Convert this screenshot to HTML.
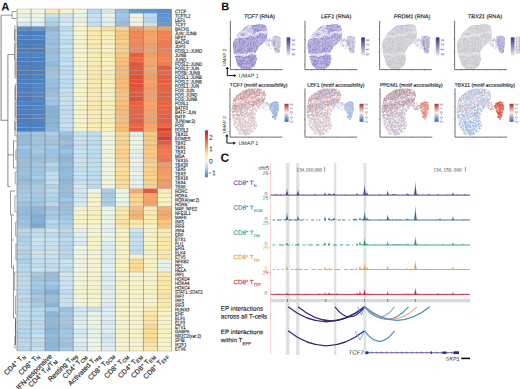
<!DOCTYPE html>
<html><head><meta charset="utf-8"><style>
html,body{margin:0;padding:0;background:#fff;width:520px;height:389px;overflow:hidden}
svg{display:block;font-family:"Liberation Sans",sans-serif} text{text-rendering:geometricPrecision}
</style></head><body>
<svg width="520" height="389" viewBox="0 0 520 389">
<rect width="520" height="389" fill="#fff"/>
<rect x="17.00" y="9.00" width="14.05" height="4.385" fill="#f5f4cf"/>
<rect x="31.05" y="9.00" width="14.05" height="4.385" fill="#f0f5df"/>
<rect x="45.10" y="9.00" width="14.05" height="4.385" fill="#fae9aa"/>
<rect x="59.15" y="9.00" width="14.05" height="4.385" fill="#f8f4c6"/>
<rect x="73.20" y="9.00" width="14.05" height="4.385" fill="#f0f5df"/>
<rect x="87.25" y="9.00" width="14.05" height="4.385" fill="#b6d6eb"/>
<rect x="101.30" y="9.00" width="14.05" height="4.385" fill="#d1e7f2"/>
<rect x="115.35" y="9.00" width="14.05" height="4.385" fill="#96bedd"/>
<rect x="129.40" y="9.00" width="14.05" height="4.385" fill="#679ace"/>
<rect x="143.45" y="9.00" width="14.05" height="4.385" fill="#6395cc"/>
<rect x="157.50" y="9.00" width="14.05" height="4.385" fill="#5b8ec9"/>
<rect x="17.00" y="13.38" width="14.05" height="4.385" fill="#e4f0ec"/>
<rect x="31.05" y="13.38" width="14.05" height="4.385" fill="#edf4e7"/>
<rect x="45.10" y="13.38" width="14.05" height="4.385" fill="#c7e1ef"/>
<rect x="59.15" y="13.38" width="14.05" height="4.385" fill="#d2e8f2"/>
<rect x="73.20" y="13.38" width="14.05" height="4.385" fill="#e9f3e9"/>
<rect x="87.25" y="13.38" width="14.05" height="4.385" fill="#c7e1ef"/>
<rect x="101.30" y="13.38" width="14.05" height="4.385" fill="#eef5e6"/>
<rect x="115.35" y="13.38" width="14.05" height="4.385" fill="#a5c9e4"/>
<rect x="129.40" y="13.38" width="14.05" height="4.385" fill="#f0f5e1"/>
<rect x="143.45" y="13.38" width="14.05" height="4.385" fill="#bfdcee"/>
<rect x="157.50" y="13.38" width="14.05" height="4.385" fill="#5f92cb"/>
<rect x="17.00" y="17.77" width="14.05" height="4.385" fill="#edf5e7"/>
<rect x="31.05" y="17.77" width="14.05" height="4.385" fill="#e7f2ea"/>
<rect x="45.10" y="17.77" width="14.05" height="4.385" fill="#b5d6eb"/>
<rect x="59.15" y="17.77" width="14.05" height="4.385" fill="#cee5f1"/>
<rect x="73.20" y="17.77" width="14.05" height="4.385" fill="#ebf3e8"/>
<rect x="87.25" y="17.77" width="14.05" height="4.385" fill="#cae2f0"/>
<rect x="101.30" y="17.77" width="14.05" height="4.385" fill="#e1efee"/>
<rect x="115.35" y="17.77" width="14.05" height="4.385" fill="#9ec4e1"/>
<rect x="129.40" y="17.77" width="14.05" height="4.385" fill="#f1f5dd"/>
<rect x="143.45" y="17.77" width="14.05" height="4.385" fill="#b6d6eb"/>
<rect x="157.50" y="17.77" width="14.05" height="4.385" fill="#6496cd"/>
<rect x="17.00" y="22.16" width="14.05" height="4.385" fill="#d5e9f2"/>
<rect x="31.05" y="22.16" width="14.05" height="4.385" fill="#dfeeef"/>
<rect x="45.10" y="22.16" width="14.05" height="4.385" fill="#accfe7"/>
<rect x="59.15" y="22.16" width="14.05" height="4.385" fill="#d4e9f2"/>
<rect x="73.20" y="22.16" width="14.05" height="4.385" fill="#f2f5da"/>
<rect x="87.25" y="22.16" width="14.05" height="4.385" fill="#c2deee"/>
<rect x="101.30" y="22.16" width="14.05" height="4.385" fill="#e1efee"/>
<rect x="115.35" y="22.16" width="14.05" height="4.385" fill="#95bedd"/>
<rect x="129.40" y="22.16" width="14.05" height="4.385" fill="#eaf3e8"/>
<rect x="143.45" y="22.16" width="14.05" height="4.385" fill="#c9e2f0"/>
<rect x="157.50" y="22.16" width="14.05" height="4.385" fill="#6698cd"/>
<rect x="17.00" y="26.54" width="14.05" height="4.385" fill="#588cc8"/>
<rect x="31.05" y="26.54" width="14.05" height="4.385" fill="#6497cd"/>
<rect x="45.10" y="26.54" width="14.05" height="4.385" fill="#8ab5d8"/>
<rect x="59.15" y="26.54" width="14.05" height="4.385" fill="#bedbed"/>
<rect x="73.20" y="26.54" width="14.05" height="4.385" fill="#f7f4c9"/>
<rect x="87.25" y="26.54" width="14.05" height="4.385" fill="#faeaac"/>
<rect x="101.30" y="26.54" width="14.05" height="4.385" fill="#fadf99"/>
<rect x="115.35" y="26.54" width="14.05" height="4.385" fill="#f9d48d"/>
<rect x="129.40" y="26.54" width="14.05" height="4.385" fill="#f39864"/>
<rect x="143.45" y="26.54" width="14.05" height="4.385" fill="#f6b574"/>
<rect x="157.50" y="26.54" width="14.05" height="4.385" fill="#f39c66"/>
<rect x="17.00" y="30.92" width="14.05" height="4.385" fill="#4a7ec2"/>
<rect x="31.05" y="30.92" width="14.05" height="4.385" fill="#4a7ec2"/>
<rect x="45.10" y="30.92" width="14.05" height="4.385" fill="#9dc3e0"/>
<rect x="59.15" y="30.92" width="14.05" height="4.385" fill="#c6e0ef"/>
<rect x="73.20" y="30.92" width="14.05" height="4.385" fill="#f6f4cb"/>
<rect x="87.25" y="30.92" width="14.05" height="4.385" fill="#fae9aa"/>
<rect x="101.30" y="30.92" width="14.05" height="4.385" fill="#f9f0bd"/>
<rect x="115.35" y="30.92" width="14.05" height="4.385" fill="#f8ca83"/>
<rect x="129.40" y="30.92" width="14.05" height="4.385" fill="#f08559"/>
<rect x="143.45" y="30.92" width="14.05" height="4.385" fill="#f4a169"/>
<rect x="157.50" y="30.92" width="14.05" height="4.385" fill="#f08257"/>
<rect x="17.00" y="35.31" width="14.05" height="4.385" fill="#4c80c3"/>
<rect x="31.05" y="35.31" width="14.05" height="4.385" fill="#5386c6"/>
<rect x="45.10" y="35.31" width="14.05" height="4.385" fill="#9ac1df"/>
<rect x="59.15" y="35.31" width="14.05" height="4.385" fill="#c5e0ef"/>
<rect x="73.20" y="35.31" width="14.05" height="4.385" fill="#f4f4d3"/>
<rect x="87.25" y="35.31" width="14.05" height="4.385" fill="#faeaac"/>
<rect x="101.30" y="35.31" width="14.05" height="4.385" fill="#f9efb9"/>
<rect x="115.35" y="35.31" width="14.05" height="4.385" fill="#f7c77f"/>
<rect x="129.40" y="35.31" width="14.05" height="4.385" fill="#f08257"/>
<rect x="143.45" y="35.31" width="14.05" height="4.385" fill="#f4a56c"/>
<rect x="157.50" y="35.31" width="14.05" height="4.385" fill="#f08357"/>
<rect x="17.00" y="39.70" width="14.05" height="4.385" fill="#4a7ec2"/>
<rect x="31.05" y="39.70" width="14.05" height="4.385" fill="#4a7ec2"/>
<rect x="45.10" y="39.70" width="14.05" height="4.385" fill="#99c1df"/>
<rect x="59.15" y="39.70" width="14.05" height="4.385" fill="#bddbed"/>
<rect x="73.20" y="39.70" width="14.05" height="4.385" fill="#f4f4d2"/>
<rect x="87.25" y="39.70" width="14.05" height="4.385" fill="#f9edb5"/>
<rect x="101.30" y="39.70" width="14.05" height="4.385" fill="#f9eeb7"/>
<rect x="115.35" y="39.70" width="14.05" height="4.385" fill="#f8d088"/>
<rect x="129.40" y="39.70" width="14.05" height="4.385" fill="#f18a5c"/>
<rect x="143.45" y="39.70" width="14.05" height="4.385" fill="#f4a36b"/>
<rect x="157.50" y="39.70" width="14.05" height="4.385" fill="#ef7c54"/>
<rect x="17.00" y="44.08" width="14.05" height="4.385" fill="#4a7ec2"/>
<rect x="31.05" y="44.08" width="14.05" height="4.385" fill="#4e82c4"/>
<rect x="45.10" y="44.08" width="14.05" height="4.385" fill="#9bc2df"/>
<rect x="59.15" y="44.08" width="14.05" height="4.385" fill="#c8e2f0"/>
<rect x="73.20" y="44.08" width="14.05" height="4.385" fill="#f8f4c7"/>
<rect x="87.25" y="44.08" width="14.05" height="4.385" fill="#fae9aa"/>
<rect x="101.30" y="44.08" width="14.05" height="4.385" fill="#f9f1be"/>
<rect x="115.35" y="44.08" width="14.05" height="4.385" fill="#f8cd85"/>
<rect x="129.40" y="44.08" width="14.05" height="4.385" fill="#f1885b"/>
<rect x="143.45" y="44.08" width="14.05" height="4.385" fill="#f39d67"/>
<rect x="157.50" y="44.08" width="14.05" height="4.385" fill="#ef7b53"/>
<rect x="17.00" y="48.46" width="14.05" height="4.385" fill="#4a7ec2"/>
<rect x="31.05" y="48.46" width="14.05" height="4.385" fill="#4b7fc2"/>
<rect x="45.10" y="48.46" width="14.05" height="4.385" fill="#96bedd"/>
<rect x="59.15" y="48.46" width="14.05" height="4.385" fill="#bedced"/>
<rect x="73.20" y="48.46" width="14.05" height="4.385" fill="#f6f4cd"/>
<rect x="87.25" y="48.46" width="14.05" height="4.385" fill="#faeaae"/>
<rect x="101.30" y="48.46" width="14.05" height="4.385" fill="#f9f1be"/>
<rect x="115.35" y="48.46" width="14.05" height="4.385" fill="#f9d18a"/>
<rect x="129.40" y="48.46" width="14.05" height="4.385" fill="#f0885a"/>
<rect x="143.45" y="48.46" width="14.05" height="4.385" fill="#f4a46b"/>
<rect x="157.50" y="48.46" width="14.05" height="4.385" fill="#ef8056"/>
<rect x="17.00" y="52.85" width="14.05" height="4.385" fill="#4d81c3"/>
<rect x="31.05" y="52.85" width="14.05" height="4.385" fill="#5084c5"/>
<rect x="45.10" y="52.85" width="14.05" height="4.385" fill="#9ac1df"/>
<rect x="59.15" y="52.85" width="14.05" height="4.385" fill="#c4dfef"/>
<rect x="73.20" y="52.85" width="14.05" height="4.385" fill="#f7f4ca"/>
<rect x="87.25" y="52.85" width="14.05" height="4.385" fill="#f9edb5"/>
<rect x="101.30" y="52.85" width="14.05" height="4.385" fill="#f9edb5"/>
<rect x="115.35" y="52.85" width="14.05" height="4.385" fill="#f8c982"/>
<rect x="129.40" y="52.85" width="14.05" height="4.385" fill="#e75e43"/>
<rect x="143.45" y="52.85" width="14.05" height="4.385" fill="#f39e68"/>
<rect x="157.50" y="52.85" width="14.05" height="4.385" fill="#f08257"/>
<rect x="17.00" y="57.23" width="14.05" height="4.385" fill="#4a7ec2"/>
<rect x="31.05" y="57.23" width="14.05" height="4.385" fill="#4a7ec2"/>
<rect x="45.10" y="57.23" width="14.05" height="4.385" fill="#9cc3e0"/>
<rect x="59.15" y="57.23" width="14.05" height="4.385" fill="#bcdaed"/>
<rect x="73.20" y="57.23" width="14.05" height="4.385" fill="#f4f4d3"/>
<rect x="87.25" y="57.23" width="14.05" height="4.385" fill="#f9ecb3"/>
<rect x="101.30" y="57.23" width="14.05" height="4.385" fill="#f9f1bf"/>
<rect x="115.35" y="57.23" width="14.05" height="4.385" fill="#f7c17a"/>
<rect x="129.40" y="57.23" width="14.05" height="4.385" fill="#ea6748"/>
<rect x="143.45" y="57.23" width="14.05" height="4.385" fill="#f5a96e"/>
<rect x="157.50" y="57.23" width="14.05" height="4.385" fill="#f08659"/>
<rect x="17.00" y="61.62" width="14.05" height="4.385" fill="#4a7ec2"/>
<rect x="31.05" y="61.62" width="14.05" height="4.385" fill="#4d81c3"/>
<rect x="45.10" y="61.62" width="14.05" height="4.385" fill="#92bbdb"/>
<rect x="59.15" y="61.62" width="14.05" height="4.385" fill="#c8e1ef"/>
<rect x="73.20" y="61.62" width="14.05" height="4.385" fill="#f7f4cb"/>
<rect x="87.25" y="61.62" width="14.05" height="4.385" fill="#f9edb4"/>
<rect x="101.30" y="61.62" width="14.05" height="4.385" fill="#f9f1be"/>
<rect x="115.35" y="61.62" width="14.05" height="4.385" fill="#f7c07a"/>
<rect x="129.40" y="61.62" width="14.05" height="4.385" fill="#e4553e"/>
<rect x="143.45" y="61.62" width="14.05" height="4.385" fill="#f4a76d"/>
<rect x="157.50" y="61.62" width="14.05" height="4.385" fill="#ef7c54"/>
<rect x="17.00" y="66.00" width="14.05" height="4.385" fill="#4d81c3"/>
<rect x="31.05" y="66.00" width="14.05" height="4.385" fill="#4e82c4"/>
<rect x="45.10" y="66.00" width="14.05" height="4.385" fill="#9ac1df"/>
<rect x="59.15" y="66.00" width="14.05" height="4.385" fill="#bcdaed"/>
<rect x="73.20" y="66.00" width="14.05" height="4.385" fill="#f4f4d3"/>
<rect x="87.25" y="66.00" width="14.05" height="4.385" fill="#faecb1"/>
<rect x="101.30" y="66.00" width="14.05" height="4.385" fill="#f9f1be"/>
<rect x="115.35" y="66.00" width="14.05" height="4.385" fill="#f6ba77"/>
<rect x="129.40" y="66.00" width="14.05" height="4.385" fill="#e5573f"/>
<rect x="143.45" y="66.00" width="14.05" height="4.385" fill="#f5a86d"/>
<rect x="157.50" y="66.00" width="14.05" height="4.385" fill="#e65d42"/>
<rect x="17.00" y="70.39" width="14.05" height="4.385" fill="#4a7ec2"/>
<rect x="31.05" y="70.39" width="14.05" height="4.385" fill="#4b7fc2"/>
<rect x="45.10" y="70.39" width="14.05" height="4.385" fill="#9bc2df"/>
<rect x="59.15" y="70.39" width="14.05" height="4.385" fill="#bbdaed"/>
<rect x="73.20" y="70.39" width="14.05" height="4.385" fill="#f6f4cc"/>
<rect x="87.25" y="70.39" width="14.05" height="4.385" fill="#fae8a9"/>
<rect x="101.30" y="70.39" width="14.05" height="4.385" fill="#f9edb6"/>
<rect x="115.35" y="70.39" width="14.05" height="4.385" fill="#f6bc78"/>
<rect x="129.40" y="70.39" width="14.05" height="4.385" fill="#e4563e"/>
<rect x="143.45" y="70.39" width="14.05" height="4.385" fill="#f4a46b"/>
<rect x="157.50" y="70.39" width="14.05" height="4.385" fill="#e96647"/>
<rect x="17.00" y="74.77" width="14.05" height="4.385" fill="#4b7fc2"/>
<rect x="31.05" y="74.77" width="14.05" height="4.385" fill="#4f82c4"/>
<rect x="45.10" y="74.77" width="14.05" height="4.385" fill="#9fc5e1"/>
<rect x="59.15" y="74.77" width="14.05" height="4.385" fill="#c0ddee"/>
<rect x="73.20" y="74.77" width="14.05" height="4.385" fill="#f5f4d1"/>
<rect x="87.25" y="74.77" width="14.05" height="4.385" fill="#fae9ab"/>
<rect x="101.30" y="74.77" width="14.05" height="4.385" fill="#f9edb4"/>
<rect x="115.35" y="74.77" width="14.05" height="4.385" fill="#f6ba76"/>
<rect x="129.40" y="74.77" width="14.05" height="4.385" fill="#e24f3b"/>
<rect x="143.45" y="74.77" width="14.05" height="4.385" fill="#f39e68"/>
<rect x="157.50" y="74.77" width="14.05" height="4.385" fill="#e75f43"/>
<rect x="17.00" y="79.16" width="14.05" height="4.385" fill="#4a7ec2"/>
<rect x="31.05" y="79.16" width="14.05" height="4.385" fill="#4e82c4"/>
<rect x="45.10" y="79.16" width="14.05" height="4.385" fill="#98bfde"/>
<rect x="59.15" y="79.16" width="14.05" height="4.385" fill="#bbdaed"/>
<rect x="73.20" y="79.16" width="14.05" height="4.385" fill="#f4f4d4"/>
<rect x="87.25" y="79.16" width="14.05" height="4.385" fill="#f9ecb2"/>
<rect x="101.30" y="79.16" width="14.05" height="4.385" fill="#f9f1be"/>
<rect x="115.35" y="79.16" width="14.05" height="4.385" fill="#f6bc78"/>
<rect x="129.40" y="79.16" width="14.05" height="4.385" fill="#e24e3a"/>
<rect x="143.45" y="79.16" width="14.05" height="4.385" fill="#f4a36a"/>
<rect x="157.50" y="79.16" width="14.05" height="4.385" fill="#e65d42"/>
<rect x="17.00" y="83.55" width="14.05" height="4.385" fill="#4d81c3"/>
<rect x="31.05" y="83.55" width="14.05" height="4.385" fill="#5386c6"/>
<rect x="45.10" y="83.55" width="14.05" height="4.385" fill="#98c0de"/>
<rect x="59.15" y="83.55" width="14.05" height="4.385" fill="#bedced"/>
<rect x="73.20" y="83.55" width="14.05" height="4.385" fill="#f5f4d1"/>
<rect x="87.25" y="83.55" width="14.05" height="4.385" fill="#f9edb3"/>
<rect x="101.30" y="83.55" width="14.05" height="4.385" fill="#f9f1bf"/>
<rect x="115.35" y="83.55" width="14.05" height="4.385" fill="#f6bd78"/>
<rect x="129.40" y="83.55" width="14.05" height="4.385" fill="#e24e3a"/>
<rect x="143.45" y="83.55" width="14.05" height="4.385" fill="#f39e67"/>
<rect x="157.50" y="83.55" width="14.05" height="4.385" fill="#e86245"/>
<rect x="17.00" y="87.93" width="14.05" height="4.385" fill="#4a7ec2"/>
<rect x="31.05" y="87.93" width="14.05" height="4.385" fill="#5185c5"/>
<rect x="45.10" y="87.93" width="14.05" height="4.385" fill="#93bcdc"/>
<rect x="59.15" y="87.93" width="14.05" height="4.385" fill="#c5e0ef"/>
<rect x="73.20" y="87.93" width="14.05" height="4.385" fill="#f8f4c6"/>
<rect x="87.25" y="87.93" width="14.05" height="4.385" fill="#fae9ab"/>
<rect x="101.30" y="87.93" width="14.05" height="4.385" fill="#f9eeb7"/>
<rect x="115.35" y="87.93" width="14.05" height="4.385" fill="#f7bf79"/>
<rect x="129.40" y="87.93" width="14.05" height="4.385" fill="#e5573f"/>
<rect x="143.45" y="87.93" width="14.05" height="4.385" fill="#f39e68"/>
<rect x="157.50" y="87.93" width="14.05" height="4.385" fill="#e96446"/>
<rect x="17.00" y="92.31" width="14.05" height="4.385" fill="#4b7fc3"/>
<rect x="31.05" y="92.31" width="14.05" height="4.385" fill="#5387c6"/>
<rect x="45.10" y="92.31" width="14.05" height="4.385" fill="#98c0de"/>
<rect x="59.15" y="92.31" width="14.05" height="4.385" fill="#c1ddee"/>
<rect x="73.20" y="92.31" width="14.05" height="4.385" fill="#f8f4c6"/>
<rect x="87.25" y="92.31" width="14.05" height="4.385" fill="#faeaac"/>
<rect x="101.30" y="92.31" width="14.05" height="4.385" fill="#f9f1bf"/>
<rect x="115.35" y="92.31" width="14.05" height="4.385" fill="#f7c37c"/>
<rect x="129.40" y="92.31" width="14.05" height="4.385" fill="#e5573f"/>
<rect x="143.45" y="92.31" width="14.05" height="4.385" fill="#f39d67"/>
<rect x="157.50" y="92.31" width="14.05" height="4.385" fill="#e75e43"/>
<rect x="17.00" y="96.70" width="14.05" height="4.385" fill="#4a7ec2"/>
<rect x="31.05" y="96.70" width="14.05" height="4.385" fill="#5285c5"/>
<rect x="45.10" y="96.70" width="14.05" height="4.385" fill="#a2c7e2"/>
<rect x="59.15" y="96.70" width="14.05" height="4.385" fill="#c5e0ef"/>
<rect x="73.20" y="96.70" width="14.05" height="4.385" fill="#f5f4cf"/>
<rect x="87.25" y="96.70" width="14.05" height="4.385" fill="#faebae"/>
<rect x="101.30" y="96.70" width="14.05" height="4.385" fill="#f8f1c0"/>
<rect x="115.35" y="96.70" width="14.05" height="4.385" fill="#f7c57d"/>
<rect x="129.40" y="96.70" width="14.05" height="4.385" fill="#e24e3a"/>
<rect x="143.45" y="96.70" width="14.05" height="4.385" fill="#f4a069"/>
<rect x="157.50" y="96.70" width="14.05" height="4.385" fill="#e86245"/>
<rect x="17.00" y="101.08" width="14.05" height="4.385" fill="#4d81c3"/>
<rect x="31.05" y="101.08" width="14.05" height="4.385" fill="#4e81c3"/>
<rect x="45.10" y="101.08" width="14.05" height="4.385" fill="#a0c6e1"/>
<rect x="59.15" y="101.08" width="14.05" height="4.385" fill="#c7e1ef"/>
<rect x="73.20" y="101.08" width="14.05" height="4.385" fill="#f5f4d1"/>
<rect x="87.25" y="101.08" width="14.05" height="4.385" fill="#f9ecb3"/>
<rect x="101.30" y="101.08" width="14.05" height="4.385" fill="#f9f1bd"/>
<rect x="115.35" y="101.08" width="14.05" height="4.385" fill="#f7c27b"/>
<rect x="129.40" y="101.08" width="14.05" height="4.385" fill="#e86144"/>
<rect x="143.45" y="101.08" width="14.05" height="4.385" fill="#f4a56c"/>
<rect x="157.50" y="101.08" width="14.05" height="4.385" fill="#e86346"/>
<rect x="17.00" y="105.47" width="14.05" height="4.385" fill="#4a7ec2"/>
<rect x="31.05" y="105.47" width="14.05" height="4.385" fill="#5286c5"/>
<rect x="45.10" y="105.47" width="14.05" height="4.385" fill="#87b3d8"/>
<rect x="59.15" y="105.47" width="14.05" height="4.385" fill="#c2deee"/>
<rect x="73.20" y="105.47" width="14.05" height="4.385" fill="#f6f4cb"/>
<rect x="87.25" y="105.47" width="14.05" height="4.385" fill="#fae9aa"/>
<rect x="101.30" y="105.47" width="14.05" height="4.385" fill="#f9f0bc"/>
<rect x="115.35" y="105.47" width="14.05" height="4.385" fill="#f6b976"/>
<rect x="129.40" y="105.47" width="14.05" height="4.385" fill="#e86245"/>
<rect x="143.45" y="105.47" width="14.05" height="4.385" fill="#f4a26a"/>
<rect x="157.50" y="105.47" width="14.05" height="4.385" fill="#e86245"/>
<rect x="17.00" y="109.85" width="14.05" height="4.385" fill="#4a7ec2"/>
<rect x="31.05" y="109.85" width="14.05" height="4.385" fill="#4e81c3"/>
<rect x="45.10" y="109.85" width="14.05" height="4.385" fill="#85b1d7"/>
<rect x="59.15" y="109.85" width="14.05" height="4.385" fill="#bbdaed"/>
<rect x="73.20" y="109.85" width="14.05" height="4.385" fill="#f7f4c8"/>
<rect x="87.25" y="109.85" width="14.05" height="4.385" fill="#f9edb4"/>
<rect x="101.30" y="109.85" width="14.05" height="4.385" fill="#f9f0bb"/>
<rect x="115.35" y="109.85" width="14.05" height="4.385" fill="#f6bb77"/>
<rect x="129.40" y="109.85" width="14.05" height="4.385" fill="#e86145"/>
<rect x="143.45" y="109.85" width="14.05" height="4.385" fill="#f4a46b"/>
<rect x="157.50" y="109.85" width="14.05" height="4.385" fill="#e86245"/>
<rect x="17.00" y="114.24" width="14.05" height="4.385" fill="#4a7ec2"/>
<rect x="31.05" y="114.24" width="14.05" height="4.385" fill="#5185c5"/>
<rect x="45.10" y="114.24" width="14.05" height="4.385" fill="#84b0d7"/>
<rect x="59.15" y="114.24" width="14.05" height="4.385" fill="#c3dfee"/>
<rect x="73.20" y="114.24" width="14.05" height="4.385" fill="#f5f4d0"/>
<rect x="87.25" y="114.24" width="14.05" height="4.385" fill="#f9ecb2"/>
<rect x="101.30" y="114.24" width="14.05" height="4.385" fill="#f9eeb7"/>
<rect x="115.35" y="114.24" width="14.05" height="4.385" fill="#f6be79"/>
<rect x="129.40" y="114.24" width="14.05" height="4.385" fill="#e86145"/>
<rect x="143.45" y="114.24" width="14.05" height="4.385" fill="#f49f68"/>
<rect x="157.50" y="114.24" width="14.05" height="4.385" fill="#e75d42"/>
<rect x="17.00" y="118.62" width="14.05" height="4.385" fill="#4a7ec2"/>
<rect x="31.05" y="118.62" width="14.05" height="4.385" fill="#4f83c4"/>
<rect x="45.10" y="118.62" width="14.05" height="4.385" fill="#89b5d8"/>
<rect x="59.15" y="118.62" width="14.05" height="4.385" fill="#c2deee"/>
<rect x="73.20" y="118.62" width="14.05" height="4.385" fill="#f7f4c9"/>
<rect x="87.25" y="118.62" width="14.05" height="4.385" fill="#faebb0"/>
<rect x="101.30" y="118.62" width="14.05" height="4.385" fill="#f9efba"/>
<rect x="115.35" y="118.62" width="14.05" height="4.385" fill="#f7bf79"/>
<rect x="129.40" y="118.62" width="14.05" height="4.385" fill="#e65d42"/>
<rect x="143.45" y="118.62" width="14.05" height="4.385" fill="#f49f68"/>
<rect x="157.50" y="118.62" width="14.05" height="4.385" fill="#e75d43"/>
<rect x="17.00" y="123.01" width="14.05" height="4.385" fill="#4d81c3"/>
<rect x="31.05" y="123.01" width="14.05" height="4.385" fill="#4c80c3"/>
<rect x="45.10" y="123.01" width="14.05" height="4.385" fill="#8ab5d9"/>
<rect x="59.15" y="123.01" width="14.05" height="4.385" fill="#c9e2f0"/>
<rect x="73.20" y="123.01" width="14.05" height="4.385" fill="#f8f4c7"/>
<rect x="87.25" y="123.01" width="14.05" height="4.385" fill="#f9edb4"/>
<rect x="101.30" y="123.01" width="14.05" height="4.385" fill="#f8f2c0"/>
<rect x="115.35" y="123.01" width="14.05" height="4.385" fill="#f7bf79"/>
<rect x="129.40" y="123.01" width="14.05" height="4.385" fill="#ea6748"/>
<rect x="143.45" y="123.01" width="14.05" height="4.385" fill="#f4a66c"/>
<rect x="157.50" y="123.01" width="14.05" height="4.385" fill="#ea6748"/>
<rect x="17.00" y="127.39" width="14.05" height="4.385" fill="#4a7ec2"/>
<rect x="31.05" y="127.39" width="14.05" height="4.385" fill="#5185c5"/>
<rect x="45.10" y="127.39" width="14.05" height="4.385" fill="#8fb9da"/>
<rect x="59.15" y="127.39" width="14.05" height="4.385" fill="#bddbed"/>
<rect x="73.20" y="127.39" width="14.05" height="4.385" fill="#f7f4c9"/>
<rect x="87.25" y="127.39" width="14.05" height="4.385" fill="#faeaad"/>
<rect x="101.30" y="127.39" width="14.05" height="4.385" fill="#f8f1bf"/>
<rect x="115.35" y="127.39" width="14.05" height="4.385" fill="#f6b976"/>
<rect x="129.40" y="127.39" width="14.05" height="4.385" fill="#e65c42"/>
<rect x="143.45" y="127.39" width="14.05" height="4.385" fill="#f4a66c"/>
<rect x="157.50" y="127.39" width="14.05" height="4.385" fill="#d84337"/>
<rect x="17.00" y="131.78" width="14.05" height="4.385" fill="#98c0de"/>
<rect x="31.05" y="131.78" width="14.05" height="4.385" fill="#a1c6e2"/>
<rect x="45.10" y="131.78" width="14.05" height="4.385" fill="#accfe7"/>
<rect x="59.15" y="131.78" width="14.05" height="4.385" fill="#9bc2df"/>
<rect x="73.20" y="131.78" width="14.05" height="4.385" fill="#c6e0ef"/>
<rect x="87.25" y="131.78" width="14.05" height="4.385" fill="#bddbed"/>
<rect x="101.30" y="131.78" width="14.05" height="4.385" fill="#f1f5dc"/>
<rect x="115.35" y="131.78" width="14.05" height="4.385" fill="#f9d68f"/>
<rect x="129.40" y="131.78" width="14.05" height="4.385" fill="#e1efed"/>
<rect x="143.45" y="131.78" width="14.05" height="4.385" fill="#f8ca82"/>
<rect x="157.50" y="131.78" width="14.05" height="4.385" fill="#e4553e"/>
<rect x="17.00" y="136.16" width="14.05" height="4.385" fill="#92bbdb"/>
<rect x="31.05" y="136.16" width="14.05" height="4.385" fill="#a2c7e2"/>
<rect x="45.10" y="136.16" width="14.05" height="4.385" fill="#a3c8e3"/>
<rect x="59.15" y="136.16" width="14.05" height="4.385" fill="#8eb8da"/>
<rect x="73.20" y="136.16" width="14.05" height="4.385" fill="#c9e2f0"/>
<rect x="87.25" y="136.16" width="14.05" height="4.385" fill="#c0ddee"/>
<rect x="101.30" y="136.16" width="14.05" height="4.385" fill="#f1f5dc"/>
<rect x="115.35" y="136.16" width="14.05" height="4.385" fill="#fad891"/>
<rect x="129.40" y="136.16" width="14.05" height="4.385" fill="#eef5e5"/>
<rect x="143.45" y="136.16" width="14.05" height="4.385" fill="#f7c57d"/>
<rect x="157.50" y="136.16" width="14.05" height="4.385" fill="#d43f36"/>
<rect x="17.00" y="140.55" width="14.05" height="4.385" fill="#93bcdc"/>
<rect x="31.05" y="140.55" width="14.05" height="4.385" fill="#9dc4e0"/>
<rect x="45.10" y="140.55" width="14.05" height="4.385" fill="#9cc3e0"/>
<rect x="59.15" y="140.55" width="14.05" height="4.385" fill="#9ac2df"/>
<rect x="73.20" y="140.55" width="14.05" height="4.385" fill="#c8e1ef"/>
<rect x="87.25" y="140.55" width="14.05" height="4.385" fill="#b9d8ec"/>
<rect x="101.30" y="140.55" width="14.05" height="4.385" fill="#f1f5dd"/>
<rect x="115.35" y="140.55" width="14.05" height="4.385" fill="#f9d089"/>
<rect x="129.40" y="140.55" width="14.05" height="4.385" fill="#ecf4e7"/>
<rect x="143.45" y="140.55" width="14.05" height="4.385" fill="#f8ca83"/>
<rect x="157.50" y="140.55" width="14.05" height="4.385" fill="#e65c42"/>
<rect x="17.00" y="144.94" width="14.05" height="4.385" fill="#a1c6e2"/>
<rect x="31.05" y="144.94" width="14.05" height="4.385" fill="#a2c7e2"/>
<rect x="45.10" y="144.94" width="14.05" height="4.385" fill="#a7cbe4"/>
<rect x="59.15" y="144.94" width="14.05" height="4.385" fill="#8fb9da"/>
<rect x="73.20" y="144.94" width="14.05" height="4.385" fill="#c4dfef"/>
<rect x="87.25" y="144.94" width="14.05" height="4.385" fill="#c1deee"/>
<rect x="101.30" y="144.94" width="14.05" height="4.385" fill="#f1f5dd"/>
<rect x="115.35" y="144.94" width="14.05" height="4.385" fill="#fad891"/>
<rect x="129.40" y="144.94" width="14.05" height="4.385" fill="#eef5e6"/>
<rect x="143.45" y="144.94" width="14.05" height="4.385" fill="#f7c77f"/>
<rect x="157.50" y="144.94" width="14.05" height="4.385" fill="#ed724e"/>
<rect x="17.00" y="149.32" width="14.05" height="4.385" fill="#93bcdc"/>
<rect x="31.05" y="149.32" width="14.05" height="4.385" fill="#a7cbe4"/>
<rect x="45.10" y="149.32" width="14.05" height="4.385" fill="#9cc3e0"/>
<rect x="59.15" y="149.32" width="14.05" height="4.385" fill="#9cc3e0"/>
<rect x="73.20" y="149.32" width="14.05" height="4.385" fill="#cae3f0"/>
<rect x="87.25" y="149.32" width="14.05" height="4.385" fill="#bcdaed"/>
<rect x="101.30" y="149.32" width="14.05" height="4.385" fill="#f1f5db"/>
<rect x="115.35" y="149.32" width="14.05" height="4.385" fill="#f8d089"/>
<rect x="129.40" y="149.32" width="14.05" height="4.385" fill="#e3f0ed"/>
<rect x="143.45" y="149.32" width="14.05" height="4.385" fill="#f8cc84"/>
<rect x="157.50" y="149.32" width="14.05" height="4.385" fill="#ee7650"/>
<rect x="17.00" y="153.70" width="14.05" height="4.385" fill="#96bedd"/>
<rect x="31.05" y="153.70" width="14.05" height="4.385" fill="#9ac2df"/>
<rect x="45.10" y="153.70" width="14.05" height="4.385" fill="#9ec4e1"/>
<rect x="59.15" y="153.70" width="14.05" height="4.385" fill="#8fb9da"/>
<rect x="73.20" y="153.70" width="14.05" height="4.385" fill="#c7e1ef"/>
<rect x="87.25" y="153.70" width="14.05" height="4.385" fill="#bcdaed"/>
<rect x="101.30" y="153.70" width="14.05" height="4.385" fill="#f0f5df"/>
<rect x="115.35" y="153.70" width="14.05" height="4.385" fill="#f9d28a"/>
<rect x="129.40" y="153.70" width="14.05" height="4.385" fill="#e3f0ed"/>
<rect x="143.45" y="153.70" width="14.05" height="4.385" fill="#f7c880"/>
<rect x="157.50" y="153.70" width="14.05" height="4.385" fill="#ef7a53"/>
<rect x="17.00" y="158.09" width="14.05" height="4.385" fill="#97bfde"/>
<rect x="31.05" y="158.09" width="14.05" height="4.385" fill="#99c0de"/>
<rect x="45.10" y="158.09" width="14.05" height="4.385" fill="#9fc5e1"/>
<rect x="59.15" y="158.09" width="14.05" height="4.385" fill="#8eb8da"/>
<rect x="73.20" y="158.09" width="14.05" height="4.385" fill="#cfe6f1"/>
<rect x="87.25" y="158.09" width="14.05" height="4.385" fill="#bfdcee"/>
<rect x="101.30" y="158.09" width="14.05" height="4.385" fill="#f0f5e1"/>
<rect x="115.35" y="158.09" width="14.05" height="4.385" fill="#f9d48d"/>
<rect x="129.40" y="158.09" width="14.05" height="4.385" fill="#eef5e6"/>
<rect x="143.45" y="158.09" width="14.05" height="4.385" fill="#f8cc84"/>
<rect x="157.50" y="158.09" width="14.05" height="4.385" fill="#ed724e"/>
<rect x="17.00" y="162.47" width="14.05" height="4.385" fill="#99c0de"/>
<rect x="31.05" y="162.47" width="14.05" height="4.385" fill="#a1c6e2"/>
<rect x="45.10" y="162.47" width="14.05" height="4.385" fill="#b7d7eb"/>
<rect x="59.15" y="162.47" width="14.05" height="4.385" fill="#94bddc"/>
<rect x="73.20" y="162.47" width="14.05" height="4.385" fill="#cbe3f0"/>
<rect x="87.25" y="162.47" width="14.05" height="4.385" fill="#c1deee"/>
<rect x="101.30" y="162.47" width="14.05" height="4.385" fill="#f4f4d4"/>
<rect x="115.35" y="162.47" width="14.05" height="4.385" fill="#fade97"/>
<rect x="129.40" y="162.47" width="14.05" height="4.385" fill="#edf4e7"/>
<rect x="143.45" y="162.47" width="14.05" height="4.385" fill="#f9d28b"/>
<rect x="157.50" y="162.47" width="14.05" height="4.385" fill="#f39b66"/>
<rect x="17.00" y="166.86" width="14.05" height="4.385" fill="#98c0de"/>
<rect x="31.05" y="166.86" width="14.05" height="4.385" fill="#9ec5e1"/>
<rect x="45.10" y="166.86" width="14.05" height="4.385" fill="#aacde6"/>
<rect x="59.15" y="166.86" width="14.05" height="4.385" fill="#90bada"/>
<rect x="73.20" y="166.86" width="14.05" height="4.385" fill="#c5dfef"/>
<rect x="87.25" y="166.86" width="14.05" height="4.385" fill="#c2deee"/>
<rect x="101.30" y="166.86" width="14.05" height="4.385" fill="#f0f5e0"/>
<rect x="115.35" y="166.86" width="14.05" height="4.385" fill="#fadf99"/>
<rect x="129.40" y="166.86" width="14.05" height="4.385" fill="#dfeeef"/>
<rect x="143.45" y="166.86" width="14.05" height="4.385" fill="#f9d18a"/>
<rect x="157.50" y="166.86" width="14.05" height="4.385" fill="#f39864"/>
<rect x="17.00" y="171.25" width="14.05" height="4.385" fill="#9dc3e0"/>
<rect x="31.05" y="171.25" width="14.05" height="4.385" fill="#9dc4e0"/>
<rect x="45.10" y="171.25" width="14.05" height="4.385" fill="#c1ddee"/>
<rect x="59.15" y="171.25" width="14.05" height="4.385" fill="#92bcdc"/>
<rect x="73.20" y="171.25" width="14.05" height="4.385" fill="#cbe3f0"/>
<rect x="87.25" y="171.25" width="14.05" height="4.385" fill="#b9d9ec"/>
<rect x="101.30" y="171.25" width="14.05" height="4.385" fill="#f1f5dd"/>
<rect x="115.35" y="171.25" width="14.05" height="4.385" fill="#fade98"/>
<rect x="129.40" y="171.25" width="14.05" height="4.385" fill="#eef5e5"/>
<rect x="143.45" y="171.25" width="14.05" height="4.385" fill="#f8cf88"/>
<rect x="157.50" y="171.25" width="14.05" height="4.385" fill="#f39c66"/>
<rect x="17.00" y="175.63" width="14.05" height="4.385" fill="#96bedd"/>
<rect x="31.05" y="175.63" width="14.05" height="4.385" fill="#a8cce5"/>
<rect x="45.10" y="175.63" width="14.05" height="4.385" fill="#c2deee"/>
<rect x="59.15" y="175.63" width="14.05" height="4.385" fill="#93bcdc"/>
<rect x="73.20" y="175.63" width="14.05" height="4.385" fill="#c4dfef"/>
<rect x="87.25" y="175.63" width="14.05" height="4.385" fill="#bddbed"/>
<rect x="101.30" y="175.63" width="14.05" height="4.385" fill="#f1f5dc"/>
<rect x="115.35" y="175.63" width="14.05" height="4.385" fill="#fadc95"/>
<rect x="129.40" y="175.63" width="14.05" height="4.385" fill="#e1efed"/>
<rect x="143.45" y="175.63" width="14.05" height="4.385" fill="#f9d48d"/>
<rect x="157.50" y="175.63" width="14.05" height="4.385" fill="#f4a36b"/>
<rect x="17.00" y="180.01" width="14.05" height="4.385" fill="#96bedd"/>
<rect x="31.05" y="180.01" width="14.05" height="4.385" fill="#9ac1df"/>
<rect x="45.10" y="180.01" width="14.05" height="4.385" fill="#c3dfee"/>
<rect x="59.15" y="180.01" width="14.05" height="4.385" fill="#8eb9da"/>
<rect x="73.20" y="180.01" width="14.05" height="4.385" fill="#c4dfef"/>
<rect x="87.25" y="180.01" width="14.05" height="4.385" fill="#bbdaed"/>
<rect x="101.30" y="180.01" width="14.05" height="4.385" fill="#f0f5e0"/>
<rect x="115.35" y="180.01" width="14.05" height="4.385" fill="#fadb95"/>
<rect x="129.40" y="180.01" width="14.05" height="4.385" fill="#e7f2ea"/>
<rect x="143.45" y="180.01" width="14.05" height="4.385" fill="#f9d28a"/>
<rect x="157.50" y="180.01" width="14.05" height="4.385" fill="#f39a66"/>
<rect x="17.00" y="184.40" width="14.05" height="4.385" fill="#9dc4e0"/>
<rect x="31.05" y="184.40" width="14.05" height="4.385" fill="#a7cbe5"/>
<rect x="45.10" y="184.40" width="14.05" height="4.385" fill="#afd1e8"/>
<rect x="59.15" y="184.40" width="14.05" height="4.385" fill="#93bcdc"/>
<rect x="73.20" y="184.40" width="14.05" height="4.385" fill="#d3e8f2"/>
<rect x="87.25" y="184.40" width="14.05" height="4.385" fill="#b9d9ec"/>
<rect x="101.30" y="184.40" width="14.05" height="4.385" fill="#f2f5d8"/>
<rect x="115.35" y="184.40" width="14.05" height="4.385" fill="#fadb94"/>
<rect x="129.40" y="184.40" width="14.05" height="4.385" fill="#dfeeef"/>
<rect x="143.45" y="184.40" width="14.05" height="4.385" fill="#f9d18a"/>
<rect x="157.50" y="184.40" width="14.05" height="4.385" fill="#f39764"/>
<rect x="17.00" y="188.78" width="14.05" height="4.385" fill="#a6cae4"/>
<rect x="31.05" y="188.78" width="14.05" height="4.385" fill="#a7cbe5"/>
<rect x="45.10" y="188.78" width="14.05" height="4.385" fill="#bddbed"/>
<rect x="59.15" y="188.78" width="14.05" height="4.385" fill="#97bfdd"/>
<rect x="73.20" y="188.78" width="14.05" height="4.385" fill="#d2e7f2"/>
<rect x="87.25" y="188.78" width="14.05" height="4.385" fill="#eef5e6"/>
<rect x="101.30" y="188.78" width="14.05" height="4.385" fill="#a9cde5"/>
<rect x="115.35" y="188.78" width="14.05" height="4.385" fill="#ecf4e7"/>
<rect x="129.40" y="188.78" width="14.05" height="4.385" fill="#f5a96e"/>
<rect x="143.45" y="188.78" width="14.05" height="4.385" fill="#e5573f"/>
<rect x="157.50" y="188.78" width="14.05" height="4.385" fill="#f9f0bb"/>
<rect x="17.00" y="193.17" width="14.05" height="4.385" fill="#a6cbe4"/>
<rect x="31.05" y="193.17" width="14.05" height="4.385" fill="#a7cbe4"/>
<rect x="45.10" y="193.17" width="14.05" height="4.385" fill="#b4d5ea"/>
<rect x="59.15" y="193.17" width="14.05" height="4.385" fill="#95bedd"/>
<rect x="73.20" y="193.17" width="14.05" height="4.385" fill="#cce4f0"/>
<rect x="87.25" y="193.17" width="14.05" height="4.385" fill="#f5f4cf"/>
<rect x="101.30" y="193.17" width="14.05" height="4.385" fill="#a4c9e3"/>
<rect x="115.35" y="193.17" width="14.05" height="4.385" fill="#eff5e3"/>
<rect x="129.40" y="193.17" width="14.05" height="4.385" fill="#f9d38c"/>
<rect x="143.45" y="193.17" width="14.05" height="4.385" fill="#f4a66c"/>
<rect x="157.50" y="193.17" width="14.05" height="4.385" fill="#f8f3c4"/>
<rect x="17.00" y="197.55" width="14.05" height="4.385" fill="#a6cbe4"/>
<rect x="31.05" y="197.55" width="14.05" height="4.385" fill="#a3c8e3"/>
<rect x="45.10" y="197.55" width="14.05" height="4.385" fill="#b0d2e8"/>
<rect x="59.15" y="197.55" width="14.05" height="4.385" fill="#a2c7e2"/>
<rect x="73.20" y="197.55" width="14.05" height="4.385" fill="#d5e9f2"/>
<rect x="87.25" y="197.55" width="14.05" height="4.385" fill="#f6f4cc"/>
<rect x="101.30" y="197.55" width="14.05" height="4.385" fill="#abcee6"/>
<rect x="115.35" y="197.55" width="14.05" height="4.385" fill="#eef5e6"/>
<rect x="129.40" y="197.55" width="14.05" height="4.385" fill="#fad891"/>
<rect x="143.45" y="197.55" width="14.05" height="4.385" fill="#f4a46b"/>
<rect x="157.50" y="197.55" width="14.05" height="4.385" fill="#f7f4ca"/>
<rect x="17.00" y="201.94" width="14.05" height="4.385" fill="#9dc3e0"/>
<rect x="31.05" y="201.94" width="14.05" height="4.385" fill="#a0c6e1"/>
<rect x="45.10" y="201.94" width="14.05" height="4.385" fill="#bcdaed"/>
<rect x="59.15" y="201.94" width="14.05" height="4.385" fill="#98c0de"/>
<rect x="73.20" y="201.94" width="14.05" height="4.385" fill="#d5e9f2"/>
<rect x="87.25" y="201.94" width="14.05" height="4.385" fill="#f8f4c5"/>
<rect x="101.30" y="201.94" width="14.05" height="4.385" fill="#aacee6"/>
<rect x="115.35" y="201.94" width="14.05" height="4.385" fill="#e9f3e9"/>
<rect x="129.40" y="201.94" width="14.05" height="4.385" fill="#f9d48d"/>
<rect x="143.45" y="201.94" width="14.05" height="4.385" fill="#f4a56c"/>
<rect x="157.50" y="201.94" width="14.05" height="4.385" fill="#f8f3c2"/>
<rect x="17.00" y="206.32" width="14.05" height="4.385" fill="#91badb"/>
<rect x="31.05" y="206.32" width="14.05" height="4.385" fill="#8bb6d9"/>
<rect x="45.10" y="206.32" width="14.05" height="4.385" fill="#9dc3e0"/>
<rect x="59.15" y="206.32" width="14.05" height="4.385" fill="#97bfdd"/>
<rect x="73.20" y="206.32" width="14.05" height="4.385" fill="#f5f4d0"/>
<rect x="87.25" y="206.32" width="14.05" height="4.385" fill="#f9f0bd"/>
<rect x="101.30" y="206.32" width="14.05" height="4.385" fill="#ebf3e8"/>
<rect x="115.35" y="206.32" width="14.05" height="4.385" fill="#fbe6a3"/>
<rect x="129.40" y="206.32" width="14.05" height="4.385" fill="#f7bf7a"/>
<rect x="143.45" y="206.32" width="14.05" height="4.385" fill="#faebaf"/>
<rect x="157.50" y="206.32" width="14.05" height="4.385" fill="#f5b072"/>
<rect x="17.00" y="210.71" width="14.05" height="4.385" fill="#92bbdb"/>
<rect x="31.05" y="210.71" width="14.05" height="4.385" fill="#8cb7d9"/>
<rect x="45.10" y="210.71" width="14.05" height="4.385" fill="#a6cbe4"/>
<rect x="59.15" y="210.71" width="14.05" height="4.385" fill="#99c1de"/>
<rect x="73.20" y="210.71" width="14.05" height="4.385" fill="#f6f4cc"/>
<rect x="87.25" y="210.71" width="14.05" height="4.385" fill="#f8f2c1"/>
<rect x="101.30" y="210.71" width="14.05" height="4.385" fill="#edf5e6"/>
<rect x="115.35" y="210.71" width="14.05" height="4.385" fill="#fae8a9"/>
<rect x="129.40" y="210.71" width="14.05" height="4.385" fill="#f6b373"/>
<rect x="143.45" y="210.71" width="14.05" height="4.385" fill="#faeaae"/>
<rect x="157.50" y="210.71" width="14.05" height="4.385" fill="#f4a76d"/>
<rect x="17.00" y="215.09" width="14.05" height="4.385" fill="#96bedd"/>
<rect x="31.05" y="215.09" width="14.05" height="4.385" fill="#82afd6"/>
<rect x="45.10" y="215.09" width="14.05" height="4.385" fill="#a3c8e3"/>
<rect x="59.15" y="215.09" width="14.05" height="4.385" fill="#a2c7e2"/>
<rect x="73.20" y="215.09" width="14.05" height="4.385" fill="#f8f4c5"/>
<rect x="87.25" y="215.09" width="14.05" height="4.385" fill="#f8f2c1"/>
<rect x="101.30" y="215.09" width="14.05" height="4.385" fill="#eaf3e8"/>
<rect x="115.35" y="215.09" width="14.05" height="4.385" fill="#fae8a8"/>
<rect x="129.40" y="215.09" width="14.05" height="4.385" fill="#f5b373"/>
<rect x="143.45" y="215.09" width="14.05" height="4.385" fill="#faeaad"/>
<rect x="157.50" y="215.09" width="14.05" height="4.385" fill="#f5ac6f"/>
<rect x="17.00" y="219.48" width="14.05" height="4.385" fill="#9ec4e0"/>
<rect x="31.05" y="219.48" width="14.05" height="4.385" fill="#84b0d7"/>
<rect x="45.10" y="219.48" width="14.05" height="4.385" fill="#b9d8ec"/>
<rect x="59.15" y="219.48" width="14.05" height="4.385" fill="#abcee6"/>
<rect x="73.20" y="219.48" width="14.05" height="4.385" fill="#f8f4c7"/>
<rect x="87.25" y="219.48" width="14.05" height="4.385" fill="#f8f4c6"/>
<rect x="101.30" y="219.48" width="14.05" height="4.385" fill="#edf5e6"/>
<rect x="115.35" y="219.48" width="14.05" height="4.385" fill="#fbe29c"/>
<rect x="129.40" y="219.48" width="14.05" height="4.385" fill="#f9ecb3"/>
<rect x="143.45" y="219.48" width="14.05" height="4.385" fill="#f9edb5"/>
<rect x="157.50" y="219.48" width="14.05" height="4.385" fill="#f8c880"/>
<rect x="17.00" y="223.86" width="14.05" height="4.385" fill="#9cc3e0"/>
<rect x="31.05" y="223.86" width="14.05" height="4.385" fill="#7cabd5"/>
<rect x="45.10" y="223.86" width="14.05" height="4.385" fill="#b1d3e9"/>
<rect x="59.15" y="223.86" width="14.05" height="4.385" fill="#b0d2e9"/>
<rect x="73.20" y="223.86" width="14.05" height="4.385" fill="#f5f4cf"/>
<rect x="87.25" y="223.86" width="14.05" height="4.385" fill="#f6f4cc"/>
<rect x="101.30" y="223.86" width="14.05" height="4.385" fill="#e4f0ec"/>
<rect x="115.35" y="223.86" width="14.05" height="4.385" fill="#fbe5a1"/>
<rect x="129.40" y="223.86" width="14.05" height="4.385" fill="#fae9aa"/>
<rect x="143.45" y="223.86" width="14.05" height="4.385" fill="#f8f2c1"/>
<rect x="157.50" y="223.86" width="14.05" height="4.385" fill="#f7c67e"/>
<rect x="17.00" y="228.25" width="14.05" height="4.385" fill="#b7d7eb"/>
<rect x="31.05" y="228.25" width="14.05" height="4.385" fill="#bfdcee"/>
<rect x="45.10" y="228.25" width="14.05" height="4.385" fill="#cbe3f0"/>
<rect x="59.15" y="228.25" width="14.05" height="4.385" fill="#bbdaed"/>
<rect x="73.20" y="228.25" width="14.05" height="4.385" fill="#e3f0ec"/>
<rect x="87.25" y="228.25" width="14.05" height="4.385" fill="#f5f4d0"/>
<rect x="101.30" y="228.25" width="14.05" height="4.385" fill="#e0efee"/>
<rect x="115.35" y="228.25" width="14.05" height="4.385" fill="#f8f2c2"/>
<rect x="129.40" y="228.25" width="14.05" height="4.385" fill="#cce4f0"/>
<rect x="143.45" y="228.25" width="14.05" height="4.385" fill="#f9f1bf"/>
<rect x="157.50" y="228.25" width="14.05" height="4.385" fill="#fae9ab"/>
<rect x="17.00" y="232.63" width="14.05" height="4.385" fill="#b0d2e8"/>
<rect x="31.05" y="232.63" width="14.05" height="4.385" fill="#c1deee"/>
<rect x="45.10" y="232.63" width="14.05" height="4.385" fill="#bedbed"/>
<rect x="59.15" y="232.63" width="14.05" height="4.385" fill="#b1d3e9"/>
<rect x="73.20" y="232.63" width="14.05" height="4.385" fill="#e2f0ed"/>
<rect x="87.25" y="232.63" width="14.05" height="4.385" fill="#f5f4d0"/>
<rect x="101.30" y="232.63" width="14.05" height="4.385" fill="#eaf3e8"/>
<rect x="115.35" y="232.63" width="14.05" height="4.385" fill="#f8f3c4"/>
<rect x="129.40" y="232.63" width="14.05" height="4.385" fill="#c1ddee"/>
<rect x="143.45" y="232.63" width="14.05" height="4.385" fill="#f8f2c0"/>
<rect x="157.50" y="232.63" width="14.05" height="4.385" fill="#faeaae"/>
<rect x="17.00" y="237.02" width="14.05" height="4.385" fill="#afd1e8"/>
<rect x="31.05" y="237.02" width="14.05" height="4.385" fill="#cce4f0"/>
<rect x="45.10" y="237.02" width="14.05" height="4.385" fill="#cbe3f0"/>
<rect x="59.15" y="237.02" width="14.05" height="4.385" fill="#bddbed"/>
<rect x="73.20" y="237.02" width="14.05" height="4.385" fill="#dfeeef"/>
<rect x="87.25" y="237.02" width="14.05" height="4.385" fill="#f8f4c6"/>
<rect x="101.30" y="237.02" width="14.05" height="4.385" fill="#eaf3e8"/>
<rect x="115.35" y="237.02" width="14.05" height="4.385" fill="#f8f1c0"/>
<rect x="129.40" y="237.02" width="14.05" height="4.385" fill="#c8e2f0"/>
<rect x="143.45" y="237.02" width="14.05" height="4.385" fill="#f8f4c7"/>
<rect x="157.50" y="237.02" width="14.05" height="4.385" fill="#fae7a6"/>
<rect x="17.00" y="241.41" width="14.05" height="4.385" fill="#b0d2e9"/>
<rect x="31.05" y="241.41" width="14.05" height="4.385" fill="#c9e2f0"/>
<rect x="45.10" y="241.41" width="14.05" height="4.385" fill="#c7e1ef"/>
<rect x="59.15" y="241.41" width="14.05" height="4.385" fill="#b4d5ea"/>
<rect x="73.20" y="241.41" width="14.05" height="4.385" fill="#d5e9f2"/>
<rect x="87.25" y="241.41" width="14.05" height="4.385" fill="#f8f4c6"/>
<rect x="101.30" y="241.41" width="14.05" height="4.385" fill="#dcedf1"/>
<rect x="115.35" y="241.41" width="14.05" height="4.385" fill="#f8f2c1"/>
<rect x="129.40" y="241.41" width="14.05" height="4.385" fill="#c2deee"/>
<rect x="143.45" y="241.41" width="14.05" height="4.385" fill="#f8f3c3"/>
<rect x="157.50" y="241.41" width="14.05" height="4.385" fill="#fae7a6"/>
<rect x="17.00" y="245.79" width="14.05" height="4.385" fill="#b9d9ec"/>
<rect x="31.05" y="245.79" width="14.05" height="4.385" fill="#c1ddee"/>
<rect x="45.10" y="245.79" width="14.05" height="4.385" fill="#c7e1ef"/>
<rect x="59.15" y="245.79" width="14.05" height="4.385" fill="#b5d6eb"/>
<rect x="73.20" y="245.79" width="14.05" height="4.385" fill="#f0f5df"/>
<rect x="87.25" y="245.79" width="14.05" height="4.385" fill="#f5f4ce"/>
<rect x="101.30" y="245.79" width="14.05" height="4.385" fill="#dcedf0"/>
<rect x="115.35" y="245.79" width="14.05" height="4.385" fill="#f8f4c5"/>
<rect x="129.40" y="245.79" width="14.05" height="4.385" fill="#c0ddee"/>
<rect x="143.45" y="245.79" width="14.05" height="4.385" fill="#f9efbb"/>
<rect x="157.50" y="245.79" width="14.05" height="4.385" fill="#fae9a9"/>
<rect x="17.00" y="250.17" width="14.05" height="4.385" fill="#adcfe7"/>
<rect x="31.05" y="250.17" width="14.05" height="4.385" fill="#cbe3f0"/>
<rect x="45.10" y="250.17" width="14.05" height="4.385" fill="#cce4f0"/>
<rect x="59.15" y="250.17" width="14.05" height="4.385" fill="#b7d7ec"/>
<rect x="73.20" y="250.17" width="14.05" height="4.385" fill="#eef5e5"/>
<rect x="87.25" y="250.17" width="14.05" height="4.385" fill="#f5f4d1"/>
<rect x="101.30" y="250.17" width="14.05" height="4.385" fill="#dbecf1"/>
<rect x="115.35" y="250.17" width="14.05" height="4.385" fill="#f8f3c2"/>
<rect x="129.40" y="250.17" width="14.05" height="4.385" fill="#bfdced"/>
<rect x="143.45" y="250.17" width="14.05" height="4.385" fill="#f8f3c4"/>
<rect x="157.50" y="250.17" width="14.05" height="4.385" fill="#faeaad"/>
<rect x="17.00" y="254.56" width="14.05" height="4.385" fill="#b2d4ea"/>
<rect x="31.05" y="254.56" width="14.05" height="4.385" fill="#cbe3f0"/>
<rect x="45.10" y="254.56" width="14.05" height="4.385" fill="#c9e2f0"/>
<rect x="59.15" y="254.56" width="14.05" height="4.385" fill="#b7d7eb"/>
<rect x="73.20" y="254.56" width="14.05" height="4.385" fill="#f0f5e1"/>
<rect x="87.25" y="254.56" width="14.05" height="4.385" fill="#f6f4cc"/>
<rect x="101.30" y="254.56" width="14.05" height="4.385" fill="#e0efee"/>
<rect x="115.35" y="254.56" width="14.05" height="4.385" fill="#f8f3c3"/>
<rect x="129.40" y="254.56" width="14.05" height="4.385" fill="#f4f4d3"/>
<rect x="143.45" y="254.56" width="14.05" height="4.385" fill="#f8f3c3"/>
<rect x="157.50" y="254.56" width="14.05" height="4.385" fill="#fbe6a3"/>
<rect x="17.00" y="258.94" width="14.05" height="4.385" fill="#abcee6"/>
<rect x="31.05" y="258.94" width="14.05" height="4.385" fill="#c5e0ef"/>
<rect x="45.10" y="258.94" width="14.05" height="4.385" fill="#c7e1ef"/>
<rect x="59.15" y="258.94" width="14.05" height="4.385" fill="#cae3f0"/>
<rect x="73.20" y="258.94" width="14.05" height="4.385" fill="#eff5e4"/>
<rect x="87.25" y="258.94" width="14.05" height="4.385" fill="#f3f5d6"/>
<rect x="101.30" y="258.94" width="14.05" height="4.385" fill="#dbecf1"/>
<rect x="115.35" y="258.94" width="14.05" height="4.385" fill="#f8f2c2"/>
<rect x="129.40" y="258.94" width="14.05" height="4.385" fill="#fadd96"/>
<rect x="143.45" y="258.94" width="14.05" height="4.385" fill="#f8f2c0"/>
<rect x="157.50" y="258.94" width="14.05" height="4.385" fill="#e5f1eb"/>
<rect x="17.00" y="263.33" width="14.05" height="4.385" fill="#b7d7ec"/>
<rect x="31.05" y="263.33" width="14.05" height="4.385" fill="#bddbed"/>
<rect x="45.10" y="263.33" width="14.05" height="4.385" fill="#bedbed"/>
<rect x="59.15" y="263.33" width="14.05" height="4.385" fill="#c8e2f0"/>
<rect x="73.20" y="263.33" width="14.05" height="4.385" fill="#f2f5da"/>
<rect x="87.25" y="263.33" width="14.05" height="4.385" fill="#f4f4d3"/>
<rect x="101.30" y="263.33" width="14.05" height="4.385" fill="#e1efee"/>
<rect x="115.35" y="263.33" width="14.05" height="4.385" fill="#f8f4c7"/>
<rect x="129.40" y="263.33" width="14.05" height="4.385" fill="#fadd97"/>
<rect x="143.45" y="263.33" width="14.05" height="4.385" fill="#f8f2c0"/>
<rect x="157.50" y="263.33" width="14.05" height="4.385" fill="#e5f1eb"/>
<rect x="17.00" y="267.71" width="14.05" height="4.385" fill="#b7d7ec"/>
<rect x="31.05" y="267.71" width="14.05" height="4.385" fill="#cce4f0"/>
<rect x="45.10" y="267.71" width="14.05" height="4.385" fill="#c1ddee"/>
<rect x="59.15" y="267.71" width="14.05" height="4.385" fill="#bfdced"/>
<rect x="73.20" y="267.71" width="14.05" height="4.385" fill="#eef5e5"/>
<rect x="87.25" y="267.71" width="14.05" height="4.385" fill="#f4f4d2"/>
<rect x="101.30" y="267.71" width="14.05" height="4.385" fill="#e3f0ed"/>
<rect x="115.35" y="267.71" width="14.05" height="4.385" fill="#f9efba"/>
<rect x="129.40" y="267.71" width="14.05" height="4.385" fill="#fada93"/>
<rect x="143.45" y="267.71" width="14.05" height="4.385" fill="#f8f3c4"/>
<rect x="157.50" y="267.71" width="14.05" height="4.385" fill="#e4f0ec"/>
<rect x="17.00" y="272.10" width="14.05" height="4.385" fill="#b7d7ec"/>
<rect x="31.05" y="272.10" width="14.05" height="4.385" fill="#a4c9e3"/>
<rect x="45.10" y="272.10" width="14.05" height="4.385" fill="#95bedd"/>
<rect x="59.15" y="272.10" width="14.05" height="4.385" fill="#d0e6f1"/>
<rect x="73.20" y="272.10" width="14.05" height="4.385" fill="#f1f5dd"/>
<rect x="87.25" y="272.10" width="14.05" height="4.385" fill="#f8f4c6"/>
<rect x="101.30" y="272.10" width="14.05" height="4.385" fill="#dfeeef"/>
<rect x="115.35" y="272.10" width="14.05" height="4.385" fill="#f7f4c9"/>
<rect x="129.40" y="272.10" width="14.05" height="4.385" fill="#f6f4cc"/>
<rect x="143.45" y="272.10" width="14.05" height="4.385" fill="#f7f4ca"/>
<rect x="157.50" y="272.10" width="14.05" height="4.385" fill="#fbe6a2"/>
<rect x="17.00" y="276.49" width="14.05" height="4.385" fill="#bbdaed"/>
<rect x="31.05" y="276.49" width="14.05" height="4.385" fill="#9dc4e0"/>
<rect x="45.10" y="276.49" width="14.05" height="4.385" fill="#96bedd"/>
<rect x="59.15" y="276.49" width="14.05" height="4.385" fill="#cce4f0"/>
<rect x="73.20" y="276.49" width="14.05" height="4.385" fill="#f2f5d8"/>
<rect x="87.25" y="276.49" width="14.05" height="4.385" fill="#f5f4ce"/>
<rect x="101.30" y="276.49" width="14.05" height="4.385" fill="#d8ebf3"/>
<rect x="115.35" y="276.49" width="14.05" height="4.385" fill="#f8f3c5"/>
<rect x="129.40" y="276.49" width="14.05" height="4.385" fill="#f6f4ce"/>
<rect x="143.45" y="276.49" width="14.05" height="4.385" fill="#f7f4c9"/>
<rect x="157.50" y="276.49" width="14.05" height="4.385" fill="#fbe7a4"/>
<rect x="17.00" y="280.87" width="14.05" height="4.385" fill="#bfdcee"/>
<rect x="31.05" y="280.87" width="14.05" height="4.385" fill="#a6cae4"/>
<rect x="45.10" y="280.87" width="14.05" height="4.385" fill="#a3c8e3"/>
<rect x="59.15" y="280.87" width="14.05" height="4.385" fill="#cbe3f0"/>
<rect x="73.20" y="280.87" width="14.05" height="4.385" fill="#f1f5dd"/>
<rect x="87.25" y="280.87" width="14.05" height="4.385" fill="#f5f4d0"/>
<rect x="101.30" y="280.87" width="14.05" height="4.385" fill="#e5f1ec"/>
<rect x="115.35" y="280.87" width="14.05" height="4.385" fill="#f8f3c3"/>
<rect x="129.40" y="280.87" width="14.05" height="4.385" fill="#f7f4c9"/>
<rect x="143.45" y="280.87" width="14.05" height="4.385" fill="#f6f4cd"/>
<rect x="157.50" y="280.87" width="14.05" height="4.385" fill="#fbe6a4"/>
<rect x="17.00" y="285.25" width="14.05" height="4.385" fill="#bbdaed"/>
<rect x="31.05" y="285.25" width="14.05" height="4.385" fill="#a2c8e2"/>
<rect x="45.10" y="285.25" width="14.05" height="4.385" fill="#99c0de"/>
<rect x="59.15" y="285.25" width="14.05" height="4.385" fill="#cee5f1"/>
<rect x="73.20" y="285.25" width="14.05" height="4.385" fill="#f4f4d3"/>
<rect x="87.25" y="285.25" width="14.05" height="4.385" fill="#f5f4d1"/>
<rect x="101.30" y="285.25" width="14.05" height="4.385" fill="#d5e9f2"/>
<rect x="115.35" y="285.25" width="14.05" height="4.385" fill="#f7f4c8"/>
<rect x="129.40" y="285.25" width="14.05" height="4.385" fill="#f8f4c7"/>
<rect x="143.45" y="285.25" width="14.05" height="4.385" fill="#f8f3c3"/>
<rect x="157.50" y="285.25" width="14.05" height="4.385" fill="#fae8a8"/>
<rect x="17.00" y="289.64" width="14.05" height="4.385" fill="#b6d7eb"/>
<rect x="31.05" y="289.64" width="14.05" height="4.385" fill="#9ac1df"/>
<rect x="45.10" y="289.64" width="14.05" height="4.385" fill="#83b0d7"/>
<rect x="59.15" y="289.64" width="14.05" height="4.385" fill="#c0ddee"/>
<rect x="73.20" y="289.64" width="14.05" height="4.385" fill="#f4f4d2"/>
<rect x="87.25" y="289.64" width="14.05" height="4.385" fill="#f5f4cf"/>
<rect x="101.30" y="289.64" width="14.05" height="4.385" fill="#e2f0ed"/>
<rect x="115.35" y="289.64" width="14.05" height="4.385" fill="#f7f4ca"/>
<rect x="129.40" y="289.64" width="14.05" height="4.385" fill="#f7f4ca"/>
<rect x="143.45" y="289.64" width="14.05" height="4.385" fill="#f8f3c2"/>
<rect x="157.50" y="289.64" width="14.05" height="4.385" fill="#fae7a7"/>
<rect x="17.00" y="294.02" width="14.05" height="4.385" fill="#bfdcee"/>
<rect x="31.05" y="294.02" width="14.05" height="4.385" fill="#a3c8e3"/>
<rect x="45.10" y="294.02" width="14.05" height="4.385" fill="#98bfde"/>
<rect x="59.15" y="294.02" width="14.05" height="4.385" fill="#c7e1ef"/>
<rect x="73.20" y="294.02" width="14.05" height="4.385" fill="#f2f5da"/>
<rect x="87.25" y="294.02" width="14.05" height="4.385" fill="#f7f4ca"/>
<rect x="101.30" y="294.02" width="14.05" height="4.385" fill="#e4f1ec"/>
<rect x="115.35" y="294.02" width="14.05" height="4.385" fill="#f6f4cb"/>
<rect x="129.40" y="294.02" width="14.05" height="4.385" fill="#f7f4c8"/>
<rect x="143.45" y="294.02" width="14.05" height="4.385" fill="#f7f4ca"/>
<rect x="157.50" y="294.02" width="14.05" height="4.385" fill="#fbe39d"/>
<rect x="17.00" y="298.41" width="14.05" height="4.385" fill="#b2d4e9"/>
<rect x="31.05" y="298.41" width="14.05" height="4.385" fill="#9cc3e0"/>
<rect x="45.10" y="298.41" width="14.05" height="4.385" fill="#95bedd"/>
<rect x="59.15" y="298.41" width="14.05" height="4.385" fill="#cae2f0"/>
<rect x="73.20" y="298.41" width="14.05" height="4.385" fill="#f4f4d3"/>
<rect x="87.25" y="298.41" width="14.05" height="4.385" fill="#f8f4c7"/>
<rect x="101.30" y="298.41" width="14.05" height="4.385" fill="#e0efee"/>
<rect x="115.35" y="298.41" width="14.05" height="4.385" fill="#f9f1bf"/>
<rect x="129.40" y="298.41" width="14.05" height="4.385" fill="#f8f2c0"/>
<rect x="143.45" y="298.41" width="14.05" height="4.385" fill="#f7f4c9"/>
<rect x="157.50" y="298.41" width="14.05" height="4.385" fill="#fae8a8"/>
<rect x="17.00" y="302.79" width="14.05" height="4.385" fill="#bfdced"/>
<rect x="31.05" y="302.79" width="14.05" height="4.385" fill="#a8cce5"/>
<rect x="45.10" y="302.79" width="14.05" height="4.385" fill="#88b4d8"/>
<rect x="59.15" y="302.79" width="14.05" height="4.385" fill="#c7e1ef"/>
<rect x="73.20" y="302.79" width="14.05" height="4.385" fill="#ecf4e7"/>
<rect x="87.25" y="302.79" width="14.05" height="4.385" fill="#f5f4ce"/>
<rect x="101.30" y="302.79" width="14.05" height="4.385" fill="#d9ecf2"/>
<rect x="115.35" y="302.79" width="14.05" height="4.385" fill="#f6f4cb"/>
<rect x="129.40" y="302.79" width="14.05" height="4.385" fill="#f6f4ce"/>
<rect x="143.45" y="302.79" width="14.05" height="4.385" fill="#f8f3c3"/>
<rect x="157.50" y="302.79" width="14.05" height="4.385" fill="#faecb1"/>
<rect x="17.00" y="307.18" width="14.05" height="4.385" fill="#bfdcee"/>
<rect x="31.05" y="307.18" width="14.05" height="4.385" fill="#b9d8ec"/>
<rect x="45.10" y="307.18" width="14.05" height="4.385" fill="#abcee6"/>
<rect x="59.15" y="307.18" width="14.05" height="4.385" fill="#98c0de"/>
<rect x="73.20" y="307.18" width="14.05" height="4.385" fill="#cfe6f1"/>
<rect x="87.25" y="307.18" width="14.05" height="4.385" fill="#cae3f0"/>
<rect x="101.30" y="307.18" width="14.05" height="4.385" fill="#d7eaf3"/>
<rect x="115.35" y="307.18" width="14.05" height="4.385" fill="#f8f4c7"/>
<rect x="129.40" y="307.18" width="14.05" height="4.385" fill="#f6f4cd"/>
<rect x="143.45" y="307.18" width="14.05" height="4.385" fill="#f9edb5"/>
<rect x="157.50" y="307.18" width="14.05" height="4.385" fill="#f9f0bc"/>
<rect x="17.00" y="311.56" width="14.05" height="4.385" fill="#bedced"/>
<rect x="31.05" y="311.56" width="14.05" height="4.385" fill="#bad9ec"/>
<rect x="45.10" y="311.56" width="14.05" height="4.385" fill="#8bb6d9"/>
<rect x="59.15" y="311.56" width="14.05" height="4.385" fill="#a3c8e3"/>
<rect x="73.20" y="311.56" width="14.05" height="4.385" fill="#d5e9f2"/>
<rect x="87.25" y="311.56" width="14.05" height="4.385" fill="#ecf4e7"/>
<rect x="101.30" y="311.56" width="14.05" height="4.385" fill="#ddedf0"/>
<rect x="115.35" y="311.56" width="14.05" height="4.385" fill="#f7f4c8"/>
<rect x="129.40" y="311.56" width="14.05" height="4.385" fill="#f5f4d1"/>
<rect x="143.45" y="311.56" width="14.05" height="4.385" fill="#fae9aa"/>
<rect x="157.50" y="311.56" width="14.05" height="4.385" fill="#f6f4cd"/>
<rect x="17.00" y="315.95" width="14.05" height="4.385" fill="#bedced"/>
<rect x="31.05" y="315.95" width="14.05" height="4.385" fill="#bbdaed"/>
<rect x="45.10" y="315.95" width="14.05" height="4.385" fill="#90badb"/>
<rect x="59.15" y="315.95" width="14.05" height="4.385" fill="#a3c8e3"/>
<rect x="73.20" y="315.95" width="14.05" height="4.385" fill="#daecf2"/>
<rect x="87.25" y="315.95" width="14.05" height="4.385" fill="#eaf3e8"/>
<rect x="101.30" y="315.95" width="14.05" height="4.385" fill="#e0efee"/>
<rect x="115.35" y="315.95" width="14.05" height="4.385" fill="#f7f4cb"/>
<rect x="129.40" y="315.95" width="14.05" height="4.385" fill="#f6f4cd"/>
<rect x="143.45" y="315.95" width="14.05" height="4.385" fill="#fbe5a1"/>
<rect x="157.50" y="315.95" width="14.05" height="4.385" fill="#f7f4c9"/>
<rect x="17.00" y="320.33" width="14.05" height="4.385" fill="#b4d5ea"/>
<rect x="31.05" y="320.33" width="14.05" height="4.385" fill="#b7d7eb"/>
<rect x="45.10" y="320.33" width="14.05" height="4.385" fill="#90badb"/>
<rect x="59.15" y="320.33" width="14.05" height="4.385" fill="#a3c8e3"/>
<rect x="73.20" y="320.33" width="14.05" height="4.385" fill="#dfeeef"/>
<rect x="87.25" y="320.33" width="14.05" height="4.385" fill="#f0f5df"/>
<rect x="101.30" y="320.33" width="14.05" height="4.385" fill="#d1e7f1"/>
<rect x="115.35" y="320.33" width="14.05" height="4.385" fill="#f5f4d0"/>
<rect x="129.40" y="320.33" width="14.05" height="4.385" fill="#f7f4ca"/>
<rect x="143.45" y="320.33" width="14.05" height="4.385" fill="#fbe49e"/>
<rect x="157.50" y="320.33" width="14.05" height="4.385" fill="#f8f2c0"/>
<rect x="17.00" y="324.72" width="14.05" height="4.385" fill="#b6d7eb"/>
<rect x="31.05" y="324.72" width="14.05" height="4.385" fill="#bbdaed"/>
<rect x="45.10" y="324.72" width="14.05" height="4.385" fill="#8cb6d9"/>
<rect x="59.15" y="324.72" width="14.05" height="4.385" fill="#9dc3e0"/>
<rect x="73.20" y="324.72" width="14.05" height="4.385" fill="#e4f0ec"/>
<rect x="87.25" y="324.72" width="14.05" height="4.385" fill="#e8f2e9"/>
<rect x="101.30" y="324.72" width="14.05" height="4.385" fill="#ddedf0"/>
<rect x="115.35" y="324.72" width="14.05" height="4.385" fill="#f7f4c9"/>
<rect x="129.40" y="324.72" width="14.05" height="4.385" fill="#f8f4c5"/>
<rect x="143.45" y="324.72" width="14.05" height="4.385" fill="#fad993"/>
<rect x="157.50" y="324.72" width="14.05" height="4.385" fill="#f8f3c5"/>
<rect x="17.00" y="329.10" width="14.05" height="4.385" fill="#b5d6eb"/>
<rect x="31.05" y="329.10" width="14.05" height="4.385" fill="#bcdaed"/>
<rect x="45.10" y="329.10" width="14.05" height="4.385" fill="#8bb6d9"/>
<rect x="59.15" y="329.10" width="14.05" height="4.385" fill="#a1c7e2"/>
<rect x="73.20" y="329.10" width="14.05" height="4.385" fill="#d5e9f2"/>
<rect x="87.25" y="329.10" width="14.05" height="4.385" fill="#e9f3e9"/>
<rect x="101.30" y="329.10" width="14.05" height="4.385" fill="#dcedf0"/>
<rect x="115.35" y="329.10" width="14.05" height="4.385" fill="#f5f4d0"/>
<rect x="129.40" y="329.10" width="14.05" height="4.385" fill="#f5f4d1"/>
<rect x="143.45" y="329.10" width="14.05" height="4.385" fill="#fbe09a"/>
<rect x="157.50" y="329.10" width="14.05" height="4.385" fill="#f8f4c5"/>
<rect x="17.00" y="333.49" width="14.05" height="4.385" fill="#b5d6eb"/>
<rect x="31.05" y="333.49" width="14.05" height="4.385" fill="#c6e0ef"/>
<rect x="45.10" y="333.49" width="14.05" height="4.385" fill="#93bcdc"/>
<rect x="59.15" y="333.49" width="14.05" height="4.385" fill="#a5c9e4"/>
<rect x="73.20" y="333.49" width="14.05" height="4.385" fill="#d8ebf3"/>
<rect x="87.25" y="333.49" width="14.05" height="4.385" fill="#e7f2ea"/>
<rect x="101.30" y="333.49" width="14.05" height="4.385" fill="#d2e7f2"/>
<rect x="115.35" y="333.49" width="14.05" height="4.385" fill="#f6f4cc"/>
<rect x="129.40" y="333.49" width="14.05" height="4.385" fill="#f8f4c7"/>
<rect x="143.45" y="333.49" width="14.05" height="4.385" fill="#fadd96"/>
<rect x="157.50" y="333.49" width="14.05" height="4.385" fill="#f7f4ca"/>
<rect x="17.00" y="337.88" width="14.05" height="4.385" fill="#b7d7eb"/>
<rect x="31.05" y="337.88" width="14.05" height="4.385" fill="#c0ddee"/>
<rect x="45.10" y="337.88" width="14.05" height="4.385" fill="#8fb9da"/>
<rect x="59.15" y="337.88" width="14.05" height="4.385" fill="#a1c6e2"/>
<rect x="73.20" y="337.88" width="14.05" height="4.385" fill="#e3f0ed"/>
<rect x="87.25" y="337.88" width="14.05" height="4.385" fill="#eff5e3"/>
<rect x="101.30" y="337.88" width="14.05" height="4.385" fill="#d2e8f2"/>
<rect x="115.35" y="337.88" width="14.05" height="4.385" fill="#f8f4c7"/>
<rect x="129.40" y="337.88" width="14.05" height="4.385" fill="#f6f4cd"/>
<rect x="143.45" y="337.88" width="14.05" height="4.385" fill="#fadb95"/>
<rect x="157.50" y="337.88" width="14.05" height="4.385" fill="#f7f4c8"/>
<rect x="17.00" y="342.26" width="14.05" height="4.385" fill="#bcdaed"/>
<rect x="31.05" y="342.26" width="14.05" height="4.385" fill="#bad9ec"/>
<rect x="45.10" y="342.26" width="14.05" height="4.385" fill="#89b4d8"/>
<rect x="59.15" y="342.26" width="14.05" height="4.385" fill="#98c0de"/>
<rect x="73.20" y="342.26" width="14.05" height="4.385" fill="#d7eaf3"/>
<rect x="87.25" y="342.26" width="14.05" height="4.385" fill="#f0f5e0"/>
<rect x="101.30" y="342.26" width="14.05" height="4.385" fill="#d9ecf2"/>
<rect x="115.35" y="342.26" width="14.05" height="4.385" fill="#f5f4cf"/>
<rect x="129.40" y="342.26" width="14.05" height="4.385" fill="#f6f4cb"/>
<rect x="143.45" y="342.26" width="14.05" height="4.385" fill="#fbe39d"/>
<rect x="157.50" y="342.26" width="14.05" height="4.385" fill="#f8f4c6"/>
<rect x="17.00" y="346.64" width="14.05" height="4.385" fill="#b4d5ea"/>
<rect x="31.05" y="346.64" width="14.05" height="4.385" fill="#c3dfee"/>
<rect x="45.10" y="346.64" width="14.05" height="4.385" fill="#8fb9da"/>
<rect x="59.15" y="346.64" width="14.05" height="4.385" fill="#a5c9e4"/>
<rect x="73.20" y="346.64" width="14.05" height="4.385" fill="#d6eaf3"/>
<rect x="87.25" y="346.64" width="14.05" height="4.385" fill="#eef5e6"/>
<rect x="101.30" y="346.64" width="14.05" height="4.385" fill="#deeef0"/>
<rect x="115.35" y="346.64" width="14.05" height="4.385" fill="#f8f4c7"/>
<rect x="129.40" y="346.64" width="14.05" height="4.385" fill="#f8f3c4"/>
<rect x="143.45" y="346.64" width="14.05" height="4.385" fill="#fae9aa"/>
<rect x="157.50" y="346.64" width="14.05" height="4.385" fill="#f7f4c9"/>
<line x1="17.0" y1="9.00" x2="171.55" y2="9.00" stroke="#888" stroke-width="0.4" opacity="0.85"/>
<line x1="17.0" y1="13.38" x2="171.55" y2="13.38" stroke="#888" stroke-width="0.4" opacity="0.85"/>
<line x1="17.0" y1="17.77" x2="171.55" y2="17.77" stroke="#888" stroke-width="0.4" opacity="0.85"/>
<line x1="17.0" y1="22.16" x2="171.55" y2="22.16" stroke="#888" stroke-width="0.4" opacity="0.85"/>
<line x1="17.0" y1="26.54" x2="171.55" y2="26.54" stroke="#888" stroke-width="0.4" opacity="0.85"/>
<line x1="17.0" y1="30.92" x2="171.55" y2="30.92" stroke="#888" stroke-width="0.4" opacity="0.85"/>
<line x1="17.0" y1="35.31" x2="171.55" y2="35.31" stroke="#888" stroke-width="0.4" opacity="0.85"/>
<line x1="17.0" y1="39.70" x2="171.55" y2="39.70" stroke="#888" stroke-width="0.4" opacity="0.85"/>
<line x1="17.0" y1="44.08" x2="171.55" y2="44.08" stroke="#888" stroke-width="0.4" opacity="0.85"/>
<line x1="17.0" y1="48.46" x2="171.55" y2="48.46" stroke="#888" stroke-width="0.4" opacity="0.85"/>
<line x1="17.0" y1="52.85" x2="171.55" y2="52.85" stroke="#888" stroke-width="0.4" opacity="0.85"/>
<line x1="17.0" y1="57.23" x2="171.55" y2="57.23" stroke="#888" stroke-width="0.4" opacity="0.85"/>
<line x1="17.0" y1="61.62" x2="171.55" y2="61.62" stroke="#888" stroke-width="0.4" opacity="0.85"/>
<line x1="17.0" y1="66.00" x2="171.55" y2="66.00" stroke="#888" stroke-width="0.4" opacity="0.85"/>
<line x1="17.0" y1="70.39" x2="171.55" y2="70.39" stroke="#888" stroke-width="0.4" opacity="0.85"/>
<line x1="17.0" y1="74.77" x2="171.55" y2="74.77" stroke="#888" stroke-width="0.4" opacity="0.85"/>
<line x1="17.0" y1="79.16" x2="171.55" y2="79.16" stroke="#888" stroke-width="0.4" opacity="0.85"/>
<line x1="17.0" y1="83.55" x2="171.55" y2="83.55" stroke="#888" stroke-width="0.4" opacity="0.85"/>
<line x1="17.0" y1="87.93" x2="171.55" y2="87.93" stroke="#888" stroke-width="0.4" opacity="0.85"/>
<line x1="17.0" y1="92.31" x2="171.55" y2="92.31" stroke="#888" stroke-width="0.4" opacity="0.85"/>
<line x1="17.0" y1="96.70" x2="171.55" y2="96.70" stroke="#888" stroke-width="0.4" opacity="0.85"/>
<line x1="17.0" y1="101.08" x2="171.55" y2="101.08" stroke="#888" stroke-width="0.4" opacity="0.85"/>
<line x1="17.0" y1="105.47" x2="171.55" y2="105.47" stroke="#888" stroke-width="0.4" opacity="0.85"/>
<line x1="17.0" y1="109.85" x2="171.55" y2="109.85" stroke="#888" stroke-width="0.4" opacity="0.85"/>
<line x1="17.0" y1="114.24" x2="171.55" y2="114.24" stroke="#888" stroke-width="0.4" opacity="0.85"/>
<line x1="17.0" y1="118.62" x2="171.55" y2="118.62" stroke="#888" stroke-width="0.4" opacity="0.85"/>
<line x1="17.0" y1="123.01" x2="171.55" y2="123.01" stroke="#888" stroke-width="0.4" opacity="0.85"/>
<line x1="17.0" y1="127.39" x2="171.55" y2="127.39" stroke="#888" stroke-width="0.4" opacity="0.85"/>
<line x1="17.0" y1="131.78" x2="171.55" y2="131.78" stroke="#888" stroke-width="0.4" opacity="0.85"/>
<line x1="17.0" y1="136.16" x2="171.55" y2="136.16" stroke="#888" stroke-width="0.4" opacity="0.85"/>
<line x1="17.0" y1="140.55" x2="171.55" y2="140.55" stroke="#888" stroke-width="0.4" opacity="0.85"/>
<line x1="17.0" y1="144.94" x2="171.55" y2="144.94" stroke="#888" stroke-width="0.4" opacity="0.85"/>
<line x1="17.0" y1="149.32" x2="171.55" y2="149.32" stroke="#888" stroke-width="0.4" opacity="0.85"/>
<line x1="17.0" y1="153.70" x2="171.55" y2="153.70" stroke="#888" stroke-width="0.4" opacity="0.85"/>
<line x1="17.0" y1="158.09" x2="171.55" y2="158.09" stroke="#888" stroke-width="0.4" opacity="0.85"/>
<line x1="17.0" y1="162.47" x2="171.55" y2="162.47" stroke="#888" stroke-width="0.4" opacity="0.85"/>
<line x1="17.0" y1="166.86" x2="171.55" y2="166.86" stroke="#888" stroke-width="0.4" opacity="0.85"/>
<line x1="17.0" y1="171.25" x2="171.55" y2="171.25" stroke="#888" stroke-width="0.4" opacity="0.85"/>
<line x1="17.0" y1="175.63" x2="171.55" y2="175.63" stroke="#888" stroke-width="0.4" opacity="0.85"/>
<line x1="17.0" y1="180.01" x2="171.55" y2="180.01" stroke="#888" stroke-width="0.4" opacity="0.85"/>
<line x1="17.0" y1="184.40" x2="171.55" y2="184.40" stroke="#888" stroke-width="0.4" opacity="0.85"/>
<line x1="17.0" y1="188.78" x2="171.55" y2="188.78" stroke="#888" stroke-width="0.4" opacity="0.85"/>
<line x1="17.0" y1="193.17" x2="171.55" y2="193.17" stroke="#888" stroke-width="0.4" opacity="0.85"/>
<line x1="17.0" y1="197.55" x2="171.55" y2="197.55" stroke="#888" stroke-width="0.4" opacity="0.85"/>
<line x1="17.0" y1="201.94" x2="171.55" y2="201.94" stroke="#888" stroke-width="0.4" opacity="0.85"/>
<line x1="17.0" y1="206.32" x2="171.55" y2="206.32" stroke="#888" stroke-width="0.4" opacity="0.85"/>
<line x1="17.0" y1="210.71" x2="171.55" y2="210.71" stroke="#888" stroke-width="0.4" opacity="0.85"/>
<line x1="17.0" y1="215.09" x2="171.55" y2="215.09" stroke="#888" stroke-width="0.4" opacity="0.85"/>
<line x1="17.0" y1="219.48" x2="171.55" y2="219.48" stroke="#888" stroke-width="0.4" opacity="0.85"/>
<line x1="17.0" y1="223.86" x2="171.55" y2="223.86" stroke="#888" stroke-width="0.4" opacity="0.85"/>
<line x1="17.0" y1="228.25" x2="171.55" y2="228.25" stroke="#888" stroke-width="0.4" opacity="0.85"/>
<line x1="17.0" y1="232.63" x2="171.55" y2="232.63" stroke="#888" stroke-width="0.4" opacity="0.85"/>
<line x1="17.0" y1="237.02" x2="171.55" y2="237.02" stroke="#888" stroke-width="0.4" opacity="0.85"/>
<line x1="17.0" y1="241.41" x2="171.55" y2="241.41" stroke="#888" stroke-width="0.4" opacity="0.85"/>
<line x1="17.0" y1="245.79" x2="171.55" y2="245.79" stroke="#888" stroke-width="0.4" opacity="0.85"/>
<line x1="17.0" y1="250.17" x2="171.55" y2="250.17" stroke="#888" stroke-width="0.4" opacity="0.85"/>
<line x1="17.0" y1="254.56" x2="171.55" y2="254.56" stroke="#888" stroke-width="0.4" opacity="0.85"/>
<line x1="17.0" y1="258.94" x2="171.55" y2="258.94" stroke="#888" stroke-width="0.4" opacity="0.85"/>
<line x1="17.0" y1="263.33" x2="171.55" y2="263.33" stroke="#888" stroke-width="0.4" opacity="0.85"/>
<line x1="17.0" y1="267.71" x2="171.55" y2="267.71" stroke="#888" stroke-width="0.4" opacity="0.85"/>
<line x1="17.0" y1="272.10" x2="171.55" y2="272.10" stroke="#888" stroke-width="0.4" opacity="0.85"/>
<line x1="17.0" y1="276.49" x2="171.55" y2="276.49" stroke="#888" stroke-width="0.4" opacity="0.85"/>
<line x1="17.0" y1="280.87" x2="171.55" y2="280.87" stroke="#888" stroke-width="0.4" opacity="0.85"/>
<line x1="17.0" y1="285.25" x2="171.55" y2="285.25" stroke="#888" stroke-width="0.4" opacity="0.85"/>
<line x1="17.0" y1="289.64" x2="171.55" y2="289.64" stroke="#888" stroke-width="0.4" opacity="0.85"/>
<line x1="17.0" y1="294.02" x2="171.55" y2="294.02" stroke="#888" stroke-width="0.4" opacity="0.85"/>
<line x1="17.0" y1="298.41" x2="171.55" y2="298.41" stroke="#888" stroke-width="0.4" opacity="0.85"/>
<line x1="17.0" y1="302.79" x2="171.55" y2="302.79" stroke="#888" stroke-width="0.4" opacity="0.85"/>
<line x1="17.0" y1="307.18" x2="171.55" y2="307.18" stroke="#888" stroke-width="0.4" opacity="0.85"/>
<line x1="17.0" y1="311.56" x2="171.55" y2="311.56" stroke="#888" stroke-width="0.4" opacity="0.85"/>
<line x1="17.0" y1="315.95" x2="171.55" y2="315.95" stroke="#888" stroke-width="0.4" opacity="0.85"/>
<line x1="17.0" y1="320.33" x2="171.55" y2="320.33" stroke="#888" stroke-width="0.4" opacity="0.85"/>
<line x1="17.0" y1="324.72" x2="171.55" y2="324.72" stroke="#888" stroke-width="0.4" opacity="0.85"/>
<line x1="17.0" y1="329.10" x2="171.55" y2="329.10" stroke="#888" stroke-width="0.4" opacity="0.85"/>
<line x1="17.0" y1="333.49" x2="171.55" y2="333.49" stroke="#888" stroke-width="0.4" opacity="0.85"/>
<line x1="17.0" y1="337.88" x2="171.55" y2="337.88" stroke="#888" stroke-width="0.4" opacity="0.85"/>
<line x1="17.0" y1="342.26" x2="171.55" y2="342.26" stroke="#888" stroke-width="0.4" opacity="0.85"/>
<line x1="17.0" y1="346.64" x2="171.55" y2="346.64" stroke="#888" stroke-width="0.4" opacity="0.85"/>
<line x1="17.0" y1="351.03" x2="171.55" y2="351.03" stroke="#888" stroke-width="0.4" opacity="0.85"/>
<line x1="17.00" y1="9.0" x2="17.00" y2="351.03" stroke="#6a6a6a" stroke-width="0.55"/>
<line x1="31.05" y1="9.0" x2="31.05" y2="351.03" stroke="#6a6a6a" stroke-width="0.55"/>
<line x1="45.10" y1="9.0" x2="45.10" y2="351.03" stroke="#6a6a6a" stroke-width="0.55"/>
<line x1="59.15" y1="9.0" x2="59.15" y2="351.03" stroke="#6a6a6a" stroke-width="0.55"/>
<line x1="73.20" y1="9.0" x2="73.20" y2="351.03" stroke="#6a6a6a" stroke-width="0.55"/>
<line x1="87.25" y1="9.0" x2="87.25" y2="351.03" stroke="#6a6a6a" stroke-width="0.55"/>
<line x1="101.30" y1="9.0" x2="101.30" y2="351.03" stroke="#6a6a6a" stroke-width="0.55"/>
<line x1="115.35" y1="9.0" x2="115.35" y2="351.03" stroke="#6a6a6a" stroke-width="0.55"/>
<line x1="129.40" y1="9.0" x2="129.40" y2="351.03" stroke="#6a6a6a" stroke-width="0.55"/>
<line x1="143.45" y1="9.0" x2="143.45" y2="351.03" stroke="#6a6a6a" stroke-width="0.55"/>
<line x1="157.50" y1="9.0" x2="157.50" y2="351.03" stroke="#6a6a6a" stroke-width="0.55"/>
<line x1="171.55" y1="9.0" x2="171.55" y2="351.03" stroke="#6a6a6a" stroke-width="0.55"/>
<text transform="translate(175.0,13.19) rotate(0.3) scale(0.92,1.12)" font-size="4.62" fill="#1a1a1a" stroke="#1a1a1a" stroke-width="0.12">CTCF</text>
<text transform="translate(175.0,17.58) rotate(0.3) scale(0.92,1.12)" font-size="4.62" fill="#1a1a1a" stroke="#1a1a1a" stroke-width="0.12">TCF7L2</text>
<text transform="translate(175.0,21.96) rotate(0.3) scale(0.92,1.12)" font-size="4.62" fill="#1a1a1a" stroke="#1a1a1a" stroke-width="0.12">LEF1</text>
<text transform="translate(175.0,26.35) rotate(0.3) scale(0.92,1.12)" font-size="4.62" fill="#1a1a1a" stroke="#1a1a1a" stroke-width="0.12">TCF7</text>
<text transform="translate(175.0,30.73) rotate(0.3) scale(0.92,1.12)" font-size="4.62" fill="#1a1a1a" stroke="#1a1a1a" stroke-width="0.12">BACH1</text>
<text transform="translate(175.0,35.12) rotate(0.3) scale(0.92,1.12)" font-size="4.62" fill="#1a1a1a" stroke="#1a1a1a" stroke-width="0.12">JUN::JUNB</text>
<text transform="translate(175.0,39.50) rotate(0.3) scale(0.92,1.12)" font-size="4.62" fill="#1a1a1a" stroke="#1a1a1a" stroke-width="0.12">NFE2</text>
<text transform="translate(175.0,43.89) rotate(0.3) scale(0.92,1.12)" font-size="4.62" fill="#1a1a1a" stroke="#1a1a1a" stroke-width="0.12">BACH2</text>
<text transform="translate(175.0,48.27) rotate(0.3) scale(0.92,1.12)" font-size="4.62" fill="#1a1a1a" stroke="#1a1a1a" stroke-width="0.12">JDP2</text>
<text transform="translate(175.0,52.66) rotate(0.3) scale(0.92,1.12)" font-size="4.62" fill="#1a1a1a" stroke="#1a1a1a" stroke-width="0.12">FOSL1::JUND</text>
<text transform="translate(175.0,57.04) rotate(0.3) scale(0.92,1.12)" font-size="4.62" fill="#1a1a1a" stroke="#1a1a1a" stroke-width="0.12">JUNB</text>
<text transform="translate(175.0,61.43) rotate(0.3) scale(0.92,1.12)" font-size="4.62" fill="#1a1a1a" stroke="#1a1a1a" stroke-width="0.12">JUND</text>
<text transform="translate(175.0,65.81) rotate(0.3) scale(0.92,1.12)" font-size="4.62" fill="#1a1a1a" stroke="#1a1a1a" stroke-width="0.12">FOSL2::JUND</text>
<text transform="translate(175.0,70.20) rotate(0.3) scale(0.92,1.12)" font-size="4.62" fill="#1a1a1a" stroke="#1a1a1a" stroke-width="0.12">FOSL2::JUN</text>
<text transform="translate(175.0,74.58) rotate(0.3) scale(0.92,1.12)" font-size="4.62" fill="#1a1a1a" stroke="#1a1a1a" stroke-width="0.12">FOSB::JUNB</text>
<text transform="translate(175.0,78.97) rotate(0.3) scale(0.92,1.12)" font-size="4.62" fill="#1a1a1a" stroke="#1a1a1a" stroke-width="0.12">FOSL1::JUNB</text>
<text transform="translate(175.0,83.35) rotate(0.3) scale(0.92,1.12)" font-size="4.62" fill="#1a1a1a" stroke="#1a1a1a" stroke-width="0.12">FOSL2::JUNB</text>
<text transform="translate(175.0,87.74) rotate(0.3) scale(0.92,1.12)" font-size="4.62" fill="#1a1a1a" stroke="#1a1a1a" stroke-width="0.12">FOSL1::JUN</text>
<text transform="translate(175.0,92.12) rotate(0.3) scale(0.92,1.12)" font-size="4.62" fill="#1a1a1a" stroke="#1a1a1a" stroke-width="0.12">FOS::JUN</text>
<text transform="translate(175.0,96.51) rotate(0.3) scale(0.92,1.12)" font-size="4.62" fill="#1a1a1a" stroke="#1a1a1a" stroke-width="0.12">FOS::JUND</text>
<text transform="translate(175.0,100.89) rotate(0.3) scale(0.92,1.12)" font-size="4.62" fill="#1a1a1a" stroke="#1a1a1a" stroke-width="0.12">FOS::JUNB</text>
<text transform="translate(175.0,105.28) rotate(0.3) scale(0.92,1.12)" font-size="4.62" fill="#1a1a1a" stroke="#1a1a1a" stroke-width="0.12">FOSL1</text>
<text transform="translate(175.0,109.66) rotate(0.3) scale(0.92,1.12)" font-size="4.62" fill="#1a1a1a" stroke="#1a1a1a" stroke-width="0.12">BATF3</text>
<text transform="translate(175.0,114.05) rotate(0.3) scale(0.92,1.12)" font-size="4.62" fill="#1a1a1a" stroke="#1a1a1a" stroke-width="0.12">BATF::JUN</text>
<text transform="translate(175.0,118.43) rotate(0.3) scale(0.92,1.12)" font-size="4.62" fill="#1a1a1a" stroke="#1a1a1a" stroke-width="0.12">BATF</text>
<text transform="translate(175.0,122.82) rotate(0.3) scale(0.92,1.12)" font-size="4.62" fill="#1a1a1a" stroke="#1a1a1a" stroke-width="0.12">JUN(var.2)</text>
<text transform="translate(175.0,127.20) rotate(0.3) scale(0.92,1.12)" font-size="4.62" fill="#1a1a1a" stroke="#1a1a1a" stroke-width="0.12">FOS</text>
<text transform="translate(175.0,131.59) rotate(0.3) scale(0.92,1.12)" font-size="4.62" fill="#1a1a1a" stroke="#1a1a1a" stroke-width="0.12">FOSL2</text>
<text transform="translate(175.0,135.97) rotate(0.3) scale(0.92,1.12)" font-size="4.62" fill="#1a1a1a" stroke="#1a1a1a" stroke-width="0.12">TBX21</text>
<text transform="translate(175.0,140.36) rotate(0.3) scale(0.92,1.12)" font-size="4.62" fill="#1a1a1a" stroke="#1a1a1a" stroke-width="0.12">EOMES</text>
<text transform="translate(175.0,144.74) rotate(0.3) scale(0.92,1.12)" font-size="4.62" fill="#1a1a1a" stroke="#1a1a1a" stroke-width="0.12">TBX2</text>
<text transform="translate(175.0,149.13) rotate(0.3) scale(0.92,1.12)" font-size="4.62" fill="#1a1a1a" stroke="#1a1a1a" stroke-width="0.12">TBR1</text>
<text transform="translate(175.0,153.51) rotate(0.3) scale(0.92,1.12)" font-size="4.62" fill="#1a1a1a" stroke="#1a1a1a" stroke-width="0.12">TBX1</text>
<text transform="translate(175.0,157.90) rotate(0.3) scale(0.92,1.12)" font-size="4.62" fill="#1a1a1a" stroke="#1a1a1a" stroke-width="0.12">MGA</text>
<text transform="translate(175.0,162.28) rotate(0.3) scale(0.92,1.12)" font-size="4.62" fill="#1a1a1a" stroke="#1a1a1a" stroke-width="0.12">TBX15</text>
<text transform="translate(175.0,166.67) rotate(0.3) scale(0.92,1.12)" font-size="4.62" fill="#1a1a1a" stroke="#1a1a1a" stroke-width="0.12">TBX20</text>
<text transform="translate(175.0,171.05) rotate(0.3) scale(0.92,1.12)" font-size="4.62" fill="#1a1a1a" stroke="#1a1a1a" stroke-width="0.12">TBX5</text>
<text transform="translate(175.0,175.44) rotate(0.3) scale(0.92,1.12)" font-size="4.62" fill="#1a1a1a" stroke="#1a1a1a" stroke-width="0.12">TBX3</text>
<text transform="translate(175.0,179.82) rotate(0.3) scale(0.92,1.12)" font-size="4.62" fill="#1a1a1a" stroke="#1a1a1a" stroke-width="0.12">TBX18</text>
<text transform="translate(175.0,184.21) rotate(0.3) scale(0.92,1.12)" font-size="4.62" fill="#1a1a1a" stroke="#1a1a1a" stroke-width="0.12">TBX4</text>
<text transform="translate(175.0,188.59) rotate(0.3) scale(0.92,1.12)" font-size="4.62" fill="#1a1a1a" stroke="#1a1a1a" stroke-width="0.12">TBX6</text>
<text transform="translate(175.0,192.98) rotate(0.3) scale(0.92,1.12)" font-size="4.62" fill="#1a1a1a" stroke="#1a1a1a" stroke-width="0.12">RORC</text>
<text transform="translate(175.0,197.36) rotate(0.3) scale(0.92,1.12)" font-size="4.62" fill="#1a1a1a" stroke="#1a1a1a" stroke-width="0.12">RORA</text>
<text transform="translate(175.0,201.75) rotate(0.3) scale(0.92,1.12)" font-size="4.62" fill="#1a1a1a" stroke="#1a1a1a" stroke-width="0.12">RORA(var.2)</text>
<text transform="translate(175.0,206.13) rotate(0.3) scale(0.92,1.12)" font-size="4.62" fill="#1a1a1a" stroke="#1a1a1a" stroke-width="0.12">RORB</text>
<text transform="translate(175.0,210.52) rotate(0.3) scale(0.92,1.12)" font-size="4.62" fill="#1a1a1a" stroke="#1a1a1a" stroke-width="0.12">MAF::NFE2</text>
<text transform="translate(175.0,214.90) rotate(0.3) scale(0.92,1.12)" font-size="4.62" fill="#1a1a1a" stroke="#1a1a1a" stroke-width="0.12">NFE2L1</text>
<text transform="translate(175.0,219.29) rotate(0.3) scale(0.92,1.12)" font-size="4.62" fill="#1a1a1a" stroke="#1a1a1a" stroke-width="0.12">MAFK</text>
<text transform="translate(175.0,223.67) rotate(0.3) scale(0.92,1.12)" font-size="4.62" fill="#1a1a1a" stroke="#1a1a1a" stroke-width="0.12">IRF5</text>
<text transform="translate(175.0,228.06) rotate(0.3) scale(0.92,1.12)" font-size="4.62" fill="#1a1a1a" stroke="#1a1a1a" stroke-width="0.12">IRF9</text>
<text transform="translate(175.0,232.44) rotate(0.3) scale(0.92,1.12)" font-size="4.62" fill="#1a1a1a" stroke="#1a1a1a" stroke-width="0.12">IRF4</text>
<text transform="translate(175.0,236.83) rotate(0.3) scale(0.92,1.12)" font-size="4.62" fill="#1a1a1a" stroke="#1a1a1a" stroke-width="0.12">ERF</text>
<text transform="translate(175.0,241.21) rotate(0.3) scale(0.92,1.12)" font-size="4.62" fill="#1a1a1a" stroke="#1a1a1a" stroke-width="0.12">ETS1</text>
<text transform="translate(175.0,245.60) rotate(0.3) scale(0.92,1.12)" font-size="4.62" fill="#1a1a1a" stroke="#1a1a1a" stroke-width="0.12">FLI1</text>
<text transform="translate(175.0,249.98) rotate(0.3) scale(0.92,1.12)" font-size="4.62" fill="#1a1a1a" stroke="#1a1a1a" stroke-width="0.12">ERG</text>
<text transform="translate(175.0,254.37) rotate(0.3) scale(0.92,1.12)" font-size="4.62" fill="#1a1a1a" stroke="#1a1a1a" stroke-width="0.12">ELK4</text>
<text transform="translate(175.0,258.75) rotate(0.3) scale(0.92,1.12)" font-size="4.62" fill="#1a1a1a" stroke="#1a1a1a" stroke-width="0.12">ETV5</text>
<text transform="translate(175.0,263.14) rotate(0.3) scale(0.92,1.12)" font-size="4.62" fill="#1a1a1a" stroke="#1a1a1a" stroke-width="0.12">NFKB2</text>
<text transform="translate(175.0,267.52) rotate(0.3) scale(0.92,1.12)" font-size="4.62" fill="#1a1a1a" stroke="#1a1a1a" stroke-width="0.12">REL</text>
<text transform="translate(175.0,271.91) rotate(0.3) scale(0.92,1.12)" font-size="4.62" fill="#1a1a1a" stroke="#1a1a1a" stroke-width="0.12">RELA</text>
<text transform="translate(175.0,276.29) rotate(0.3) scale(0.92,1.12)" font-size="4.62" fill="#1a1a1a" stroke="#1a1a1a" stroke-width="0.12">IRF1</text>
<text transform="translate(175.0,280.68) rotate(0.3) scale(0.92,1.12)" font-size="4.62" fill="#1a1a1a" stroke="#1a1a1a" stroke-width="0.12">HOXD4</text>
<text transform="translate(175.0,285.06) rotate(0.3) scale(0.92,1.12)" font-size="4.62" fill="#1a1a1a" stroke="#1a1a1a" stroke-width="0.12">HOXA4</text>
<text transform="translate(175.0,289.45) rotate(0.3) scale(0.92,1.12)" font-size="4.62" fill="#1a1a1a" stroke="#1a1a1a" stroke-width="0.12">HOXC4</text>
<text transform="translate(175.0,293.83) rotate(0.3) scale(0.92,1.12)" font-size="4.62" fill="#1a1a1a" stroke="#1a1a1a" stroke-width="0.12">STAT1::STAT2</text>
<text transform="translate(175.0,298.22) rotate(0.3) scale(0.92,1.12)" font-size="4.62" fill="#1a1a1a" stroke="#1a1a1a" stroke-width="0.12">IRF7</text>
<text transform="translate(175.0,302.60) rotate(0.3) scale(0.92,1.12)" font-size="4.62" fill="#1a1a1a" stroke="#1a1a1a" stroke-width="0.12">IRF2</text>
<text transform="translate(175.0,306.99) rotate(0.3) scale(0.92,1.12)" font-size="4.62" fill="#1a1a1a" stroke="#1a1a1a" stroke-width="0.12">IRF3</text>
<text transform="translate(175.0,311.37) rotate(0.3) scale(0.92,1.12)" font-size="4.62" fill="#1a1a1a" stroke="#1a1a1a" stroke-width="0.12">RUNX3</text>
<text transform="translate(175.0,315.76) rotate(0.3) scale(0.92,1.12)" font-size="4.62" fill="#1a1a1a" stroke="#1a1a1a" stroke-width="0.12">EHF</text>
<text transform="translate(175.0,320.14) rotate(0.3) scale(0.92,1.12)" font-size="4.62" fill="#1a1a1a" stroke="#1a1a1a" stroke-width="0.12">ELF1</text>
<text transform="translate(175.0,324.53) rotate(0.3) scale(0.92,1.12)" font-size="4.62" fill="#1a1a1a" stroke="#1a1a1a" stroke-width="0.12">ELF3</text>
<text transform="translate(175.0,328.91) rotate(0.3) scale(0.92,1.12)" font-size="4.62" fill="#1a1a1a" stroke="#1a1a1a" stroke-width="0.12">ETV1</text>
<text transform="translate(175.0,333.30) rotate(0.3) scale(0.92,1.12)" font-size="4.62" fill="#1a1a1a" stroke="#1a1a1a" stroke-width="0.12">GABPA</text>
<text transform="translate(175.0,337.68) rotate(0.3) scale(0.92,1.12)" font-size="4.62" fill="#1a1a1a" stroke="#1a1a1a" stroke-width="0.12">NR2C2(var.2)</text>
<text transform="translate(175.0,342.07) rotate(0.3) scale(0.92,1.12)" font-size="4.62" fill="#1a1a1a" stroke="#1a1a1a" stroke-width="0.12">SPIB</text>
<text transform="translate(175.0,346.45) rotate(0.3) scale(0.92,1.12)" font-size="4.62" fill="#1a1a1a" stroke="#1a1a1a" stroke-width="0.12">IKZF1</text>
<text transform="translate(175.0,350.84) rotate(0.3) scale(0.92,1.12)" font-size="4.62" fill="#1a1a1a" stroke="#1a1a1a" stroke-width="0.12">ETV6</text>
<path d="M12.10,11.60 L16.50,11.60" fill="none" stroke="#555" stroke-width="0.6"/>
<path d="M12.10,18.50 L16.50,18.50" fill="none" stroke="#555" stroke-width="0.6"/>
<path d="M12.10,11.60 L12.10,18.50" fill="none" stroke="#555" stroke-width="0.6"/>
<path d="M1.10,15.20 L12.10,15.20" fill="none" stroke="#555" stroke-width="0.6"/>
<path d="M1.10,15.20 L1.10,120.20 L7.90,120.20" fill="none" stroke="#8a8a8a" stroke-width="1.1"/>
<path d="M7.90,54.50 L7.90,186.60" fill="none" stroke="#6a6a6a" stroke-width="0.8"/>
<path d="M7.90,54.50 L14.50,54.50" fill="none" stroke="#555" stroke-width="0.6"/>
<path d="M15.00,30.00 L15.00,78.00" fill="none" stroke="#555" stroke-width="0.6"/>
<path d="M15.00,30.00 L16.50,30.00" fill="none" stroke="#555" stroke-width="0.6"/>
<path d="M15.00,78.00 L16.50,78.00" fill="none" stroke="#555" stroke-width="0.6"/>
<path d="M13.50,141.00 L13.50,168.00" fill="none" stroke="#555" stroke-width="0.6"/>
<path d="M13.50,141.00 L16.50,141.00" fill="none" stroke="#555" stroke-width="0.6"/>
<path d="M13.50,168.00 L16.50,168.00" fill="none" stroke="#555" stroke-width="0.6"/>
<path d="M7.90,154.80 L13.80,154.80" fill="none" stroke="#555" stroke-width="0.6"/>
<path d="M7.90,186.60 L10.50,186.60" fill="none" stroke="#555" stroke-width="0.6"/>
<path d="M10.50,191.00 L10.50,215.00" fill="none" stroke="#555" stroke-width="0.6"/>
<path d="M10.50,191.00 L15.00,191.00" fill="none" stroke="#555" stroke-width="0.6"/>
<path d="M11.50,215.00 L11.50,268.00" fill="none" stroke="#555" stroke-width="0.6"/>
<path d="M10.50,215.00 L14.00,215.00" fill="none" stroke="#555" stroke-width="0.6"/>
<path d="M11.50,240.00 L13.50,240.00" fill="none" stroke="#555" stroke-width="0.6"/>
<path d="M13.50,265.00 L13.50,318.00" fill="none" stroke="#555" stroke-width="0.6"/>
<path d="M11.50,268.00 L13.50,268.00" fill="none" stroke="#555" stroke-width="0.6"/>
<path d="M15.50,318.00 L15.50,345.00" fill="none" stroke="#555" stroke-width="0.8"/>
<path d="M13.50,318.00 L15.50,318.00" fill="none" stroke="#555" stroke-width="0.6"/>
<path d="M14.68,26.00 L14.68,40.00" fill="none" stroke="#555" stroke-width="0.55"/>
<path d="M14.68,26.00 L17.00,26.00" fill="none" stroke="#555" stroke-width="0.4"/>
<path d="M14.68,40.00 L17.00,40.00" fill="none" stroke="#555" stroke-width="0.4"/>
<path d="M14.78,44.00 L14.78,60.00" fill="none" stroke="#555" stroke-width="0.55"/>
<path d="M14.78,44.00 L17.00,44.00" fill="none" stroke="#555" stroke-width="0.4"/>
<path d="M14.78,60.00 L17.00,60.00" fill="none" stroke="#555" stroke-width="0.4"/>
<path d="M15.96,62.00 L15.96,76.00" fill="none" stroke="#555" stroke-width="0.55"/>
<path d="M15.96,62.00 L17.00,62.00" fill="none" stroke="#555" stroke-width="0.4"/>
<path d="M15.96,76.00 L17.00,76.00" fill="none" stroke="#555" stroke-width="0.4"/>
<path d="M15.37,84.00 L15.37,100.00" fill="none" stroke="#555" stroke-width="0.55"/>
<path d="M15.37,84.00 L17.00,84.00" fill="none" stroke="#555" stroke-width="0.4"/>
<path d="M15.37,100.00 L17.00,100.00" fill="none" stroke="#555" stroke-width="0.4"/>
<path d="M15.90,102.00 L15.90,118.00" fill="none" stroke="#555" stroke-width="0.55"/>
<path d="M15.90,102.00 L17.00,102.00" fill="none" stroke="#555" stroke-width="0.4"/>
<path d="M15.90,118.00 L17.00,118.00" fill="none" stroke="#555" stroke-width="0.4"/>
<path d="M15.06,122.00 L15.06,136.00" fill="none" stroke="#555" stroke-width="0.55"/>
<path d="M15.06,122.00 L17.00,122.00" fill="none" stroke="#555" stroke-width="0.4"/>
<path d="M15.06,136.00 L17.00,136.00" fill="none" stroke="#555" stroke-width="0.4"/>
<path d="M15.80,150.00 L15.80,160.00" fill="none" stroke="#555" stroke-width="0.55"/>
<path d="M15.80,150.00 L17.00,150.00" fill="none" stroke="#555" stroke-width="0.4"/>
<path d="M15.80,160.00 L17.00,160.00" fill="none" stroke="#555" stroke-width="0.4"/>
<path d="M15.17,172.00 L15.17,184.00" fill="none" stroke="#555" stroke-width="0.55"/>
<path d="M15.17,172.00 L17.00,172.00" fill="none" stroke="#555" stroke-width="0.4"/>
<path d="M15.17,184.00 L17.00,184.00" fill="none" stroke="#555" stroke-width="0.4"/>
<path d="M14.89,196.00 L14.89,212.00" fill="none" stroke="#555" stroke-width="0.55"/>
<path d="M14.89,196.00 L17.00,196.00" fill="none" stroke="#555" stroke-width="0.4"/>
<path d="M14.89,212.00 L17.00,212.00" fill="none" stroke="#555" stroke-width="0.4"/>
<path d="M15.67,222.00 L15.67,236.00" fill="none" stroke="#555" stroke-width="0.55"/>
<path d="M15.67,222.00 L17.00,222.00" fill="none" stroke="#555" stroke-width="0.4"/>
<path d="M15.67,236.00 L17.00,236.00" fill="none" stroke="#555" stroke-width="0.4"/>
<path d="M15.92,244.00 L15.92,260.00" fill="none" stroke="#555" stroke-width="0.55"/>
<path d="M15.92,244.00 L17.00,244.00" fill="none" stroke="#555" stroke-width="0.4"/>
<path d="M15.92,260.00 L17.00,260.00" fill="none" stroke="#555" stroke-width="0.4"/>
<path d="M14.66,272.00 L14.66,290.00" fill="none" stroke="#555" stroke-width="0.55"/>
<path d="M14.66,272.00 L17.00,272.00" fill="none" stroke="#555" stroke-width="0.4"/>
<path d="M14.66,290.00 L17.00,290.00" fill="none" stroke="#555" stroke-width="0.4"/>
<path d="M15.39,296.00 L15.39,314.00" fill="none" stroke="#555" stroke-width="0.55"/>
<path d="M15.39,296.00 L17.00,296.00" fill="none" stroke="#555" stroke-width="0.4"/>
<path d="M15.39,314.00 L17.00,314.00" fill="none" stroke="#555" stroke-width="0.4"/>
<path d="M15.43,322.00 L15.43,332.00" fill="none" stroke="#555" stroke-width="0.55"/>
<path d="M15.43,322.00 L17.00,322.00" fill="none" stroke="#555" stroke-width="0.4"/>
<path d="M15.43,332.00 L17.00,332.00" fill="none" stroke="#555" stroke-width="0.4"/>
<path d="M14.83,336.00 L14.83,348.00" fill="none" stroke="#555" stroke-width="0.55"/>
<path d="M14.83,336.00 L17.00,336.00" fill="none" stroke="#555" stroke-width="0.4"/>
<path d="M14.83,348.00 L17.00,348.00" fill="none" stroke="#555" stroke-width="0.4"/>
<path d="M15.00,86.00 L15.00,130.00" fill="none" stroke="#555" stroke-width="0.6"/>
<path d="M14.50,130.00 L16.50,130.00" fill="none" stroke="#555" stroke-width="0.5"/>
<text transform="translate(25.60,356.70) rotate(-45)" text-anchor="end" font-size="7.0" fill="#222" stroke="#222" stroke-width="0.15">CD4<tspan dy="-2.2" font-size="5.0">+</tspan><tspan dy="2.2"> </tspan>T<tspan dy="1.3" font-size="5.0">N</tspan></text>
<text transform="translate(40.00,356.70) rotate(-45)" text-anchor="end" font-size="7.0" fill="#222" stroke="#222" stroke-width="0.15">CD8<tspan dy="-2.2" font-size="5.0">+</tspan><tspan dy="2.2"> </tspan>T<tspan dy="1.3" font-size="5.0">N</tspan></text>
<text transform="translate(52.60,356.80) rotate(-45)" text-anchor="end" font-size="7.0" fill="#222" stroke="#222" stroke-width="0.15">IFN-responsive</text>
<text transform="translate(57.30,361.40) rotate(-45)" text-anchor="end" font-size="7.0" fill="#222" stroke="#222" stroke-width="0.15">CD4<tspan dy="-2.2" font-size="5.0">+</tspan><tspan dy="2.2"> </tspan>T<tspan dy="1.3" font-size="5.0">H</tspan><tspan dy="-1.3">/T</tspan><tspan dy="1.3" font-size="5.0">M</tspan></text>
<text transform="translate(77.00,355.80) rotate(-45)" text-anchor="end" font-size="7.0" fill="#222" stroke="#222" stroke-width="0.15">Resting T<tspan dy="1.3" font-size="5.0">reg</tspan></text>
<text transform="translate(87.10,357.10) rotate(-45)" text-anchor="end" font-size="7.0" fill="#222" stroke="#222" stroke-width="0.15">CD4<tspan dy="-2.2" font-size="5.0">+</tspan><tspan dy="2.2"> </tspan>T<tspan dy="1.3" font-size="5.0">CM</tspan></text>
<text transform="translate(100.50,356.40) rotate(-45)" text-anchor="end" font-size="7.0" fill="#222" stroke="#222" stroke-width="0.15">Activated T<tspan dy="1.3" font-size="5.0">reg</tspan></text>
<text transform="translate(114.80,356.40) rotate(-45)" text-anchor="end" font-size="7.0" fill="#222" stroke="#222" stroke-width="0.15">CD8<tspan dy="-2.2" font-size="5.0">+</tspan><tspan dy="2.2"> </tspan>T<tspan dy="1.3" font-size="5.0">SCM</tspan></text>
<text transform="translate(128.70,356.90) rotate(-45)" text-anchor="end" font-size="7.0" fill="#222" stroke="#222" stroke-width="0.15">CD8<tspan dy="-2.2" font-size="5.0">+</tspan><tspan dy="2.2"> </tspan>T<tspan dy="1.3" font-size="5.0">CM</tspan></text>
<text transform="translate(142.40,356.90) rotate(-45)" text-anchor="end" font-size="7.0" fill="#222" stroke="#222" stroke-width="0.15">CD4<tspan dy="-2.2" font-size="5.0">+</tspan><tspan dy="2.2"> </tspan>T<tspan dy="1.3" font-size="5.0">EM</tspan></text>
<text transform="translate(155.40,356.90) rotate(-45)" text-anchor="end" font-size="7.0" fill="#222" stroke="#222" stroke-width="0.15">CD8<tspan dy="-2.2" font-size="5.0">+</tspan><tspan dy="2.2"> </tspan>T<tspan dy="1.3" font-size="5.0">EM</tspan></text>
<text transform="translate(169.10,356.40) rotate(-45)" text-anchor="end" font-size="7.0" fill="#222" stroke="#222" stroke-width="0.15">CD8<tspan dy="-2.2" font-size="5.0">+</tspan><tspan dy="2.2"> </tspan>T<tspan dy="1.3" font-size="5.0">EFF</tspan></text>
<defs><linearGradient id="hmcb" x1="0" y1="0" x2="0" y2="1"><stop offset="0" stop-color="#b82030"/><stop offset="0.15" stop-color="#e05040"/><stop offset="0.35" stop-color="#f4a262"/><stop offset="0.52" stop-color="#fbe8a4"/><stop offset="0.66" stop-color="#eef6ec"/><stop offset="0.82" stop-color="#a8d0e8"/><stop offset="1" stop-color="#4a7ab8"/></linearGradient></defs>
<rect x="204.9" y="130.4" width="3.1" height="46.8" fill="url(#hmcb)"/>
<text transform="translate(209.0,139.9) rotate(0.3)" font-size="6.8" fill="#222">2</text>
<text transform="translate(209.0,151.3) rotate(0.3)" font-size="6.8" fill="#222">1</text>
<text transform="translate(209.0,163.5) rotate(0.3)" font-size="6.8" fill="#222">0</text>
<text transform="translate(208.0,175.2) rotate(0.3)" font-size="6.8" fill="#222">−1</text>
<text transform="translate(1.2,10.4) rotate(0.3)" font-size="11.3" font-weight="bold" fill="#111">A</text>
<text transform="translate(221.3,10.3) rotate(0.3)" font-size="11" font-weight="bold" fill="#111">B</text>
<text transform="translate(220.4,161.8) rotate(0.3)" font-size="12" font-weight="bold" fill="#111">C</text>
<defs>
<path id="aM0" d="M22.3 10.4h0M32.0 20.7h0M19.5 28.0h0M30.8 21.6h0M11.3 20.3h0M6.9 22.2h0M28.1 7.8h0M4.0 29.3h0M22.3 25.8h0M15.1 32.1h0M33.4 18.3h0M11.3 20.8h0M13.2 17.7h0M10.3 27.6h0M3.3 22.5h0M27.9 7.7h0M16.2 22.9h0M29.9 22.4h0M15.8 16.5h0M20.5 16.2h0M7.6 18.9h0M26.6 19.4h0M25.0 8.4h0M10.7 31.0h0M14.8 26.9h0M26.5 8.8h0M12.5 21.6h0M25.9 10.8h0M26.3 21.3h0M16.7 30.4h0M13.4 27.0h0M12.8 22.6h0M29.1 8.0h0M10.8 18.8h0M15.5 16.9h0M8.0 28.5h0M2.9 24.3h0M21.8 20.4h0M36.0 11.5h0M19.6 14.0h0M25.5 8.0h0M20.0 32.8h0M25.6 18.3h0M7.6 30.6h0M25.6 17.9h0M9.6 19.0h0M18.0 15.5h0M30.7 14.0h0M13.0 20.2h0M19.2 22.8h0M18.6 26.3h0M4.7 25.1h0M13.1 20.3h0M27.8 19.9h0M22.1 3.8h0M5.3 18.2h0M31.7 18.1h0M16.0 29.9h0M26.4 25.3h0M20.0 21.9h0M20.6 28.1h0M5.4 27.7h0M27.9 17.4h0M34.7 12.8h0M26.7 7.9h0M24.6 9.3h0M27.3 18.6h0M26.0 23.6h0M26.7 16.8h0M28.4 23.2h0M12.5 23.2h0M24.8 5.2h0M23.2 22.2h0M21.8 14.9h0M21.3 32.9h0M8.9 30.6h0M25.1 15.4h0M17.1 22.9h0M27.1 15.3h0M5.9 27.6h0M17.8 28.3h0M9.8 31.1h0M19.7 16.2h0M7.9 29.0h0M19.2 29.7h0M29.9 6.4h0M33.3 13.7h0M22.3 15.6h0M6.0 31.4h0M24.2 24.8h0M11.3 21.8h0M32.8 15.7h0M26.7 6.9h0M34.2 17.9h0M29.9 13.7h0M10.5 26.1h0M25.1 6.2h0M7.3 28.9h0M21.9 26.8h0M6.6 21.8h0M32.1 17.1h0M17.2 31.3h0M26.3 21.9h0M12.9 19.3h0M24.2 21.6h0M7.7 22.5h0M10.6 21.1h0M30.5 12.1h0M24.1 8.7h0M12.1 13.7h0M15.3 18.3h0M23.8 31.2h0M12.3 21.4h0M14.3 30.4h0M12.7 18.2h0M31.1 4.5h0M4.5 31.6h0M26.9 9.0h0M18.9 19.2h0M25.5 25.1h0M13.1 29.3h0M29.2 5.1h0M29.3 12.1h0M22.1 27.3h0M20.1 24.3h0M18.7 28.5h0M17.7 17.7h0M22.4 23.8h0M26.0 14.6h0M14.4 27.3h0M4.2 32.3h0M35.3 12.3h0M14.6 17.8h0M8.3 23.7h0M19.4 28.7h0M4.3 21.2h0M21.2 17.1h0M23.8 8.5h0M20.3 17.7h0M32.8 19.4h0M22.0 16.3h0M13.4 14.2h0M5.0 20.9h0M28.9 8.5h0M17.6 21.5h0M15.5 24.4h0M21.6 24.0h0M26.8 20.1h0M14.2 18.7h0M10.9 25.0h0M20.0 18.9h0M24.9 20.7h0M26.2 20.1h0M31.0 13.0h0M33.9 5.5h0M19.2 16.8h0M25.1 23.0h0M9.7 25.4h0M16.1 20.4h0M6.9 21.1h0M31.7 13.9h0M28.1 9.2h0M34.5 17.1h0M21.3 26.9h0M15.5 18.7h0M13.0 29.9h0M34.9 12.5h0M19.4 20.2h0M34.8 13.5h0M15.9 16.1h0M8.5 17.8h0M28.8 12.6h0M25.5 20.5h0M31.5 9.7h0M17.1 28.5h0M34.9 15.0h0M3.6 27.6h0M31.9 16.6h0M26.9 3.8h0M30.6 6.1h0M25.1 14.8h0M25.7 14.3h0M11.3 13.8h0M33.3 17.0h0M26.7 24.4h0M20.4 18.8h0M26.2 22.1h0M5.9 24.4h0M33.4 3.9h0M5.2 19.9h0M35.0 12.5h0M28.1 15.7h0M16.5 29.8h0M23.1 4.1h0M33.6 14.2h0M24.6 4.2h0M22.4 25.7h0M24.4 3.9h0M11.2 19.2h0M31.7 16.5h0M31.9 12.8h0M7.3 27.1h0M19.7 23.2h0M7.6 19.0h0M26.6 20.2h0M21.0 26.9h0M21.0 27.8h0M18.0 28.6h0M9.0 23.4h0M9.4 19.8h0M6.5 23.0h0M32.1 5.1h0M22.4 5.8h0M10.1 25.9h0M33.5 19.0h0M17.1 27.9h0M33.2 13.8h0M4.0 20.6h0M24.1 8.8h0M34.7 15.6h0M10.2 21.8h0M14.6 31.8h0M12.7 19.1h0M19.5 22.1h0M16.1 17.1h0M21.6 25.2h0M8.4 21.1h0M32.8 13.8h0M24.5 24.2h0M22.2 25.9h0M15.3 20.8h0M32.7 13.3h0M26.2 7.7h0M28.5 6.2h0M12.7 18.6h0M27.2 14.0h0M5.2 30.3h0M6.5 30.7h0M31.8 12.5h0M13.5 29.0h0M7.2 20.7h0M28.6 22.6h0M27.8 20.7h0M5.8 31.6h0M20.9 26.5h0M4.5 30.9h0M15.0 18.5h0M12.4 16.9h0M30.4 17.7h0M25.8 25.3h0M14.6 27.2h0M15.1 18.8h0M7.2 22.5h0M25.2 3.6h0M18.1 14.1h0M17.2 24.9h0M14.9 21.0h0M22.9 16.5h0M26.1 20.6h0M9.8 30.8h0M24.9 22.7h0M24.0 6.2h0M13.8 26.6h0M2.7 22.2h0M29.6 19.3h0M13.1 29.6h0M29.2 14.9h0M7.2 21.5h0M16.6 27.3h0M21.9 29.4h0M18.2 17.0h0M3.1 28.9h0M27.3 18.9h0M30.9 22.0h0M6.7 27.7h0M10.0 27.1h0M9.2 21.0h0M8.8 26.6h0M27.3 22.1h0M15.7 16.8h0M18.8 21.1h0M11.1 22.2h0M9.3 29.7h0M4.0 23.7h0M30.3 6.0h0M34.6 16.0h0M28.3 15.6h0M20.3 15.6h0M29.6 14.6h0M15.9 21.1h0M30.5 7.1h0M33.4 18.4h0M3.1 21.3h0M18.6 26.4h0M33.8 15.0h0M24.7 21.3h0M24.2 29.7h0M29.3 5.5h0M10.0 16.5h0M4.9 25.8h0M3.0 24.2h0M31.6 12.6h0M21.3 28.5h0M24.4 18.3h0M14.3 31.7h0M23.2 27.4h0M4.3 29.2h0M25.1 6.4h0M21.0 19.6h0M11.4 18.5h0M32.0 19.6h0M4.3 21.7h0M15.5 24.6h0M23.1 30.5h0M32.9 17.2h0M11.6 23.4h0M23.3 30.9h0M8.1 18.6h0M8.7 22.0h0M33.2 5.2h0M21.8 14.9h0M18.6 17.4h0M9.4 22.1h0M31.4 5.6h0M5.0 19.5h0M13.9 21.4h0M6.0 31.3h0M20.1 18.6h0M24.4 15.2h0M8.7 19.4h0M22.5 24.9h0M6.4 20.9h0M20.4 17.0h0M20.1 19.6h0M10.3 22.3h0M27.6 20.4h0M26.0 7.8h0M3.7 21.8h0M27.1 23.9h0M10.2 23.8h0M28.0 14.5h0M10.3 20.5h0M25.4 22.3h0M25.2 16.3h0M34.0 12.6h0M28.6 14.5h0M14.5 28.4h0M26.1 4.1h0M8.4 18.9h0M10.3 22.5h0M15.6 30.7h0M32.4 9.9h0M4.4 27.1h0M10.9 30.1h0M19.0 14.0h0M11.2 30.6h0M27.9 3.8h0M20.2 21.0h0M22.1 7.1h0M21.9 16.1h0M10.5 30.1h0M27.9 22.8h0M4.3 30.5h0M3.8 22.3h0M5.6 30.6h0M30.1 6.5h0M5.3 30.7h0M24.2 30.7h0M14.5 26.9h0M11.0 19.7h0M17.7 18.1h0M4.0 22.2h0M35.0 15.9h0M21.4 25.8h0M23.5 4.2h0M26.7 26.0h0M3.6 21.9h0M13.3 30.4h0M28.5 3.1h0M30.6 12.5h0M6.8 27.4h0M11.7 22.5h0M34.9 14.0h0M28.6 8.1h0M25.2 28.8h0M10.6 23.9h0M19.7 32.7h0M33.2 18.2h0M23.2 24.9h0M5.2 29.0h0M30.7 13.3h0"/>
<path id="aM1" d="M24.0 27.4h0M9.8 25.1h0M9.4 27.4h0M23.7 9.3h0M34.1 5.7h0M34.0 4.9h0M25.6 28.2h0M12.1 27.4h0M14.4 16.9h0M34.5 10.0h0M10.1 30.3h0M18.8 30.4h0M10.8 30.9h0M8.7 25.1h0M10.4 18.4h0M25.0 8.3h0M24.2 10.0h0M2.8 25.9h0M6.6 21.7h0M30.9 20.6h0M33.1 17.6h0M22.5 30.5h0M3.4 26.8h0M33.6 7.1h0M20.9 16.6h0M26.2 26.3h0M10.8 20.8h0M6.1 31.8h0M16.5 26.9h0M14.1 26.2h0M5.6 19.3h0M20.8 32.7h0M9.5 19.7h0M18.7 24.5h0M29.7 13.0h0M34.9 15.1h0M27.5 12.9h0M30.1 16.3h0M16.2 19.4h0M21.1 17.5h0M16.3 24.4h0M23.3 25.9h0M8.8 29.8h0M21.8 17.9h0M18.1 20.7h0M7.2 24.8h0M8.5 30.5h0M26.0 27.6h0M20.8 30.3h0M9.7 23.7h0M18.6 21.1h0M21.4 15.8h0M9.7 17.5h0M8.1 23.0h0M8.0 17.9h0M33.4 13.6h0M24.2 24.8h0M14.9 21.6h0M28.9 4.9h0M24.5 19.7h0M13.7 18.0h0M22.8 23.4h0M19.0 21.1h0M22.9 30.3h0M32.3 5.9h0M24.0 18.2h0M27.9 9.0h0M26.4 9.7h0M4.2 23.9h0M15.9 16.4h0M21.6 16.4h0M24.1 11.5h0M11.5 20.3h0M6.5 25.8h0M17.5 27.9h0M32.8 18.1h0M16.8 17.5h0M14.3 28.1h0M23.5 4.1h0M33.0 6.1h0M9.9 31.7h0M18.8 25.8h0M22.0 19.9h0M8.0 27.0h0M27.0 20.1h0M3.2 28.6h0M18.1 21.6h0M16.5 29.0h0M23.7 26.6h0M5.4 31.2h0M8.7 23.2h0M9.8 24.3h0M10.0 22.9h0M20.6 23.2h0M10.2 16.5h0M31.1 19.2h0M29.5 16.6h0M21.1 15.3h0M22.4 29.5h0M24.9 14.8h0M18.7 17.2h0M4.8 27.3h0M28.1 20.3h0M23.3 22.8h0M16.0 21.7h0M21.2 27.7h0M26.0 18.5h0M23.5 25.8h0M26.1 16.8h0M24.5 26.1h0M25.2 18.4h0M29.8 7.1h0M23.1 29.2h0M29.1 5.3h0M18.8 16.6h0M25.9 25.7h0M21.9 25.8h0M31.2 3.1h0M10.5 23.6h0M6.1 31.5h0M15.3 21.1h0M24.5 3.9h0M4.2 20.8h0M31.3 12.7h0M13.6 31.7h0M30.9 15.9h0M19.4 21.3h0M27.1 17.5h0M24.4 8.0h0M16.7 24.1h0M4.5 26.6h0M26.1 19.6h0M27.8 9.1h0M26.7 4.6h0M15.5 27.0h0M24.9 22.8h0M20.4 18.5h0M8.5 19.6h0M25.3 8.4h0M25.9 21.0h0M34.5 8.8h0M24.5 21.9h0M28.7 3.4h0M35.7 13.5h0M33.2 6.3h0M4.3 23.2h0M10.4 22.5h0M11.7 20.1h0M33.9 7.0h0M11.6 29.6h0M30.8 4.2h0M23.8 23.6h0M26.6 15.3h0M26.8 24.8h0M12.0 23.8h0M6.5 25.2h0M18.2 24.1h0M10.6 28.7h0M4.5 27.5h0M16.6 24.9h0M3.6 27.9h0M10.3 20.0h0M16.7 16.3h0M18.8 30.5h0M6.2 24.8h0M25.2 10.7h0M23.5 20.2h0M24.3 27.2h0M9.4 27.8h0M26.7 6.2h0M21.2 22.1h0M28.2 8.1h0M2.6 24.3h0M10.4 18.6h0M25.5 19.0h0M5.0 25.0h0M13.4 13.7h0M6.9 30.2h0M4.3 22.2h0M13.3 31.1h0M23.4 28.3h0M3.5 26.0h0M34.4 6.6h0M21.6 27.8h0M34.1 17.7h0M26.9 13.5h0M21.6 19.9h0M34.9 12.8h0M14.0 31.9h0M9.4 26.8h0M14.8 20.2h0M25.7 5.9h0M8.7 22.6h0M27.7 19.7h0M16.8 25.3h0M27.9 19.8h0M30.3 4.1h0M19.1 23.5h0M30.0 14.8h0M30.9 8.6h0M23.6 24.5h0M33.2 13.7h0M28.9 6.4h0M29.8 22.1h0M24.3 27.7h0M8.9 20.6h0M4.7 25.6h0M14.4 13.7h0M8.7 31.3h0M26.3 18.0h0M24.1 27.1h0M9.9 13.8h0M23.2 22.2h0M25.8 22.3h0M16.3 25.2h0M6.1 23.4h0M10.7 23.1h0M20.9 24.4h0M17.5 25.4h0M10.9 21.0h0M25.1 21.6h0M19.1 23.7h0M6.9 29.7h0M30.0 16.8h0M3.2 24.0h0M8.9 24.4h0M9.2 17.1h0M21.2 20.2h0M27.9 20.2h0M17.2 29.1h0M23.7 31.1h0M24.7 17.1h0M30.8 3.6h0M15.2 27.8h0M10.0 20.0h0M19.6 28.4h0M34.6 14.6h0M30.1 3.0h0M11.2 21.7h0M23.2 5.9h0M8.3 27.6h0M13.4 29.8h0M14.7 28.3h0M10.9 21.9h0M26.2 16.4h0M16.5 15.6h0M7.3 25.4h0M11.3 32.0h0M10.0 30.7h0M23.6 26.9h0M31.3 21.2h0M12.7 26.1h0M33.2 6.9h0M22.8 10.1h0M27.2 4.5h0M19.7 29.4h0M7.9 21.8h0M22.9 17.8h0M5.4 31.8h0M7.7 28.5h0M5.8 20.9h0M11.5 31.8h0M24.1 21.0h0M29.4 3.6h0M23.3 17.0h0M23.5 24.6h0M20.6 19.8h0M25.5 7.5h0M14.5 17.8h0M6.5 24.7h0M23.8 22.1h0M32.4 19.2h0M31.6 8.2h0M27.1 4.5h0M20.4 28.2h0M3.8 18.6h0M10.3 26.9h0M19.1 16.0h0M7.5 20.9h0M32.6 16.6h0M25.5 20.9h0M32.8 8.0h0M14.9 22.0h0M16.4 16.1h0M21.7 16.7h0M17.9 29.5h0M35.7 14.4h0M33.8 17.5h0M25.5 5.0h0M27.1 25.0h0M12.3 22.2h0M13.0 30.2h0M7.4 17.0h0M4.8 22.5h0M33.9 6.1h0M11.4 30.3h0M26.6 23.1h0M8.7 20.1h0M10.8 19.0h0M27.9 22.5h0M26.7 7.7h0M31.6 3.9h0M26.8 20.2h0M3.9 21.6h0M27.7 15.6h0M16.7 21.8h0M26.6 8.4h0M16.6 21.5h0M8.4 28.5h0M28.3 14.5h0M5.4 23.2h0M33.8 7.3h0M34.9 13.3h0M34.0 6.2h0M9.0 22.4h0M25.1 7.9h0M11.9 13.7h0M17.6 26.2h0M23.7 20.9h0M9.3 13.5h0M18.0 27.9h0M18.5 14.8h0M23.1 4.9h0M20.0 17.0h0M27.9 7.7h0M24.0 29.7h0M24.1 20.5h0M24.3 10.3h0M20.0 24.1h0M20.2 30.5h0M12.7 17.9h0M28.4 3.7h0M30.7 20.0h0M23.9 15.1h0M23.7 15.1h0M3.7 28.6h0M27.8 18.2h0M22.2 5.7h0M9.5 16.7h0M5.9 20.7h0M17.7 20.6h0M26.0 16.9h0M22.9 10.6h0M26.6 26.3h0M23.5 17.2h0M23.9 25.5h0M16.4 20.4h0M16.8 16.5h0M6.3 20.9h0M35.2 16.5h0M17.0 23.2h0M29.0 21.9h0M31.5 8.9h0M21.5 15.7h0M19.2 17.6h0M9.0 28.8h0M22.2 21.8h0M23.4 8.2h0M26.3 5.1h0M31.6 6.8h0M17.8 17.8h0M26.1 25.8h0M20.0 25.2h0M34.3 7.1h0M5.1 28.1h0M5.6 23.8h0M13.5 30.6h0M21.9 29.5h0M14.6 19.3h0M8.1 22.7h0M9.1 19.0h0M4.3 23.1h0M6.7 17.9h0M32.4 14.9h0M22.4 26.8h0M19.8 20.1h0M17.9 24.7h0M30.4 8.4h0M32.6 20.0h0M5.2 25.9h0M11.6 25.8h0M12.9 29.8h0M8.6 19.3h0M24.4 7.1h0M5.3 29.8h0M11.2 25.7h0M18.1 20.2h0M7.8 13.7h0M13.8 24.7h0M31.0 21.2h0M19.1 27.1h0M15.1 24.5h0M6.2 25.3h0M29.2 20.7h0M9.7 29.0h0M19.7 32.8h0M12.7 28.0h0M2.7 22.8h0M32.4 9.3h0M29.2 7.3h0M27.6 12.4h0M33.7 19.2h0M12.2 13.7h0M28.1 21.2h0M8.2 23.7h0M31.1 17.5h0M22.1 26.2h0M13.4 25.2h0M14.1 24.5h0M18.8 32.9h0M20.7 16.5h0M33.8 14.6h0M27.9 9.9h0M22.2 14.8h0M12.0 17.9h0M4.5 25.4h0M6.9 21.9h0M32.0 6.3h0M6.2 24.5h0M34.2 16.2h0M22.8 20.7h0M22.9 5.9h0M26.2 20.3h0M16.5 29.5h0M35.5 6.9h0M8.3 25.1h0M7.3 25.2h0M24.1 25.5h0M13.9 19.0h0M4.2 21.6h0M25.6 24.4h0M11.9 24.0h0M13.4 21.2h0M30.3 17.5h0M12.9 22.2h0M6.7 20.6h0M34.1 13.4h0M14.1 22.8h0M10.6 31.1h0M10.6 26.6h0M4.7 25.8h0M27.9 23.5h0M31.5 19.3h0M15.4 23.2h0M6.2 20.6h0M11.2 26.8h0M9.7 13.5h0"/>
<path id="aM2" d="M7.0 17.7h0M31.0 6.9h0M32.3 3.9h0M25.2 8.8h0M20.0 27.9h0M4.4 21.6h0M14.3 23.2h0M6.7 21.3h0M6.5 25.0h0M19.9 20.3h0M17.3 22.9h0M27.3 21.1h0M21.4 29.4h0M31.7 17.9h0M29.7 13.9h0M22.8 23.4h0M6.1 30.6h0M5.4 26.5h0M4.4 27.6h0M7.6 17.5h0M16.8 19.6h0M29.8 8.7h0M22.3 7.2h0M9.8 13.8h0M25.6 10.8h0M11.0 26.6h0M19.9 26.4h0M5.6 18.5h0M19.1 22.7h0M12.8 28.1h0M20.2 29.0h0M10.6 22.9h0M30.2 8.5h0M35.6 7.1h0M24.9 20.2h0M23.6 3.9h0M14.7 31.4h0M31.8 13.9h0M7.7 22.3h0M13.9 19.3h0M14.2 17.7h0M16.6 20.8h0M28.8 6.7h0M33.5 4.4h0M17.4 24.4h0M21.3 23.3h0M20.7 17.9h0M3.3 19.8h0M9.9 23.0h0M19.2 28.2h0M16.4 17.7h0M9.4 25.2h0M17.3 16.4h0M33.0 13.6h0M20.6 18.1h0M22.2 18.8h0M23.7 29.1h0M10.4 13.7h0M3.4 20.5h0M13.3 20.6h0M19.3 18.3h0M28.3 5.5h0M30.1 6.4h0M23.9 27.3h0M16.7 23.7h0M31.2 15.4h0M22.0 26.3h0M8.8 28.7h0M10.7 17.0h0M8.7 17.1h0M30.5 12.6h0M10.6 26.2h0M29.8 6.6h0M4.6 25.4h0M28.6 3.9h0M15.2 29.1h0M24.6 8.9h0M22.1 26.5h0M24.4 16.3h0M18.4 27.4h0M4.8 24.4h0M20.4 17.3h0M27.7 23.9h0M10.6 28.5h0M28.0 9.3h0M16.7 30.6h0M20.7 28.9h0M22.3 7.1h0M14.0 24.0h0M11.8 30.4h0M9.1 17.4h0M9.3 13.4h0M15.3 27.5h0M32.9 14.0h0M30.9 8.5h0M11.7 32.2h0M26.1 18.8h0M26.5 24.5h0M8.9 26.2h0M9.8 19.3h0M10.1 21.9h0M6.8 29.6h0M29.3 15.6h0M19.8 20.1h0M7.5 31.3h0M31.7 15.6h0M35.5 7.7h0M24.8 18.1h0M4.2 20.9h0M19.5 15.2h0M18.8 23.1h0M15.5 20.5h0M35.7 16.4h0M30.0 3.6h0M11.7 20.4h0M32.4 17.8h0M17.3 17.2h0M31.7 20.7h0M14.1 26.2h0M32.0 6.6h0M35.5 12.7h0M32.2 15.7h0M30.8 3.7h0M28.2 5.0h0M34.9 4.7h0M14.9 27.1h0M26.8 7.1h0M30.2 20.0h0M29.3 7.8h0M32.2 14.2h0M20.1 27.9h0M13.1 31.5h0M4.2 25.7h0M9.1 31.5h0M15.7 22.7h0M32.9 18.8h0M31.8 15.8h0M14.4 26.8h0M23.2 19.6h0M25.4 5.4h0M10.6 24.1h0M27.0 8.7h0M29.7 13.9h0M13.4 19.8h0M12.4 24.9h0M22.8 11.7h0M16.6 21.9h0M29.2 12.5h0M22.9 26.4h0M5.5 21.4h0M8.8 23.3h0M26.0 25.0h0M8.8 13.1h0M30.0 4.2h0M32.2 12.7h0M19.7 29.4h0M22.4 17.3h0M26.9 26.4h0M3.8 22.4h0M9.4 26.8h0M22.2 5.6h0M30.2 15.8h0M10.0 22.5h0M6.7 30.2h0M14.2 25.5h0M28.1 4.6h0M30.8 12.5h0M28.9 23.8h0M28.6 23.9h0M18.5 15.7h0M4.3 26.3h0M5.3 18.1h0M22.4 28.1h0M13.3 28.5h0M23.4 18.2h0M19.2 25.8h0M20.2 14.9h0M7.0 26.6h0M3.6 19.0h0M27.4 5.5h0M26.5 14.8h0M22.5 24.7h0M11.2 27.6h0M28.9 21.3h0M29.1 14.3h0M23.6 6.0h0M8.3 20.6h0M25.0 27.0h0M11.2 18.3h0M12.3 22.0h0M19.2 23.8h0M27.5 8.7h0M20.2 27.5h0M5.6 30.4h0M34.6 14.3h0M35.3 8.6h0M8.7 20.4h0M3.1 30.5h0M21.2 27.3h0M20.7 18.6h0M9.4 30.7h0M24.3 23.0h0M19.5 26.4h0M11.8 31.8h0M22.5 20.3h0M23.0 25.2h0M22.1 23.1h0M23.6 18.5h0M17.9 29.4h0M18.4 26.4h0M31.9 10.0h0M11.0 17.3h0M23.7 25.1h0M24.4 29.7h0M23.3 29.8h0M19.2 16.3h0M29.1 21.9h0M23.1 28.9h0M25.9 17.2h0M8.8 17.2h0M24.9 29.0h0M7.9 17.3h0M13.0 13.5h0M5.0 23.1h0M30.9 21.6h0M18.0 16.9h0M22.7 7.4h0M9.4 26.9h0M31.9 15.3h0M27.3 7.4h0M22.6 20.5h0M31.7 13.2h0M22.4 11.4h0M21.3 21.0h0M29.6 8.0h0M26.9 7.0h0M9.4 28.9h0M10.1 18.2h0M10.3 21.2h0M25.9 6.1h0M25.8 20.7h0M31.1 17.0h0M24.2 22.7h0M31.2 21.4h0M6.7 26.2h0M26.3 16.3h0M18.6 29.7h0M25.9 27.5h0M11.9 27.0h0M22.6 27.2h0M22.9 10.7h0M20.5 21.0h0M32.6 8.8h0M2.6 26.4h0M27.2 9.3h0M31.2 17.7h0M5.3 28.3h0M26.0 25.3h0M24.1 21.2h0M3.0 23.8h0M19.7 16.4h0M28.4 5.5h0M27.2 9.6h0M10.7 24.6h0M3.6 31.1h0M33.9 6.8h0M9.1 16.4h0M19.8 21.3h0M19.2 17.3h0M7.8 27.0h0M16.8 16.5h0M10.3 26.0h0M22.5 4.3h0M10.5 16.9h0M16.3 31.2h0M12.2 31.9h0M19.8 16.4h0M24.1 27.3h0M23.9 16.4h0M5.7 25.2h0M18.4 25.9h0M24.0 26.5h0M12.5 29.2h0M3.0 21.0h0M19.4 26.8h0M18.8 26.9h0M9.9 22.4h0M10.4 20.4h0M9.7 21.6h0M20.3 29.2h0M17.2 21.5h0M24.1 18.0h0M25.1 6.7h0M25.0 23.2h0M13.9 13.0h0M20.8 29.4h0M16.3 20.0h0M10.2 25.3h0M7.7 13.1h0M22.8 7.5h0M15.5 30.9h0M9.7 25.4h0M9.2 17.4h0M6.5 18.3h0M20.6 23.7h0M12.6 17.8h0M15.4 19.5h0M10.5 20.5h0M22.9 17.2h0M13.1 27.2h0M33.7 19.0h0M7.3 23.9h0M4.9 26.9h0M7.7 24.7h0M27.2 21.3h0M31.0 18.0h0M33.8 12.7h0M28.2 9.4h0M32.4 9.8h0M19.4 20.8h0M4.2 22.2h0M10.4 23.3h0M30.2 4.7h0M8.1 19.8h0M29.6 15.8h0M12.7 23.3h0M34.2 13.7h0M34.3 9.6h0M26.8 10.2h0M22.1 24.9h0M27.1 4.3h0M18.1 19.3h0M9.0 19.5h0M31.6 16.2h0M24.2 22.3h0M4.5 32.1h0M24.8 9.4h0M27.5 19.5h0M27.1 19.7h0M13.9 21.0h0M32.1 12.4h0M13.3 20.2h0M32.6 8.8h0M18.1 14.1h0M12.4 18.4h0M35.2 15.8h0M30.2 6.5h0M19.2 17.3h0M30.7 15.6h0M5.9 18.3h0M19.7 24.0h0M26.2 18.0h0M18.1 16.7h0M12.4 21.5h0M23.6 26.8h0M14.6 27.0h0M6.7 19.9h0M17.1 16.7h0M12.0 29.5h0M26.3 19.0h0M19.7 19.1h0M12.7 30.3h0M29.9 15.8h0M12.8 20.1h0M2.5 25.9h0M9.5 13.0h0M27.5 8.7h0M8.6 30.6h0M4.4 31.6h0M16.9 27.4h0M9.1 16.7h0M26.3 6.6h0M26.8 26.1h0M7.2 13.4h0M9.4 27.3h0M25.9 26.7h0M16.9 29.5h0M31.4 20.8h0M11.3 19.6h0M5.6 26.4h0M14.9 17.7h0M18.8 17.6h0M21.9 29.9h0M20.5 21.8h0M8.7 19.5h0M33.0 19.6h0M28.3 2.9h0M22.5 20.5h0M25.2 15.3h0M18.5 30.8h0M10.4 27.6h0M20.8 14.5h0M9.6 17.3h0M7.6 22.4h0"/>
<path id="aM3" d="M17.4 14.5h0M31.9 18.2h0M14.3 21.8h0M20.3 28.6h0M10.5 21.1h0M30.9 15.5h0M7.2 24.3h0M11.7 25.8h0M16.5 18.7h0M28.6 20.3h0M25.3 15.5h0M28.1 21.4h0M30.1 7.2h0M9.6 22.2h0M25.4 10.3h0M19.4 17.8h0M21.0 19.0h0M25.4 23.0h0M32.7 14.2h0M33.2 9.7h0M29.0 3.7h0M21.7 21.3h0M31.5 3.4h0M6.6 21.9h0M6.6 26.3h0M25.0 10.1h0M27.8 13.0h0M31.2 4.3h0M7.5 19.3h0M15.8 20.8h0M24.5 19.3h0M24.8 15.1h0M21.5 18.9h0M22.7 19.2h0M13.3 23.9h0M11.6 20.0h0M33.6 18.5h0M12.2 29.4h0M32.3 17.5h0M19.1 15.2h0M26.9 6.1h0M17.4 15.6h0M23.2 5.8h0M29.1 5.5h0M27.7 12.5h0M30.9 7.7h0M26.7 20.9h0M5.6 23.3h0M23.2 6.3h0M22.6 28.1h0M3.9 19.2h0M14.5 27.8h0M28.0 24.3h0M14.5 17.6h0M12.0 17.8h0M18.9 17.6h0M13.2 14.3h0M20.7 24.7h0M24.8 25.9h0M24.1 19.5h0M33.9 8.2h0M7.0 18.8h0M7.6 19.8h0M17.1 29.7h0M13.9 17.9h0M32.7 7.9h0M3.4 26.0h0M7.0 29.7h0M21.1 23.5h0M18.7 23.2h0M10.8 22.7h0M30.0 7.1h0M16.1 22.1h0M21.7 23.2h0M24.5 10.1h0M3.8 32.5h0M26.2 20.6h0M23.0 30.2h0M7.6 24.1h0M30.2 3.2h0M29.7 4.4h0M25.5 8.2h0M9.0 25.3h0M18.9 21.6h0M28.6 23.1h0M22.4 29.5h0M16.8 25.7h0M8.3 30.8h0M24.4 31.2h0M13.2 30.0h0M27.5 17.8h0M35.3 6.9h0M31.4 3.4h0M19.3 16.1h0M12.5 30.2h0M25.4 14.0h0M32.4 20.0h0M34.6 16.8h0M26.9 22.5h0M24.5 14.6h0M11.3 28.6h0M15.4 30.8h0M4.9 30.2h0M4.4 31.4h0M7.3 21.4h0M32.9 6.3h0M14.9 22.1h0M10.2 20.6h0M4.5 22.2h0M23.3 10.8h0M30.6 6.2h0M20.0 27.3h0M30.0 19.0h0M6.4 16.9h0M33.0 7.8h0M31.3 20.3h0M27.3 20.1h0M24.6 15.8h0M14.8 31.8h0M36.1 11.5h0M26.0 23.0h0M26.8 18.8h0M29.1 21.3h0M17.5 15.1h0M27.6 20.9h0M28.3 17.8h0M22.5 18.6h0M18.2 25.3h0M28.3 17.1h0M30.4 14.1h0M24.8 28.5h0M21.5 16.1h0M28.5 6.5h0M17.0 16.1h0M4.6 18.4h0M25.0 25.5h0M29.8 3.4h0M16.9 15.8h0M29.2 3.4h0M24.5 24.5h0M14.5 21.5h0M18.8 24.9h0M28.9 21.7h0M19.5 15.5h0M4.9 27.0h0M26.6 26.9h0M4.1 22.5h0M27.6 14.0h0M35.0 12.1h0M23.6 6.0h0M15.2 18.5h0M22.0 29.8h0M35.6 15.1h0M13.7 18.0h0M8.5 23.7h0M13.3 26.6h0M27.3 7.0h0M8.1 26.7h0M16.0 22.6h0M4.8 31.3h0M15.4 21.9h0M11.1 13.0h0M28.6 22.9h0M18.8 23.0h0M14.2 25.1h0M6.3 26.9h0M2.6 26.4h0M3.1 27.8h0M23.0 27.1h0M23.7 23.2h0M6.7 25.4h0M33.0 17.8h0M7.8 17.2h0M5.4 20.2h0M32.1 10.0h0M19.9 15.8h0M24.4 18.0h0M5.5 27.3h0M19.1 20.6h0M3.4 20.6h0M15.1 30.5h0M27.8 17.9h0M32.0 9.4h0M26.9 13.2h0M19.2 17.4h0M5.9 25.8h0M18.8 23.5h0M9.2 22.4h0M12.0 27.9h0M6.4 18.7h0M27.1 20.6h0M5.4 31.1h0M27.1 12.8h0M28.4 7.2h0M26.2 20.4h0M12.0 19.9h0M27.7 22.6h0M20.7 23.6h0M13.6 22.8h0M30.0 14.5h0M28.2 3.1h0M7.8 21.8h0M18.0 24.2h0M5.9 26.3h0M11.1 25.1h0M26.0 27.7h0M12.8 32.2h0M5.4 19.2h0M23.9 5.8h0M11.0 18.9h0M31.3 14.0h0M31.6 21.0h0M17.0 19.4h0M23.1 26.0h0M12.4 32.3h0M7.2 17.5h0M27.2 5.4h0M13.2 31.3h0M22.7 17.8h0M18.1 15.2h0M32.9 17.5h0M25.2 5.8h0M26.7 25.3h0M29.1 7.0h0M13.8 22.4h0M26.5 17.8h0M4.7 19.9h0M9.7 29.8h0M13.9 18.3h0M27.0 21.0h0M30.2 9.5h0M17.9 18.3h0M31.5 19.6h0M22.1 29.3h0M4.4 21.9h0M18.8 21.4h0M7.5 24.4h0M25.3 10.9h0M22.2 25.1h0M15.7 20.6h0M6.1 26.7h0M25.8 21.5h0M34.6 17.9h0M32.4 14.0h0M28.9 16.7h0M29.7 14.7h0M32.0 7.4h0M30.2 19.8h0M3.5 20.4h0M20.6 23.4h0M34.6 6.8h0M11.5 18.4h0M6.2 19.8h0M11.9 17.4h0M10.5 29.5h0M4.8 21.8h0M15.1 19.7h0M18.3 20.3h0M19.4 19.3h0M27.3 23.8h0M3.4 28.1h0M31.3 20.4h0M14.5 27.6h0M20.2 16.0h0M14.1 13.0h0M11.4 18.0h0M21.6 19.0h0M28.1 23.2h0M33.3 4.2h0M31.3 12.6h0M13.2 27.5h0M15.2 19.8h0M12.0 32.3h0M9.8 20.2h0M9.6 26.7h0M34.5 6.1h0M9.9 23.8h0M16.6 15.3h0M35.0 14.0h0M15.8 26.7h0M31.9 18.2h0M24.9 18.3h0M28.3 22.6h0M24.9 20.2h0M35.1 6.5h0M18.7 21.2h0M10.2 19.0h0M33.2 18.6h0M6.0 23.9h0M24.9 4.2h0M16.7 21.5h0M28.4 5.6h0M7.3 20.1h0M12.5 29.4h0M7.2 22.5h0M24.3 21.9h0M18.8 25.4h0M23.9 27.8h0M6.0 28.3h0M35.6 15.1h0M15.4 27.3h0M31.2 6.5h0M32.4 20.0h0M29.9 5.1h0M4.0 28.3h0M21.5 22.8h0M16.2 27.4h0M27.8 16.8h0M12.2 22.4h0M15.8 18.3h0M13.9 19.1h0M9.9 18.3h0M24.1 27.1h0M11.2 25.3h0M16.6 15.0h0M35.3 7.8h0M28.9 17.8h0M25.1 17.6h0M4.3 28.8h0M30.7 16.7h0M32.9 9.5h0M28.6 9.5h0M12.5 32.0h0M27.9 13.0h0M21.0 19.6h0M20.9 21.4h0M33.7 12.9h0M24.3 20.0h0M10.4 24.7h0M27.9 16.6h0M32.5 15.7h0M35.6 8.6h0M31.9 8.9h0M13.6 30.6h0M27.5 7.4h0M12.1 28.6h0M30.2 17.9h0M10.5 14.0h0M21.1 27.9h0M15.6 28.6h0M26.5 16.9h0M23.6 20.3h0M18.6 21.2h0M25.9 17.3h0M29.2 20.1h0M33.2 13.8h0M16.6 15.6h0M3.3 21.4h0M24.7 14.6h0M15.1 25.4h0M33.8 9.8h0M13.5 17.0h0M22.5 5.6h0M24.5 26.6h0M29.6 16.4h0M28.5 15.8h0M21.9 25.6h0M20.8 16.5h0M10.8 31.8h0M15.6 27.9h0M4.0 22.5h0M34.4 9.8h0M17.5 29.9h0M33.5 7.1h0M25.6 5.3h0M29.2 5.3h0M18.2 20.1h0M15.5 23.5h0M7.3 22.3h0M14.0 31.2h0M13.4 19.1h0M24.0 23.3h0M6.4 18.3h0"/>
<path id="aU0" d="M14.7 8.3h0M13.0 10.8h0M13.5 7.8h0M14.8 7.8h0M20.9 11.7h0M21.6 7.2h0M19.6 7.0h0M7.9 12.4h0M12.7 9.3h0M17.3 9.4h0M21.8 7.7h0M12.1 12.0h0M12.6 11.9h0M13.0 11.1h0M18.7 4.0h0M15.3 7.8h0M15.2 5.6h0M15.9 9.3h0M11.2 11.4h0M17.9 9.7h0M12.6 12.9h0M16.9 8.6h0M11.1 10.3h0M15.9 7.9h0M10.0 10.7h0M14.0 6.4h0M11.5 11.8h0M16.6 8.4h0M11.7 10.4h0M21.8 10.4h0M14.9 8.7h0M10.0 11.5h0M20.7 10.2h0M18.2 6.3h0M14.9 10.9h0M21.3 7.6h0M14.7 12.2h0M19.5 9.6h0M9.3 12.4h0M12.9 10.4h0M20.5 11.5h0M15.2 11.0h0M8.4 12.8h0M19.7 5.5h0M21.5 9.8h0M16.8 5.5h0M17.0 4.6h0M15.6 6.5h0M12.6 7.9h0M14.3 10.9h0M13.7 12.2h0M21.9 8.5h0M8.7 12.1h0"/>
<path id="aU1" d="M16.7 11.3h0M10.8 10.5h0M12.2 9.0h0M18.5 11.4h0M17.6 11.7h0M16.3 9.0h0M19.9 7.3h0M20.9 6.1h0M18.9 10.0h0M10.4 12.9h0M21.8 8.8h0M16.1 10.9h0M18.6 10.3h0M21.9 5.6h0M8.7 12.7h0M8.0 11.7h0M12.7 9.2h0M14.5 9.0h0M11.0 11.5h0M18.8 10.9h0M19.1 9.5h0M13.1 7.3h0M14.1 10.0h0M14.1 10.3h0M17.9 11.3h0M19.5 5.6h0M18.6 9.1h0M15.3 9.7h0M16.3 5.2h0M18.6 6.8h0M18.7 10.6h0M16.3 12.0h0M20.4 8.7h0M20.9 6.4h0M16.2 6.4h0M11.9 9.6h0M20.2 11.1h0M16.2 11.5h0M16.3 12.6h0M21.8 10.1h0M13.4 11.8h0M10.2 11.9h0M14.6 12.8h0M18.0 8.7h0M17.3 8.1h0M18.5 8.0h0M17.5 11.4h0M13.1 9.2h0M12.3 10.4h0M21.6 6.9h0M21.7 4.6h0M16.5 4.6h0M19.1 9.4h0M16.8 9.6h0M9.8 11.1h0M15.7 8.5h0"/>
<path id="aU2" d="M10.1 11.9h0M10.3 11.1h0M10.1 12.2h0M9.6 11.5h0M18.4 9.0h0M20.4 4.1h0M20.9 11.7h0M14.5 11.2h0M21.2 10.9h0M19.7 5.9h0M15.2 9.4h0M8.7 11.3h0M18.0 11.1h0M16.5 5.6h0M10.8 9.5h0M12.8 9.2h0M16.1 8.9h0M12.4 11.7h0M14.4 10.2h0M18.4 8.8h0M21.9 10.3h0M21.7 7.5h0M13.4 9.2h0M18.7 11.2h0M11.2 8.8h0M19.1 8.8h0M21.0 7.5h0M16.1 5.6h0M19.2 7.4h0M11.7 11.0h0M11.1 9.4h0M17.9 6.9h0M17.5 8.7h0M13.1 12.7h0M18.6 6.8h0M19.2 11.1h0M21.4 5.6h0M21.7 7.0h0M20.5 9.4h0M15.5 5.9h0M21.8 5.1h0M16.7 8.7h0M13.3 8.8h0M19.2 5.1h0M19.8 7.1h0M20.8 4.1h0M20.9 9.4h0M19.4 4.8h0M15.8 12.3h0M13.5 7.1h0M10.9 12.9h0M10.4 10.9h0M21.8 6.8h0M17.5 11.4h0M19.5 6.1h0M14.7 11.0h0M21.4 8.3h0M20.5 11.4h0"/>
<path id="aU3" d="M15.6 8.6h0M13.3 9.7h0M9.8 10.0h0M19.6 4.8h0M19.9 8.2h0M9.8 10.7h0M13.6 9.8h0M10.2 11.2h0M17.7 7.4h0M14.0 12.2h0M15.3 8.4h0M10.4 10.5h0M13.2 8.7h0M9.9 11.6h0M20.2 4.2h0M19.6 8.6h0M20.1 5.7h0M20.1 7.8h0M17.9 5.1h0M11.2 11.1h0M12.4 10.8h0M10.9 10.0h0M7.9 12.4h0M18.6 8.5h0M9.2 12.7h0M18.6 6.3h0M18.2 4.4h0M17.5 11.3h0M15.4 11.1h0M16.1 10.7h0M19.7 4.1h0M15.4 8.1h0M14.7 9.7h0M8.6 11.2h0M17.0 10.1h0M15.9 11.3h0M8.8 12.0h0M14.4 11.2h0M13.0 11.4h0M17.1 6.3h0M9.0 12.9h0M19.0 4.8h0M21.7 10.5h0M16.4 5.4h0M15.9 10.4h0M18.9 4.2h0M12.9 10.9h0M15.4 10.0h0M21.0 10.2h0M11.2 9.2h0M20.0 10.4h0M12.1 9.9h0M15.7 8.8h0M20.4 10.4h0M17.8 8.2h0M12.8 8.6h0M16.0 8.7h0M15.6 7.7h0M21.5 9.6h0M21.1 11.5h0M15.4 11.1h0M19.7 7.6h0M15.8 7.8h0M19.9 5.1h0M21.4 8.1h0M17.5 10.5h0M14.2 8.2h0M21.5 11.3h0M21.3 9.8h0M10.6 9.6h0M14.7 10.9h0M12.7 10.2h0M21.4 11.6h0M11.2 8.5h0M18.0 6.0h0M15.7 6.8h0M19.1 10.7h0"/>
<path id="aL0" d="M13.7 37.9h0M14.9 45.0h0M20.6 36.0h0M20.9 38.8h0M11.0 41.7h0M21.5 43.9h0M18.2 36.5h0M16.1 35.5h0M19.7 39.0h0M10.5 46.3h0M6.5 40.4h0M13.3 39.4h0M24.5 36.8h0M9.2 38.2h0M22.3 34.6h0M18.3 42.4h0M18.1 40.2h0M5.6 36.4h0M13.8 35.8h0M8.5 42.1h0M7.5 35.0h0M15.4 41.2h0M14.4 35.3h0M21.1 43.5h0M18.7 37.2h0M13.9 39.9h0M20.3 40.4h0M20.3 35.2h0M24.3 40.4h0M19.1 45.2h0M25.1 38.1h0M16.3 43.3h0M4.3 34.8h0M15.1 40.0h0M6.2 35.3h0M22.1 40.1h0M7.3 40.5h0M19.3 45.7h0M23.3 43.4h0M8.8 43.5h0M22.5 38.4h0M15.8 46.5h0M18.8 34.9h0M5.0 35.7h0M6.0 37.4h0M7.4 34.1h0M16.6 40.0h0M12.3 38.9h0M16.8 35.9h0M22.9 41.6h0M12.2 40.0h0M18.9 37.5h0M22.7 33.3h0M24.5 37.3h0M6.0 35.8h0M22.3 34.0h0M18.8 43.3h0M11.1 35.9h0M22.5 44.5h0M23.9 39.8h0M8.9 36.2h0M9.6 34.6h0M9.4 36.5h0M24.0 40.0h0M10.5 41.3h0M19.8 38.8h0M7.9 40.4h0M16.7 38.4h0M12.0 45.4h0M20.6 39.7h0M10.8 40.0h0M10.6 44.7h0M13.5 46.1h0M21.4 43.4h0M10.2 42.1h0M13.3 35.3h0M23.1 33.1h0M24.4 41.1h0M14.4 37.7h0M20.3 36.8h0M15.0 37.1h0M16.9 35.2h0M15.7 44.9h0M14.9 35.5h0M10.0 39.2h0M17.1 34.7h0M19.3 37.8h0M16.3 39.0h0M24.4 35.5h0M15.8 46.0h0M8.0 42.5h0M20.9 39.6h0M23.8 37.6h0M8.1 43.5h0M18.4 45.7h0M13.8 45.5h0M17.4 35.3h0M6.0 34.3h0M9.8 39.5h0M19.3 44.7h0M12.7 38.7h0M10.7 41.3h0M9.2 41.5h0M7.6 38.0h0M20.9 35.2h0M19.2 36.5h0M13.7 39.4h0M16.1 34.1h0M10.4 40.6h0M21.9 43.3h0M7.4 37.2h0M11.5 39.5h0M10.5 45.4h0M13.1 46.3h0M17.3 46.3h0M19.8 38.8h0M10.0 43.5h0M7.7 38.3h0M9.2 35.6h0M8.9 44.2h0M8.1 43.3h0M22.1 41.9h0M8.2 36.4h0M23.7 33.8h0M21.0 35.1h0M11.9 41.6h0M8.2 44.0h0M23.4 42.7h0M14.5 42.2h0M9.9 36.6h0M19.0 46.0h0M23.3 35.0h0M19.5 34.3h0M9.0 38.8h0M12.1 42.5h0M13.1 39.7h0M15.5 43.2h0M18.9 39.8h0M15.2 42.5h0M13.5 46.1h0M5.0 34.3h0M15.7 36.5h0M9.6 44.6h0M16.8 40.6h0M18.7 39.9h0M18.9 46.0h0M22.0 37.1h0M18.6 43.8h0M21.0 43.6h0M25.2 36.3h0M19.5 33.7h0M20.5 45.7h0M19.5 39.5h0M10.2 38.1h0"/>
<path id="aL1" d="M23.3 41.3h0M17.0 44.6h0M15.4 35.7h0M12.7 35.6h0M21.3 33.6h0M24.5 37.5h0M21.5 35.4h0M6.3 39.6h0M12.5 35.1h0M9.1 37.1h0M21.2 34.3h0M17.4 45.5h0M11.8 36.6h0M12.8 43.6h0M16.6 35.1h0M17.0 37.0h0M6.0 41.0h0M18.2 44.0h0M20.9 40.6h0M20.9 36.3h0M23.3 36.8h0M17.5 35.6h0M18.9 44.6h0M10.9 43.0h0M14.5 46.0h0M18.2 38.8h0M17.5 45.4h0M22.9 33.6h0M11.7 42.4h0M19.9 44.0h0M12.0 37.7h0M10.4 44.7h0M12.1 35.2h0M16.4 42.2h0M13.4 35.0h0M12.0 43.0h0M19.5 44.6h0M13.6 42.2h0M13.2 38.2h0M22.8 33.5h0M21.8 41.3h0M16.1 34.1h0M16.6 40.6h0M21.3 44.2h0M18.4 41.4h0M12.8 35.1h0M21.0 37.0h0M8.5 36.0h0M16.5 34.4h0M18.7 36.3h0M21.7 35.5h0M9.6 40.9h0M18.2 35.7h0M21.3 38.8h0M6.4 34.3h0M12.4 41.5h0M12.7 36.4h0M19.6 36.5h0M14.3 45.2h0M23.5 40.8h0M19.1 36.5h0M5.6 34.2h0M23.3 41.1h0M17.0 45.2h0M22.8 38.4h0M13.4 37.7h0M14.4 45.1h0M14.1 38.9h0M8.5 42.6h0M15.0 39.4h0M5.9 36.3h0M8.5 42.1h0M13.0 41.2h0M24.7 37.3h0M9.5 44.5h0M7.7 39.4h0M17.4 47.0h0M8.8 43.4h0M23.2 41.3h0M25.0 33.7h0M13.9 39.1h0M11.0 40.1h0M12.6 44.9h0M16.8 34.7h0M7.2 35.4h0M10.1 45.2h0M19.0 41.3h0M13.1 36.2h0M9.5 34.2h0M11.9 38.4h0M19.7 39.3h0M13.5 39.6h0M8.8 35.4h0M17.7 39.5h0M13.7 37.2h0M7.8 33.5h0M22.5 36.4h0M20.8 34.1h0M17.5 46.4h0M19.9 33.5h0M20.2 44.1h0M8.1 42.4h0M14.8 34.6h0M22.1 41.3h0M9.2 37.4h0M13.1 41.8h0M10.1 34.7h0M18.7 44.5h0M11.1 42.1h0M16.9 39.0h0M20.9 42.8h0M15.0 39.5h0M21.0 42.3h0M16.1 46.2h0M11.4 40.7h0M15.2 47.2h0M18.0 40.3h0M21.3 38.0h0M18.5 37.2h0M18.7 43.6h0M5.7 37.1h0M21.2 42.9h0M16.4 35.5h0M19.6 34.9h0M11.5 37.2h0M13.2 39.7h0M5.3 38.2h0M18.3 33.9h0M20.0 43.6h0M6.4 38.5h0M9.5 37.9h0M18.1 33.9h0M12.7 43.5h0M6.4 37.7h0M19.9 38.1h0M20.3 39.9h0M10.5 46.6h0M14.4 39.9h0M14.5 39.4h0M16.3 40.3h0M10.4 46.0h0M14.4 39.0h0M11.8 40.0h0M9.0 35.4h0M9.4 42.5h0M12.4 42.8h0M11.8 42.8h0"/>
<path id="aL2" d="M20.9 41.9h0M9.0 44.4h0M16.7 41.1h0M17.8 38.6h0M21.2 39.3h0M5.6 35.8h0M7.5 35.0h0M15.7 45.2h0M10.1 43.1h0M9.9 44.0h0M20.4 45.5h0M19.1 37.5h0M13.3 35.1h0M7.1 33.7h0M22.0 39.5h0M11.1 47.0h0M10.8 43.1h0M12.4 41.2h0M15.6 38.1h0M12.2 36.7h0M20.0 33.0h0M20.0 35.1h0M16.4 42.7h0M18.1 45.6h0M13.5 44.2h0M13.6 38.8h0M18.1 34.9h0M15.3 39.5h0M22.9 40.6h0M10.1 42.6h0M15.4 41.4h0M8.1 38.4h0M7.6 38.2h0M10.8 44.0h0M11.1 35.8h0M6.7 35.1h0M16.6 40.5h0M9.0 35.6h0M22.9 36.0h0M9.4 34.9h0M14.0 42.6h0M24.0 37.7h0M15.8 46.0h0M15.2 44.0h0M16.4 46.9h0M17.5 35.4h0M10.5 38.9h0M6.2 36.5h0M9.3 39.1h0M15.3 46.8h0M12.3 45.3h0M19.3 41.5h0M13.6 36.8h0M6.9 43.2h0M17.8 46.5h0M15.5 35.8h0M10.7 43.1h0M20.5 43.1h0M17.2 46.6h0M19.8 46.3h0M25.1 36.7h0M19.5 43.2h0M8.0 41.7h0M7.6 36.3h0M9.2 39.2h0M11.6 39.3h0M10.1 38.4h0M8.6 34.5h0M25.1 37.0h0M23.3 42.8h0M9.2 34.3h0M10.1 41.7h0M15.7 42.6h0M24.3 34.4h0M9.0 39.5h0M11.8 36.5h0M19.7 41.7h0M16.4 44.7h0M13.5 46.5h0M18.7 46.8h0M16.9 42.3h0M18.5 38.0h0M17.4 37.2h0M10.9 45.6h0M17.7 35.3h0M9.0 37.0h0M23.1 39.4h0M21.5 42.1h0M17.9 37.8h0M6.7 34.3h0M11.9 35.8h0M6.9 38.6h0M9.6 41.8h0M22.5 43.6h0M8.0 35.9h0M24.7 36.9h0M20.5 37.6h0M22.3 37.4h0M22.1 35.6h0M17.9 33.7h0M23.6 39.1h0M23.3 37.8h0M17.5 40.4h0M11.1 41.9h0M7.1 41.5h0M22.3 36.3h0M11.5 42.3h0M14.2 44.4h0M16.0 37.7h0M17.5 42.0h0M20.1 34.0h0M20.9 37.7h0M12.6 39.9h0M23.4 42.7h0M19.9 40.0h0M11.5 43.6h0M20.4 35.2h0M9.5 39.3h0M7.1 42.4h0M6.0 33.9h0M22.0 43.8h0M9.3 40.0h0M20.5 41.2h0M21.5 33.2h0M22.3 35.3h0M12.3 37.7h0M16.6 36.8h0M19.0 41.5h0M11.5 44.7h0M25.3 37.9h0M18.3 42.3h0M22.7 36.9h0M24.3 38.8h0M20.7 43.0h0M19.3 43.1h0M12.1 38.4h0M19.8 34.8h0M12.4 41.3h0M8.9 41.9h0M20.1 37.4h0M11.9 41.5h0M17.8 34.9h0M18.5 36.0h0M7.5 40.0h0M12.9 47.1h0M8.7 40.5h0M18.9 40.0h0M22.1 38.4h0M14.9 39.1h0M4.8 35.5h0M11.3 39.2h0M14.7 35.3h0M13.3 43.6h0M7.0 40.4h0M10.6 41.1h0M9.9 41.8h0M15.7 34.2h0M13.9 36.1h0M13.3 43.6h0M14.3 37.8h0M9.8 34.4h0M5.9 39.9h0M13.1 36.9h0M19.8 42.8h0M15.2 39.5h0M22.0 42.6h0M9.3 38.7h0M13.2 44.9h0"/>
<path id="aL3" d="M11.1 44.6h0M10.1 36.2h0M16.4 38.8h0M11.3 44.1h0M16.7 45.2h0M13.7 39.7h0M15.8 38.0h0M13.8 43.5h0M8.0 37.7h0M8.4 37.6h0M15.3 44.0h0M22.9 44.3h0M22.3 39.5h0M14.9 34.9h0M14.6 40.7h0M18.4 43.4h0M23.9 37.8h0M20.8 35.1h0M16.4 39.2h0M20.6 34.0h0M16.6 36.1h0M20.5 36.4h0M24.3 41.7h0M15.9 36.2h0M14.3 39.0h0M22.6 42.1h0M22.2 33.3h0M17.0 36.0h0M16.2 41.5h0M7.2 38.7h0M15.6 38.8h0M12.9 45.1h0M9.9 34.0h0M11.2 34.5h0M23.4 39.8h0M13.7 40.6h0M14.8 45.0h0M9.7 35.8h0M19.5 43.5h0M8.9 36.4h0M22.3 34.1h0M6.8 34.4h0M13.5 37.2h0M6.7 39.6h0M9.4 37.0h0M24.1 33.6h0M12.2 35.5h0M13.0 35.8h0M23.9 33.3h0M6.9 36.6h0M23.4 39.6h0M13.9 40.3h0M14.6 41.1h0M23.1 36.4h0M25.1 39.0h0M7.8 35.9h0M10.9 37.4h0M12.9 46.6h0M14.4 43.9h0M23.0 39.8h0M15.8 37.8h0M18.8 39.1h0M10.0 41.7h0M17.0 44.6h0M14.4 46.6h0M22.1 44.4h0M13.0 45.9h0M13.5 37.8h0M19.9 45.7h0M19.2 34.2h0M17.6 46.5h0M10.0 40.5h0M13.0 46.2h0M11.1 38.3h0M16.7 33.9h0M19.0 34.2h0M11.6 34.6h0M21.6 40.9h0M17.5 38.5h0M22.8 44.2h0M18.6 45.7h0M13.7 34.8h0M14.7 35.2h0M19.7 44.7h0M6.0 38.6h0M19.4 45.6h0M19.9 43.1h0M13.5 40.6h0M13.5 44.4h0M19.7 36.6h0M8.4 40.6h0M10.6 36.7h0M17.8 37.2h0M16.6 46.7h0M18.7 41.0h0M22.3 39.5h0M24.6 37.1h0M6.7 42.2h0M18.9 42.4h0M10.4 37.3h0M14.7 37.6h0M18.4 44.0h0M6.9 36.7h0M14.3 44.5h0M7.2 41.0h0M13.0 44.4h0M9.8 44.6h0M15.1 47.0h0M12.9 43.6h0M16.4 38.1h0M17.3 45.2h0M16.4 43.7h0M16.7 44.6h0M12.9 43.1h0M24.1 38.1h0M5.9 40.2h0M10.9 46.3h0M19.2 46.0h0M11.8 38.9h0M21.1 38.2h0M8.2 36.8h0M19.9 42.5h0M23.8 42.2h0M18.9 34.1h0M15.5 44.7h0M11.9 37.6h0M17.3 40.6h0M11.9 43.6h0M11.8 40.7h0M18.1 40.3h0M23.1 35.4h0M16.7 43.0h0M6.6 42.4h0M19.0 45.0h0M15.5 36.5h0M15.8 37.5h0M9.2 37.9h0M12.7 42.2h0M5.0 35.6h0M9.2 38.0h0M19.6 46.2h0M19.0 33.0h0M14.9 44.6h0M6.6 39.6h0M23.1 39.8h0M22.8 38.7h0M14.7 43.1h0M11.6 42.7h0M10.8 35.2h0M16.0 43.8h0M6.0 36.1h0M16.6 37.8h0M17.3 43.0h0M20.8 40.2h0M13.4 44.4h0M16.4 44.0h0M11.5 38.3h0"/>
<path id="aW0" d="M17.3 32.6h0M23.9 13.5h0M34.9 11.6h0M18.1 31.9h0M12.9 14.7h0M11.5 33.8h0M30.6 11.1h0M14.5 33.2h0M34.1 10.4h0M26.0 11.8h0M13.4 14.4h0M25.7 13.4h0M15.1 13.6h0M17.7 13.7h0M6.4 14.9h0M23.1 32.0h0M32.5 10.8h0M35.7 10.6h0M22.5 13.6h0M10.0 15.5h0M15.7 14.6h0M14.5 32.9h0M7.3 14.9h0M5.4 32.4h0M34.7 10.2h0M11.3 15.2h0M5.4 15.6h0M20.7 13.5h0M9.5 33.3h0M9.3 14.5h0M33.5 10.7h0M19.1 30.9h0M4.0 33.9h0M18.5 13.2h0M13.9 15.0h0M23.6 14.5h0M28.0 11.6h0M4.8 32.7h0M5.7 33.2h0M36.3 10.7h0M10.9 32.8h0M16.0 33.7h0M20.9 32.2h0M8.2 14.9h0M10.4 15.8h0M7.2 33.4h0M10.9 15.8h0M13.0 33.4h0M25.4 11.6h0M13.3 15.9h0M16.8 32.0h0M4.2 33.4h0M28.2 10.2h0M21.5 13.9h0M20.0 12.9h0M16.5 12.8h0M17.4 12.2h0M34.9 10.7h0M27.4 11.4h0M18.6 13.6h0M8.6 31.9h0M23.5 32.7h0M35.6 10.3h0M18.4 12.0h0M31.4 11.2h0M18.8 13.5h0M34.7 10.7h0M28.3 10.9h0M7.8 15.2h0M21.1 13.7h0M6.6 33.3h0M18.1 13.6h0"/>
<path id="aW1" d="M24.2 13.6h0M35.9 9.9h0M14.4 33.6h0M19.1 32.3h0M6.4 16.2h0M6.4 15.9h0M19.3 31.3h0M16.7 32.9h0M12.3 14.8h0M7.2 33.2h0M5.1 33.7h0M16.7 13.4h0M13.3 34.6h0M15.1 14.3h0M6.4 32.9h0M4.2 33.2h0M19.4 31.7h0M13.6 33.1h0M23.7 31.9h0M23.8 13.3h0M18.5 11.9h0M19.8 11.9h0M22.9 14.5h0M19.6 12.6h0M8.9 14.6h0M34.5 10.1h0M24.3 32.7h0M12.6 16.0h0M24.2 13.2h0M6.9 33.3h0M16.7 13.5h0M34.7 12.2h0M9.3 32.3h0M6.1 32.8h0M12.5 14.6h0M7.8 14.2h0M34.4 11.4h0M21.8 13.2h0M10.1 14.7h0M18.6 32.0h0M14.7 15.3h0M4.1 32.7h0M34.9 10.1h0M28.6 10.3h0M20.5 12.4h0M28.5 10.7h0M26.3 12.0h0M18.1 31.1h0M23.4 13.1h0M34.3 10.4h0M11.0 14.4h0M4.2 32.8h0M12.1 32.8h0M24.4 12.5h0M18.2 12.3h0M13.8 15.8h0M5.8 16.3h0M11.8 15.4h0M25.4 13.4h0M33.3 11.0h0M12.3 33.7h0M24.0 32.7h0M26.9 11.3h0M19.6 31.3h0M22.9 32.6h0M35.5 11.1h0M21.6 31.0h0M18.0 13.1h0M21.6 31.6h0M17.0 12.3h0M20.7 13.9h0M16.7 14.0h0M32.0 10.6h0M7.1 33.1h0M33.8 12.2h0M19.9 31.0h0M24.4 13.9h0M11.1 33.7h0M23.4 31.6h0M24.1 12.4h0M18.3 32.1h0M16.3 33.5h0M21.2 14.2h0M9.6 33.2h0"/>
<path id="aW2" d="M12.2 34.2h0M36.3 9.8h0M30.4 9.8h0M33.1 11.4h0M17.9 32.3h0M19.6 32.0h0M17.1 12.7h0M21.4 31.8h0M17.3 12.4h0M6.3 15.2h0M25.8 11.3h0M17.8 33.1h0M12.8 16.0h0M14.3 34.0h0M21.6 31.8h0M18.7 11.8h0M5.8 16.3h0M24.4 31.5h0M28.1 11.1h0M4.7 34.0h0M17.8 12.5h0M22.7 31.0h0M9.1 15.7h0M19.0 13.1h0M15.6 15.0h0M32.9 11.4h0M14.9 15.2h0M16.6 14.3h0M15.8 13.3h0M12.7 32.7h0M12.6 14.9h0M5.7 33.0h0M19.4 13.6h0M34.4 12.0h0M13.2 16.3h0M8.8 13.8h0M24.4 31.8h0M31.7 10.1h0M6.1 32.8h0M30.5 11.8h0M4.5 33.2h0M19.5 32.4h0M8.7 33.6h0M24.9 32.1h0M13.8 32.8h0M7.0 15.3h0M17.6 32.2h0M18.4 12.7h0M19.1 30.9h0M14.4 14.8h0M14.5 33.4h0M26.4 12.5h0M7.4 14.2h0M16.5 14.3h0M11.5 15.3h0M21.4 13.6h0M11.3 15.6h0M5.6 33.3h0M10.8 33.3h0M14.8 32.7h0M11.5 33.8h0M13.6 33.8h0M19.1 31.3h0M16.6 33.4h0M18.1 12.1h0M21.6 31.2h0M16.1 33.2h0M9.4 15.6h0"/>
<path id="aW3" d="M30.9 11.9h0M18.8 31.3h0M31.5 11.0h0M27.9 11.7h0M11.8 15.1h0M19.7 32.4h0M12.1 14.7h0M23.4 12.9h0M19.2 13.5h0M8.8 32.6h0M13.9 32.7h0M13.2 15.9h0M22.2 30.9h0M18.8 13.7h0M5.0 16.4h0M34.8 10.7h0M21.3 14.0h0M19.9 32.2h0M7.9 15.2h0M20.6 31.3h0M25.3 12.9h0M20.5 31.5h0M13.3 15.5h0M10.7 14.2h0M14.6 33.8h0M11.6 14.8h0M14.6 14.1h0M12.0 33.7h0M6.6 32.3h0M26.1 12.4h0M7.8 32.7h0M11.9 34.2h0M8.2 32.2h0M13.8 14.5h0M23.6 12.9h0M16.8 13.3h0M16.1 32.1h0M11.0 32.9h0M15.5 13.4h0M23.4 13.8h0M6.0 31.8h0M19.0 13.8h0M19.9 31.0h0M19.3 13.0h0M18.5 13.5h0M14.0 34.5h0M27.5 11.4h0M23.8 13.8h0M8.3 16.0h0M8.0 15.0h0M12.9 15.8h0M22.2 13.0h0M21.4 32.5h0M33.5 11.6h0M6.2 14.6h0M31.4 10.8h0M11.1 33.1h0M6.0 32.7h0M16.6 14.2h0M7.9 15.9h0M9.6 13.9h0M19.4 12.7h0M23.2 32.4h0M11.7 33.7h0M19.1 12.0h0M22.6 13.5h0M5.5 33.5h0M25.8 13.0h0M9.4 14.8h0M20.9 31.5h0M9.0 15.2h0M7.6 32.0h0M25.2 12.4h0M11.8 14.6h0M8.1 15.5h0M5.8 32.5h0"/>
<path id="aS0" d="M45.2 30.1h0M44.4 29.0h0M46.9 28.9h0M48.1 27.9h0M46.8 15.9h0M47.3 27.7h0M46.0 23.7h0M46.3 23.1h0M44.6 17.6h0M46.6 22.3h0M43.9 18.6h0M43.7 16.9h0M43.8 24.3h0M46.9 15.6h0M49.3 20.2h0M43.5 19.1h0M48.6 16.6h0M43.1 23.1h0M48.4 29.3h0M41.9 17.9h0M48.4 16.8h0M44.0 17.5h0M45.9 20.0h0M45.4 26.3h0M47.1 16.2h0M43.3 16.1h0M46.7 27.6h0M44.8 18.7h0M44.2 20.1h0M45.4 15.5h0M43.5 17.0h0M44.1 15.2h0M46.7 28.9h0M48.8 21.2h0M46.2 22.7h0M45.6 15.1h0M48.3 24.3h0M48.1 25.0h0M47.5 19.6h0M48.3 28.8h0M48.0 20.4h0M48.1 22.7h0M43.6 20.2h0M43.6 23.3h0M45.9 24.5h0M43.0 20.5h0M48.4 25.1h0M45.8 29.8h0M46.0 20.0h0M47.1 28.8h0M43.7 23.6h0M46.0 16.8h0M43.9 20.7h0M46.1 25.4h0M47.2 24.8h0M42.1 16.7h0M43.9 23.5h0M47.3 17.6h0M48.4 17.8h0"/>
<path id="aS1" d="M49.0 22.8h0M46.2 20.4h0M47.8 15.5h0M45.6 30.8h0M48.4 21.5h0M42.6 14.9h0M43.3 23.5h0M48.5 16.8h0M45.4 14.9h0M48.8 20.9h0M47.9 26.9h0M48.0 15.8h0M45.4 30.8h0M45.0 30.2h0M43.5 20.0h0M45.3 29.9h0M41.9 18.6h0M44.8 23.0h0M46.0 28.1h0M44.5 18.7h0M45.9 25.0h0M47.1 17.1h0M45.3 28.9h0M44.3 19.3h0M45.8 26.8h0M43.9 23.0h0M45.7 17.2h0M47.8 15.4h0M43.6 17.5h0M42.7 23.2h0M47.2 27.3h0M48.6 19.1h0M48.6 22.9h0M47.6 25.3h0M47.3 21.6h0M46.4 19.7h0M47.1 21.4h0M46.2 20.8h0M44.5 23.9h0M47.6 22.8h0M44.4 21.9h0M47.7 30.1h0M48.4 18.2h0M43.7 27.1h0M49.3 20.4h0M44.2 22.8h0M45.7 27.9h0M44.6 16.7h0M43.3 16.7h0M44.9 25.1h0M48.0 16.5h0M43.8 21.5h0M46.2 27.6h0M45.4 24.2h0M46.7 22.4h0M46.1 27.4h0M46.9 22.3h0M45.7 25.8h0M45.3 14.6h0M48.0 19.6h0M47.8 26.6h0M47.6 20.0h0M46.3 28.0h0M45.2 28.4h0M48.0 30.1h0M44.7 27.3h0M44.5 21.6h0M44.4 18.4h0M44.4 23.3h0M48.5 17.5h0M43.1 23.3h0M46.4 25.5h0M43.3 23.0h0M48.7 16.8h0M47.6 28.4h0"/>
<path id="aS2" d="M42.6 14.9h0M46.7 18.8h0M44.7 27.4h0M45.1 30.0h0M44.1 20.7h0M42.5 20.7h0M44.1 15.3h0M44.7 18.7h0M46.6 18.7h0M43.9 27.8h0M42.8 22.2h0M45.1 28.9h0M48.7 16.1h0M48.2 22.3h0M46.2 15.2h0M42.6 19.3h0M48.8 23.7h0M46.9 23.7h0M44.9 26.8h0M48.5 26.0h0M46.9 24.5h0M49.1 16.4h0M43.3 23.5h0M45.6 14.8h0M47.8 31.0h0M47.0 26.8h0M45.5 26.3h0M46.9 24.8h0M44.3 23.3h0M47.8 17.9h0M47.0 20.8h0M43.6 20.7h0M48.1 17.7h0M49.1 20.1h0M46.0 14.9h0M43.5 18.5h0M46.0 25.3h0M48.4 17.7h0M48.9 16.6h0M47.7 28.2h0M46.9 24.5h0M44.4 28.1h0M46.4 25.0h0M46.5 30.2h0M44.6 20.5h0M44.1 26.5h0M41.9 19.6h0M47.0 19.2h0M48.2 22.5h0M46.1 20.2h0M45.7 20.1h0M47.9 27.9h0M45.2 15.6h0M49.2 23.7h0M43.5 21.8h0M44.2 26.2h0M47.6 29.0h0M46.3 28.5h0M44.8 21.3h0M45.0 29.1h0M47.7 20.0h0M44.4 26.3h0M44.9 27.9h0M45.1 28.4h0M43.3 19.6h0M45.0 15.3h0M47.8 23.2h0M44.4 29.2h0M44.6 27.1h0M45.1 17.2h0M46.1 17.5h0M48.2 25.8h0M46.4 29.7h0M47.2 29.1h0M48.4 25.9h0M46.8 25.8h0M45.2 20.5h0M44.6 20.0h0"/>
<path id="aS3" d="M48.5 17.2h0M45.4 17.1h0M48.0 27.0h0M48.8 21.0h0M48.5 20.1h0M42.5 18.9h0M46.1 25.3h0M44.4 17.4h0M49.4 17.8h0M47.9 19.3h0M49.2 24.2h0M46.8 28.5h0M43.2 14.9h0M44.7 30.4h0M45.4 18.2h0M46.6 17.7h0M46.0 29.8h0M42.5 16.6h0M47.3 16.9h0M49.0 23.7h0M45.2 30.9h0M46.5 17.0h0M42.5 17.3h0M44.3 21.5h0M48.4 22.9h0M46.2 26.0h0M41.9 15.1h0M47.9 23.6h0M46.3 23.5h0M44.8 29.6h0M48.6 27.5h0M48.4 17.8h0M48.9 23.5h0M45.3 19.6h0M45.7 14.9h0M49.4 19.6h0M47.2 25.2h0M45.7 30.9h0M44.2 19.8h0M42.1 16.7h0M46.6 19.2h0M46.7 16.1h0M45.7 16.2h0M47.2 25.3h0M46.2 20.8h0M45.8 20.9h0M49.4 24.0h0M48.6 17.5h0M47.3 27.7h0M45.9 22.8h0M49.1 23.3h0M45.6 25.6h0M47.8 15.5h0M44.5 17.0h0M47.3 22.0h0M42.4 18.4h0M43.6 15.9h0M43.0 15.8h0M45.1 28.4h0M48.7 26.3h0M47.9 18.8h0M45.2 22.4h0M45.5 23.6h0"/>
<path id="aB0" d="M39.2 19.9h0M40.4 19.2h0M36.6 18.0h0M37.3 23.8h0M40.9 19.2h0M42.4 23.8h0M41.3 22.5h0"/>
<path id="aB1" d="M38.5 18.0h0M35.4 21.1h0M36.8 22.9h0M37.4 22.4h0M38.6 22.7h0M40.9 18.0h0M42.7 26.0h0M40.8 24.9h0M38.6 24.0h0M41.1 19.6h0M40.8 21.8h0M38.7 19.5h0M39.6 26.7h0M40.1 18.8h0M35.7 21.1h0M34.6 20.9h0M43.2 26.5h0M40.6 26.9h0M42.0 21.8h0M36.6 18.2h0M36.7 19.6h0M35.7 18.8h0M38.5 19.7h0M42.5 25.2h0M35.9 19.6h0"/>
<path id="aB2" d="M35.4 22.3h0M37.5 22.0h0M40.5 21.8h0M40.7 21.9h0M41.4 25.5h0M35.3 21.5h0M39.1 18.0h0M38.1 24.9h0M40.9 18.4h0M40.6 25.0h0M38.5 17.1h0M36.0 23.8h0M41.4 20.6h0M38.1 24.5h0M37.3 19.3h0M38.0 19.4h0M39.9 18.9h0M37.7 19.5h0M41.1 24.0h0M38.2 19.2h0M40.7 25.5h0"/>
<path id="aB3" d="M40.8 25.4h0M39.7 26.2h0M41.6 25.5h0M36.7 24.5h0M40.7 25.0h0M36.0 23.0h0M33.6 21.1h0M39.2 22.2h0M35.4 21.4h0M38.3 22.5h0M39.9 17.3h0M41.0 17.1h0M39.8 25.9h0M41.3 26.7h0M39.4 20.0h0M33.9 22.3h0M42.9 25.6h0M40.5 21.5h0"/>
<path id="ashM" d="M2.30,25.10 C2.35,23.43 2.32,21.77 3.10,19.70 C3.88,17.63 5.58,14.63 7.00,12.70 C8.42,10.77 9.93,9.52 11.60,8.10 C13.27,6.68 15.07,4.97 17.00,4.20 C18.93,3.43 21.02,3.75 23.20,3.50 C25.38,3.25 28.17,2.58 30.10,2.70 C32.03,2.82 33.77,3.05 34.80,4.20 C35.83,5.35 36.05,7.67 36.30,9.60 C36.55,11.53 36.82,14.00 36.30,15.80 C35.78,17.60 34.48,18.98 33.20,20.40 C31.92,21.82 30.02,22.75 28.60,24.30 C27.18,25.85 25.22,27.52 24.70,29.70 C24.18,31.88 25.62,35.08 25.50,37.40 C25.38,39.72 25.17,41.97 24.00,43.60 C22.83,45.23 20.67,46.60 18.50,47.20 C16.33,47.80 12.98,47.90 11.00,47.20 C9.02,46.50 7.67,44.87 6.60,43.00 C5.53,41.13 5.23,38.22 4.60,36.00 C3.97,33.78 3.18,31.52 2.80,29.70 C2.42,27.88 2.25,26.77 2.30,25.10 Z"/>
<path id="ashS" d="M41.70,15.00 C42.33,14.15 44.22,14.37 45.50,14.50 C46.78,14.63 48.72,14.72 49.40,15.80 C50.08,16.88 49.60,19.47 49.60,21.00 C49.60,22.53 49.68,23.30 49.40,25.00 C49.12,26.70 48.67,30.17 47.90,31.20 C47.13,32.23 45.58,32.22 44.80,31.20 C44.02,30.18 43.72,27.03 43.20,25.10 C42.68,23.17 41.95,21.28 41.70,19.60 C41.45,17.92 41.07,15.85 41.70,15.00 Z"/>
<path id="bM0" d="M3.5 24.7h0M15.2 25.0h0M6.8 23.3h0M17.7 27.3h0M8.2 22.4h0M11.8 21.6h0M14.1 19.4h0M8.2 27.3h0M12.8 25.3h0M3.2 27.0h0M11.6 24.9h0M2.7 22.6h0M14.8 26.0h0M12.6 27.6h0M10.7 22.3h0M13.8 24.1h0M8.9 23.5h0M6.3 21.5h0M29.5 16.0h0M14.4 25.6h0M13.6 20.2h0M8.3 26.4h0M13.2 26.8h0M9.9 24.2h0M4.4 23.0h0M26.3 16.2h0M10.3 24.2h0M6.0 27.7h0M4.1 27.4h0M15.0 22.2h0M17.5 18.7h0M22.9 17.9h0M33.0 14.3h0M11.8 23.6h0M12.8 26.0h0M17.3 20.5h0M6.3 26.9h0M8.8 23.4h0M5.4 21.9h0M12.6 25.1h0M9.7 20.2h0M9.5 21.6h0M13.6 24.9h0M17.9 20.4h0M23.0 16.8h0M17.2 18.8h0M11.9 22.2h0M10.1 20.8h0M8.3 23.9h0M9.4 21.3h0M12.2 19.8h0M14.3 27.1h0M6.9 25.3h0M25.9 17.4h0M8.9 25.3h0M12.0 20.3h0M17.1 23.9h0M18.0 26.8h0M2.4 25.6h0M15.4 24.9h0M10.0 21.8h0M14.5 23.2h0M16.8 27.8h0M32.2 15.3h0M29.5 16.9h0M2.8 25.8h0M16.0 26.1h0M4.6 26.0h0M2.5 26.0h0M4.0 27.8h0M3.3 22.3h0M17.4 22.3h0M2.7 24.0h0M6.0 27.3h0M15.5 20.6h0M2.9 26.0h0M27.2 17.1h0M11.4 26.6h0M9.0 21.8h0M27.0 17.1h0M12.2 20.2h0M14.7 22.1h0M17.4 22.8h0M17.9 26.5h0"/>
<path id="bM1" d="M25.1 16.3h0M12.9 22.5h0M14.7 21.3h0M10.7 20.9h0M2.1 26.9h0M5.9 27.1h0M26.6 17.8h0M14.3 21.5h0M14.3 21.8h0M30.1 16.5h0M10.3 24.1h0M15.2 27.1h0M6.0 27.5h0M5.0 22.1h0M13.5 25.7h0M14.8 19.0h0M9.8 22.1h0M7.3 22.1h0M5.2 25.1h0M17.5 21.0h0M9.2 21.2h0M17.9 25.7h0M3.7 21.9h0M16.7 24.2h0M25.0 17.4h0M8.2 23.9h0M9.4 27.7h0M14.2 21.9h0M17.6 19.2h0M7.2 23.8h0M15.7 22.8h0M13.2 21.4h0M16.3 24.4h0M27.8 17.8h0M14.6 22.1h0M9.5 20.2h0M4.5 22.1h0M10.5 26.8h0M7.9 27.1h0M7.4 25.9h0M12.2 20.0h0M9.9 27.2h0M3.3 27.6h0M13.4 22.0h0M9.2 24.7h0M8.6 24.9h0M23.0 17.5h0M5.4 26.1h0M2.1 22.4h0M17.4 22.9h0M15.9 21.2h0M14.7 27.9h0M13.9 19.3h0M5.0 25.8h0M27.5 15.8h0M8.9 27.0h0M4.9 22.1h0M10.8 26.6h0M15.3 22.6h0M29.1 15.4h0M17.4 18.9h0M25.1 17.1h0M11.5 24.6h0M15.0 19.0h0M14.2 26.4h0M15.8 24.6h0M13.5 27.7h0M3.3 25.4h0M10.6 24.5h0M14.2 22.4h0M8.9 27.7h0M25.2 18.0h0M14.9 21.8h0M25.3 17.3h0M13.5 22.7h0M26.2 17.3h0M13.4 19.6h0M16.8 18.5h0M10.2 23.9h0M9.0 23.4h0M10.8 25.4h0M30.0 17.3h0M26.4 17.1h0M13.4 21.0h0M14.2 21.7h0M17.3 19.7h0M5.3 26.5h0M14.8 23.2h0M12.2 26.7h0M13.9 22.0h0M30.3 15.7h0M14.8 20.2h0M10.1 27.0h0M32.9 14.8h0M13.9 22.3h0"/>
<path id="bM2" d="M9.3 24.1h0M5.4 27.5h0M13.6 21.9h0M6.6 27.9h0M5.7 24.4h0M16.8 27.1h0M4.4 22.1h0M16.8 21.1h0M5.1 24.5h0M15.7 23.9h0M16.0 23.7h0M15.0 21.6h0M9.1 25.0h0M8.0 20.9h0M8.0 25.3h0M22.6 17.8h0M15.4 24.0h0M4.7 25.9h0M17.5 22.2h0M16.0 20.8h0M12.2 22.7h0M3.6 25.2h0M15.3 20.5h0M5.0 22.5h0M27.7 16.9h0M17.6 18.9h0M25.5 17.3h0M28.1 16.9h0M5.0 24.3h0M17.3 18.8h0M16.7 22.7h0M2.3 26.3h0M8.4 25.4h0M23.9 17.8h0M4.0 24.8h0M25.9 17.3h0M4.6 24.2h0M6.3 22.7h0M12.3 22.0h0M5.9 23.1h0M10.9 25.0h0M14.4 25.6h0M17.9 18.1h0M29.0 17.1h0M5.7 26.3h0M32.7 14.6h0M16.1 18.6h0M30.0 15.1h0M15.4 24.0h0M9.3 20.9h0M15.6 25.7h0M17.7 26.2h0M5.9 24.9h0M9.4 23.4h0M14.8 23.7h0M12.3 25.1h0M14.8 25.6h0M27.4 16.4h0M27.9 16.6h0M11.2 27.3h0M31.0 16.3h0M13.5 27.8h0M16.8 22.6h0M9.1 23.0h0M11.6 20.4h0M8.6 25.6h0M15.5 24.0h0M13.6 19.6h0M13.9 24.9h0M5.9 25.9h0M13.0 22.5h0M10.5 26.8h0M17.6 23.0h0M31.2 15.4h0M14.8 27.9h0M8.8 24.5h0M14.8 22.0h0M17.9 23.1h0M2.6 22.3h0M10.6 27.3h0M10.7 22.7h0M11.8 22.7h0M15.4 27.5h0M14.5 26.3h0M2.2 25.0h0M8.7 21.3h0"/>
<path id="bM3" d="M7.5 21.2h0M11.9 20.1h0M3.2 24.0h0M11.5 28.0h0M7.9 26.8h0M11.3 21.5h0M10.5 23.0h0M6.8 26.3h0M4.5 22.0h0M8.3 22.9h0M9.9 21.9h0M10.3 26.7h0M10.3 25.6h0M7.1 27.3h0M9.2 27.5h0M3.6 26.2h0M5.7 23.6h0M16.4 24.8h0M12.3 24.7h0M23.7 17.7h0M17.4 24.6h0M14.9 20.2h0M11.0 21.5h0M15.6 20.8h0M15.2 24.9h0M28.5 17.0h0M6.6 23.7h0M24.1 16.9h0M23.5 16.9h0M29.9 16.6h0M10.0 20.5h0M26.8 17.8h0M2.8 23.0h0M30.1 15.5h0M17.6 23.7h0M16.4 19.0h0M10.9 24.8h0M16.9 22.1h0M12.5 21.6h0M16.0 22.8h0M10.2 20.7h0M17.0 20.3h0M12.1 23.8h0M16.0 19.8h0M4.3 23.3h0M13.2 23.7h0M5.7 23.3h0M16.1 25.0h0M14.7 22.5h0M8.0 24.7h0M16.4 19.5h0M15.9 19.6h0M4.7 22.0h0M28.8 17.5h0M17.3 18.9h0M8.3 23.0h0M5.6 26.2h0M8.6 27.5h0M15.8 25.5h0M8.7 26.8h0M10.6 21.7h0M17.8 21.5h0M31.2 15.4h0M27.1 16.5h0M4.5 26.7h0M14.1 19.3h0M14.9 26.5h0M10.9 22.6h0M3.7 23.2h0M5.9 22.4h0"/>
<path id="bU0" d="M16.0 8.3h0M17.1 13.5h0M5.3 17.9h0M21.5 7.2h0M20.5 6.7h0M2.5 19.7h0M21.0 1.1h0M19.3 12.5h0M21.6 8.8h0M4.9 16.3h0M15.7 6.0h0M29.5 1.2h0M12.1 15.0h0M5.7 20.9h0M16.7 15.1h0M22.7 2.4h0M22.1 13.1h0M33.8 11.2h0M12.3 7.9h0M28.9 11.2h0M9.5 11.8h0M17.3 14.6h0M15.0 7.9h0M13.2 18.0h0M13.6 3.8h0M21.9 16.4h0M33.3 7.8h0M15.2 14.1h0M22.1 1.1h0M3.4 19.4h0M14.4 18.1h0M28.3 13.9h0M11.6 16.0h0M27.8 1.9h0M30.3 2.0h0M4.0 18.2h0M17.9 15.5h0M29.2 6.7h0M19.1 6.1h0M3.9 12.4h0M16.5 4.5h0M18.3 17.7h0M20.2 8.0h0M19.0 2.0h0M32.6 11.2h0M25.2 5.0h0M22.3 16.0h0M28.3 12.6h0M16.9 17.7h0M10.6 5.0h0M29.0 5.0h0M9.6 10.9h0M16.2 4.2h0M5.6 17.6h0M32.6 13.3h0M4.9 12.9h0M16.4 3.6h0M25.0 5.3h0M9.6 7.3h0M27.9 1.7h0M31.2 13.1h0M30.4 5.9h0M21.9 7.7h0M4.9 19.1h0M6.7 15.5h0M16.8 3.2h0M32.1 3.7h0M12.7 15.7h0M19.9 1.5h0M10.4 9.4h0M13.1 5.0h0M11.6 5.9h0M17.9 15.6h0M22.1 12.5h0M17.6 6.0h0M5.9 17.4h0M9.9 6.5h0M11.2 11.7h0M14.1 16.3h0M13.5 19.0h0M8.0 15.3h0M19.5 2.3h0M27.0 14.8h0M5.1 17.5h0M14.4 11.8h0M30.5 2.6h0M9.4 11.2h0M25.4 15.5h0M5.3 18.4h0M12.9 8.0h0M27.5 8.1h0M33.8 3.5h0M13.0 7.8h0M25.5 0.9h0M10.3 6.7h0M4.3 19.5h0M19.7 5.3h0M14.5 3.6h0M35.3 7.4h0M17.4 5.4h0M18.3 8.9h0M34.4 10.4h0M21.5 5.7h0M9.3 19.9h0M15.7 3.9h0M15.8 18.2h0M19.4 6.1h0M12.8 16.5h0M14.5 16.0h0M32.2 7.3h0M24.5 4.2h0M9.7 19.6h0M7.6 15.0h0M18.3 5.1h0M9.5 17.7h0M6.0 16.3h0M17.9 4.2h0M33.5 10.5h0M35.4 7.2h0M14.1 8.6h0M20.5 15.4h0M33.1 10.5h0M27.4 0.8h0M15.8 4.7h0M13.3 6.3h0M10.5 11.7h0M30.2 2.7h0M25.5 1.3h0M30.5 5.8h0M9.3 9.0h0M7.1 18.8h0M9.1 10.3h0M26.3 3.5h0M9.9 7.4h0M25.3 12.9h0M16.0 3.6h0M9.1 8.1h0M15.2 11.2h0M4.8 16.5h0M7.8 17.3h0M11.3 9.6h0M30.5 7.5h0M22.8 10.0h0M7.5 17.9h0M5.1 17.7h0M26.7 4.5h0M25.9 3.1h0M4.0 19.9h0M15.8 13.2h0M16.9 8.7h0M11.9 7.0h0M26.7 1.4h0M21.8 9.6h0M3.7 18.0h0M31.1 1.3h0M7.5 17.7h0M23.2 16.7h0M7.1 17.3h0M22.9 0.7h0M20.1 12.3h0M9.4 11.3h0M25.9 14.8h0M16.7 7.8h0M25.1 8.5h0M12.2 10.7h0M18.0 9.1h0M24.7 13.5h0M29.2 1.1h0M22.0 8.0h0M28.1 7.8h0M19.5 14.4h0M24.0 1.7h0M12.0 19.1h0M34.7 5.7h0M29.9 4.0h0M4.1 12.0h0M17.6 13.3h0M15.7 3.9h0M11.2 10.8h0M23.7 12.5h0M3.6 19.5h0M13.2 8.0h0M28.1 6.5h0M26.8 5.4h0M6.2 10.3h0M24.1 14.6h0M27.0 15.2h0M5.2 17.8h0M34.0 5.7h0M7.3 17.1h0M34.1 5.9h0M20.6 8.5h0M21.2 16.2h0M24.3 6.0h0M14.9 17.4h0M26.4 7.2h0M18.8 1.4h0M21.5 9.4h0M6.7 7.6h0M22.9 16.1h0M13.1 11.9h0M17.6 2.2h0M19.9 16.6h0M6.3 8.3h0M18.7 0.9h0M29.6 5.3h0M33.9 5.6h0M30.7 1.9h0M18.6 14.9h0M33.9 7.8h0M25.8 13.9h0M10.7 9.5h0M11.3 16.3h0M12.5 10.0h0M7.4 16.9h0M11.2 15.9h0M27.1 3.4h0M5.1 12.7h0M31.0 5.2h0M32.0 10.5h0M10.0 10.1h0M30.1 4.3h0M14.0 16.6h0M30.1 14.0h0M13.0 4.9h0M9.4 19.2h0M4.5 11.2h0M4.9 17.7h0M25.3 6.0h0M13.8 4.0h0M22.3 15.9h0M27.2 2.1h0M33.1 3.9h0M19.5 1.6h0M5.8 12.1h0M6.0 11.6h0"/>
<path id="bU1" d="M26.6 2.8h0M19.1 2.9h0M8.4 9.0h0M22.1 3.8h0M19.7 9.6h0M8.3 20.1h0M20.4 12.3h0M26.9 3.2h0M17.3 5.5h0M15.6 18.3h0M31.3 13.9h0M14.6 16.7h0M15.3 16.7h0M11.3 19.5h0M24.3 1.9h0M22.4 4.0h0M18.6 7.5h0M30.3 5.3h0M23.9 15.5h0M23.1 14.2h0M24.5 15.3h0M12.4 6.8h0M35.3 6.8h0M19.6 8.9h0M33.0 5.8h0M27.8 11.0h0M28.5 14.7h0M13.4 15.1h0M9.8 5.8h0M14.2 5.8h0M21.7 2.8h0M17.5 16.0h0M15.7 13.6h0M32.9 7.6h0M28.4 14.0h0M9.4 14.7h0M6.9 15.7h0M9.4 18.7h0M9.1 18.7h0M14.2 7.8h0M18.4 1.4h0M4.6 10.4h0M14.6 18.7h0M13.0 7.1h0M21.0 0.9h0M12.3 15.4h0M31.8 14.0h0M3.6 16.9h0M7.8 10.6h0M15.5 18.3h0M32.7 4.4h0M35.1 5.6h0M16.6 7.9h0M20.7 15.8h0M21.7 8.6h0M4.2 19.3h0M27.6 5.6h0M19.0 7.4h0M24.7 1.9h0M33.3 13.9h0M22.5 14.0h0M5.2 10.2h0M28.0 1.6h0M8.0 16.3h0M11.5 16.4h0M24.9 7.3h0M23.4 7.7h0M35.4 7.2h0M14.6 5.3h0M32.8 4.9h0M17.7 3.8h0M29.7 3.4h0M20.9 13.0h0M13.8 15.6h0M14.9 8.9h0M18.0 13.2h0M8.9 19.3h0M8.4 10.0h0M9.5 16.9h0M12.6 11.3h0M26.7 1.2h0M6.5 9.4h0M17.0 9.0h0M8.2 19.8h0M6.8 18.3h0M10.0 9.2h0M18.3 7.9h0M12.5 7.5h0M28.6 0.9h0M2.5 17.5h0M11.7 17.4h0M17.6 5.2h0M33.0 12.7h0M19.5 7.1h0M30.0 11.3h0M6.6 11.1h0M14.1 14.5h0M2.9 18.3h0M26.5 2.4h0M16.8 17.0h0M26.4 2.6h0M19.2 6.9h0M4.6 20.6h0M23.8 4.3h0M25.2 13.3h0M6.1 9.9h0M28.7 15.3h0M10.1 5.9h0M8.9 6.9h0M18.0 8.8h0M26.5 1.0h0M23.8 2.8h0M9.2 5.6h0M24.3 13.4h0M9.4 7.0h0M3.3 19.4h0M21.7 7.9h0M9.4 8.4h0M30.5 6.7h0M17.9 1.5h0M25.7 8.7h0M13.6 10.0h0M11.2 11.5h0M22.6 8.9h0M26.9 12.4h0M9.1 8.0h0M21.8 4.2h0M18.4 5.4h0M14.7 10.3h0M23.6 2.1h0M11.4 4.4h0M22.8 8.6h0M4.6 10.9h0M5.8 11.6h0M33.2 11.3h0M19.5 14.0h0M15.8 18.3h0M31.1 12.2h0M5.0 17.8h0M22.7 2.0h0M30.4 5.4h0M6.5 10.6h0M32.1 5.6h0M28.8 4.4h0M31.5 2.9h0M19.7 3.2h0M24.9 14.7h0M3.6 13.7h0M8.4 18.9h0M9.2 6.5h0M25.2 0.9h0M23.3 8.8h0M4.2 10.7h0M10.2 15.3h0M18.3 16.5h0M10.4 10.5h0M25.1 5.9h0M21.9 8.5h0M10.4 9.7h0M21.1 14.6h0M26.6 3.3h0M32.5 12.2h0M25.7 2.7h0M23.4 12.5h0M14.4 6.4h0M32.5 6.2h0M15.8 9.9h0M12.7 7.9h0M24.2 2.3h0M18.0 12.2h0M30.9 6.9h0M21.6 6.6h0M13.9 5.7h0M12.6 6.3h0M32.1 5.0h0M25.3 2.1h0M15.9 9.3h0M8.3 17.4h0M8.6 9.2h0M20.2 9.8h0M6.8 10.9h0M13.2 18.1h0M30.0 13.8h0M19.6 4.9h0M13.2 8.6h0M15.1 1.9h0M14.4 8.1h0M23.6 12.5h0M14.9 7.8h0M25.4 9.1h0M29.8 6.4h0M7.1 16.7h0M32.8 6.1h0M14.3 18.5h0M27.3 1.1h0M23.1 4.8h0M30.6 13.1h0M33.6 3.7h0M12.1 5.9h0M11.4 17.8h0M26.6 15.3h0M20.3 8.5h0M17.4 6.1h0M30.5 7.5h0M14.6 17.4h0M2.5 18.5h0M20.5 1.2h0M4.8 17.0h0M17.5 9.6h0M27.5 13.2h0M16.9 15.6h0M10.1 16.5h0M22.2 8.2h0M9.5 8.6h0M15.1 7.5h0M18.3 9.4h0M31.9 4.4h0M17.2 1.5h0M17.4 17.5h0M6.2 19.7h0M4.6 9.8h0M19.2 1.3h0M26.3 5.3h0M23.6 8.5h0M19.4 4.3h0M22.7 5.1h0M22.6 13.2h0M6.6 19.5h0M25.8 2.2h0M27.6 6.3h0M14.9 17.0h0M29.4 12.1h0M18.2 14.4h0M29.1 6.8h0M11.5 15.6h0M24.0 8.2h0M21.3 3.1h0M20.1 5.9h0M30.6 1.6h0M6.5 17.1h0M8.0 10.9h0M25.4 13.7h0M31.6 10.2h0M20.5 5.4h0M32.1 11.3h0M13.1 6.5h0M16.9 13.1h0M9.3 18.5h0M16.2 10.0h0"/>
<path id="bU2" d="M6.0 20.7h0M6.7 18.5h0M14.6 15.2h0M6.2 18.5h0M16.7 18.0h0M15.5 17.7h0M16.2 7.6h0M30.2 6.5h0M31.9 2.8h0M26.9 10.9h0M10.0 17.8h0M15.6 15.2h0M14.2 6.9h0M17.7 17.7h0M10.9 6.6h0M27.8 10.8h0M12.0 11.9h0M14.9 18.7h0M7.6 14.8h0M6.1 8.3h0M25.4 2.9h0M13.2 15.8h0M16.0 17.7h0M22.8 9.3h0M21.5 8.6h0M17.4 7.9h0M20.0 6.7h0M12.5 15.0h0M28.1 4.9h0M21.0 15.8h0M11.5 16.8h0M26.8 10.8h0M2.3 21.7h0M24.2 12.8h0M8.7 6.7h0M16.9 15.0h0M13.3 2.4h0M7.0 10.5h0M11.7 6.4h0M24.7 2.3h0M4.3 19.4h0M17.6 16.4h0M34.5 5.9h0M13.0 19.2h0M18.1 9.3h0M18.4 7.1h0M23.3 1.9h0M24.5 12.9h0M19.7 15.6h0M30.5 6.9h0M9.4 17.2h0M10.9 14.6h0M12.2 3.1h0M18.5 17.1h0M27.4 1.0h0M27.7 13.2h0M27.0 1.1h0M8.2 19.2h0M16.5 16.6h0M9.0 19.8h0M16.5 10.1h0M20.5 3.9h0M33.3 4.2h0M15.5 9.9h0M14.4 15.7h0M19.8 3.5h0M16.7 7.6h0M31.1 7.0h0M29.9 12.1h0M26.7 12.6h0M12.6 16.4h0M33.4 12.5h0M11.0 6.7h0M13.6 16.4h0M17.3 2.5h0M25.6 1.9h0M25.2 4.2h0M3.2 20.1h0M24.9 7.2h0M33.1 2.9h0M7.5 11.8h0M29.0 13.7h0M4.1 16.7h0M9.2 19.0h0M6.6 15.0h0M33.1 14.2h0M23.5 8.3h0M4.0 19.4h0M20.4 6.4h0M3.1 19.8h0M26.3 14.9h0M18.6 12.2h0M13.4 14.5h0M19.3 8.8h0M11.9 4.9h0M24.8 1.0h0M9.2 15.2h0M27.6 14.6h0M6.7 16.1h0M21.5 9.4h0M19.6 16.0h0M27.1 5.0h0M21.7 6.9h0M20.8 8.0h0M25.2 3.5h0M34.1 5.9h0M11.5 7.4h0M33.5 2.2h0M18.9 8.9h0M30.1 4.0h0M32.0 5.4h0M12.6 8.1h0M29.5 14.2h0M28.5 5.1h0M26.8 11.6h0M30.2 6.0h0M31.2 5.9h0M10.4 16.0h0M14.6 10.8h0M24.9 16.3h0M8.1 7.4h0M30.4 2.6h0M31.8 14.1h0M29.8 12.8h0M8.5 10.6h0M15.4 6.8h0M21.0 12.4h0M30.5 7.1h0M8.4 16.3h0M9.9 5.7h0M13.7 10.1h0M5.6 15.4h0M25.3 15.0h0M25.7 2.5h0M14.2 4.0h0M18.9 17.8h0M20.0 17.4h0M4.3 19.8h0M27.4 4.0h0M30.8 6.7h0M19.7 9.2h0M27.4 13.9h0M10.6 16.2h0M21.5 4.8h0M32.6 11.5h0M18.3 4.6h0M16.9 14.2h0M17.3 9.5h0M27.6 13.6h0M17.5 4.8h0M10.7 17.3h0M32.7 6.7h0M8.1 11.3h0M23.1 1.7h0M25.1 6.0h0M9.3 8.1h0M13.0 6.7h0M28.8 3.9h0M28.2 6.1h0M24.2 14.7h0M15.9 3.1h0M22.2 4.7h0M12.2 17.1h0M15.7 15.6h0M23.6 4.4h0M9.0 9.2h0M15.8 13.4h0M4.8 16.1h0M17.2 18.2h0M31.4 4.0h0M11.7 10.8h0M17.9 14.5h0M25.3 12.9h0M17.4 16.9h0M15.2 10.8h0M7.6 15.0h0M19.4 17.6h0M12.5 17.9h0M23.2 8.1h0M32.7 10.9h0M30.2 9.9h0M27.7 10.3h0M10.1 6.9h0M15.5 8.8h0M9.7 9.9h0M10.1 16.2h0M13.4 4.4h0M11.4 16.1h0M30.8 1.9h0M2.2 21.9h0M13.2 18.7h0M18.7 12.0h0M26.1 0.9h0M31.0 11.7h0M28.9 11.7h0M2.1 21.1h0M34.6 6.7h0M21.8 1.6h0M4.9 9.3h0M34.1 12.3h0M14.2 15.1h0M17.5 13.8h0M31.7 11.2h0M27.8 6.7h0M14.3 15.5h0M12.3 7.4h0M2.3 21.2h0M10.3 15.7h0M3.3 21.6h0M8.5 18.9h0M6.0 17.8h0M17.7 17.7h0M25.0 6.3h0M24.3 9.1h0M17.5 12.6h0M9.5 10.9h0M32.4 3.5h0M14.9 2.8h0M9.8 7.2h0M7.0 14.7h0M33.3 10.8h0M11.8 15.6h0M25.9 3.9h0M9.5 9.0h0M21.9 10.1h0M6.9 20.3h0M22.4 16.1h0M31.4 6.5h0M4.2 11.0h0M15.9 10.8h0M8.2 16.8h0M5.2 12.7h0M16.6 4.6h0M32.4 14.3h0M13.8 16.9h0M20.1 15.2h0M30.6 13.2h0M16.7 2.5h0M31.6 2.8h0M33.9 2.5h0M14.5 7.2h0M10.7 16.9h0M26.2 2.5h0M25.9 3.6h0M7.0 11.8h0M6.0 11.5h0M8.4 20.2h0M17.7 1.4h0M12.6 7.7h0M31.3 11.2h0M19.8 2.6h0M3.9 19.5h0M20.8 1.0h0M15.2 9.9h0M15.0 14.1h0M23.4 6.2h0M13.4 4.8h0M28.2 13.7h0M22.9 2.7h0M21.2 15.0h0M24.0 13.4h0M25.0 3.6h0M3.6 18.5h0M21.5 8.6h0M17.9 13.8h0M6.7 17.9h0M14.4 2.1h0M16.5 9.0h0M15.5 7.3h0M5.7 15.3h0M22.5 4.1h0"/>
<path id="bU3" d="M33.3 12.8h0M19.9 16.6h0M11.1 8.8h0M29.0 1.6h0M8.4 17.8h0M15.8 2.1h0M31.8 4.3h0M14.0 10.0h0M29.5 9.8h0M22.9 15.9h0M30.0 4.7h0M5.4 12.9h0M22.1 5.7h0M15.0 16.9h0M28.7 12.7h0M15.2 13.9h0M10.3 19.2h0M30.2 11.1h0M22.1 3.8h0M27.8 6.6h0M22.9 9.9h0M26.5 4.9h0M23.8 13.7h0M6.5 8.2h0M17.6 9.6h0M17.4 2.3h0M34.3 3.6h0M14.4 3.4h0M28.0 10.8h0M17.3 9.4h0M27.2 3.8h0M8.5 8.7h0M19.5 12.4h0M4.7 16.9h0M28.7 11.3h0M34.5 10.5h0M16.0 6.1h0M19.3 4.7h0M35.1 5.8h0M13.0 11.1h0M8.6 11.1h0M32.7 11.1h0M21.6 2.2h0M14.4 6.9h0M8.7 20.1h0M16.8 10.1h0M7.8 7.3h0M19.2 4.4h0M29.5 2.8h0M34.8 7.7h0M27.2 15.4h0M15.3 16.2h0M4.5 17.5h0M33.9 11.2h0M11.3 5.5h0M29.6 4.8h0M23.3 9.0h0M13.9 15.1h0M16.6 7.1h0M16.5 7.1h0M32.2 12.1h0M27.2 12.6h0M19.1 13.2h0M31.9 11.0h0M22.8 5.8h0M15.1 8.8h0M26.3 14.4h0M20.4 1.1h0M20.3 3.3h0M12.1 8.3h0M33.1 11.7h0M21.5 1.6h0M19.1 12.7h0M32.3 11.9h0M10.6 5.4h0M15.6 2.3h0M11.0 9.2h0M10.4 7.7h0M26.0 11.4h0M27.0 2.6h0M21.8 17.0h0M4.2 17.0h0M22.9 1.4h0M10.0 16.1h0M16.6 3.1h0M12.6 16.1h0M28.8 10.4h0M19.6 15.8h0M24.7 2.9h0M18.5 7.5h0M10.8 6.6h0M6.1 12.2h0M18.7 13.3h0M27.0 11.6h0M13.2 3.7h0M29.2 3.5h0M17.0 9.0h0M33.4 8.2h0M18.3 15.3h0M20.6 5.6h0M29.9 14.0h0M6.8 9.2h0M18.0 8.8h0M15.9 6.1h0M19.1 2.0h0M2.3 20.6h0M14.5 17.2h0M10.8 5.3h0M25.4 14.4h0M30.3 11.3h0M7.0 20.5h0M17.1 3.4h0M14.1 15.5h0M24.8 3.8h0M28.5 11.4h0M22.3 16.5h0M28.3 6.9h0M17.2 10.0h0M26.5 7.8h0M20.4 3.2h0M23.9 13.1h0M4.3 10.7h0M26.4 12.7h0M19.6 2.7h0M22.9 5.0h0M24.1 13.1h0M3.9 20.0h0M29.4 13.6h0M15.8 10.1h0M22.1 1.7h0M13.2 5.3h0M32.2 12.0h0M23.3 3.2h0M15.2 13.7h0M14.1 16.4h0M17.1 17.6h0M24.2 4.3h0M16.5 5.1h0M15.4 3.4h0M34.6 10.4h0M9.1 6.2h0M10.8 10.1h0M11.3 17.6h0M9.9 5.6h0M10.0 14.4h0M11.3 16.6h0M30.0 2.3h0M32.3 11.4h0M12.2 18.5h0M20.9 9.4h0M26.0 3.9h0M34.1 4.0h0M15.0 13.9h0M18.4 7.9h0M7.5 9.9h0M20.0 6.0h0M24.4 6.3h0M33.1 11.6h0M24.3 1.1h0M16.8 13.9h0M4.6 10.1h0M28.0 10.2h0M26.2 7.1h0M15.4 6.2h0M27.9 11.9h0M6.1 19.1h0M11.7 17.7h0M28.3 11.0h0M22.5 9.9h0M33.6 5.8h0M8.4 6.6h0M23.2 4.2h0M32.6 13.6h0M33.4 5.4h0M33.8 11.9h0M19.9 16.3h0M4.9 20.4h0M11.1 14.6h0M16.5 14.4h0M5.7 18.0h0M14.1 3.6h0M5.2 18.4h0M16.6 13.7h0M24.0 3.5h0M26.0 13.9h0M17.9 7.4h0M26.8 7.4h0M13.3 2.6h0M19.5 6.2h0M20.3 4.9h0M14.0 9.6h0M34.1 3.0h0M3.8 13.9h0M19.7 6.9h0M10.6 10.8h0M26.0 13.0h0M32.0 12.5h0M6.9 17.9h0M6.6 18.0h0M15.0 14.3h0M13.1 9.7h0M28.1 7.2h0M4.8 9.9h0M27.9 11.1h0M20.0 3.5h0M8.5 7.4h0M14.8 16.9h0M24.2 15.6h0M29.4 4.2h0M24.3 9.3h0M18.7 7.9h0M5.3 11.5h0M29.6 13.2h0M22.0 9.7h0M8.3 14.0h0M29.2 12.2h0M29.1 1.1h0M13.1 5.3h0M27.4 7.1h0M17.0 1.9h0M5.6 20.8h0M24.4 12.8h0M13.2 8.0h0M9.7 17.0h0M26.7 8.6h0M16.1 16.2h0M26.0 7.6h0M21.5 5.4h0M12.3 15.9h0M19.5 7.0h0M27.6 0.9h0M13.2 7.4h0M8.1 9.7h0M23.2 2.1h0M17.3 2.8h0M12.2 17.2h0"/>
<path id="bL0" d="M16.4 46.0h0M20.1 41.2h0M19.3 31.2h0M9.6 28.1h0M16.9 39.0h0M8.3 37.6h0M15.9 45.5h0M23.9 20.6h0M9.8 39.4h0M5.9 39.0h0M23.0 32.6h0M24.4 38.3h0M19.8 24.2h0M9.1 29.5h0M8.1 36.7h0M15.4 43.4h0M19.6 22.7h0M4.9 29.5h0M23.2 25.5h0M18.5 27.9h0M12.8 41.8h0M12.1 39.3h0M16.8 43.2h0M28.9 19.7h0M25.2 36.2h0M17.8 43.0h0M24.1 20.1h0M20.7 42.8h0M21.0 43.8h0M25.6 20.1h0M22.5 35.6h0M12.7 36.4h0M9.2 33.7h0M13.1 43.7h0M12.9 33.6h0M9.5 32.6h0M24.3 26.6h0M26.0 23.7h0M10.9 45.6h0M6.8 29.4h0M24.0 36.8h0M18.4 26.8h0M21.0 26.7h0M9.5 34.9h0M7.3 37.5h0M22.4 34.9h0M17.4 34.3h0M17.9 34.9h0M16.8 46.0h0M14.2 40.3h0M5.0 36.1h0M14.8 33.6h0M19.8 18.9h0M14.8 28.1h0M14.8 35.9h0M8.9 41.8h0M10.8 33.1h0M14.8 33.0h0M11.8 38.6h0M8.3 28.2h0M18.2 41.0h0M15.1 32.4h0M19.8 19.8h0M24.1 24.1h0M25.2 39.7h0M24.1 39.7h0M24.4 41.2h0M27.0 18.1h0M9.5 37.2h0M19.2 38.2h0M23.4 19.1h0M22.2 38.1h0M14.7 44.6h0M12.7 37.7h0M15.9 32.7h0M24.6 19.2h0M7.0 33.6h0M16.6 45.8h0M27.6 19.4h0M7.4 29.2h0M18.6 27.6h0M16.9 37.0h0M11.2 42.9h0M10.0 42.2h0M12.9 44.9h0M24.2 38.2h0M6.4 40.2h0M8.6 42.4h0M24.7 27.8h0M21.1 31.2h0M15.5 40.3h0M6.5 39.7h0M23.2 28.6h0M19.1 27.3h0M26.2 23.2h0M21.5 43.7h0M29.2 19.2h0M8.9 44.8h0M25.4 39.6h0M17.5 39.0h0M9.4 34.5h0M14.6 39.1h0M17.1 33.4h0M21.2 36.5h0M24.7 36.0h0M15.9 46.1h0M11.0 36.8h0M12.7 44.9h0M9.9 36.7h0M20.1 26.0h0M21.3 39.6h0M20.4 19.1h0M6.9 39.8h0M25.6 18.9h0M20.9 36.1h0M8.9 44.7h0M24.0 37.4h0M7.1 36.3h0M13.9 29.6h0M24.6 28.5h0M6.6 37.9h0M11.2 38.1h0M23.0 27.6h0M28.7 18.7h0M19.4 25.7h0M23.3 33.1h0M7.9 28.2h0M19.0 45.4h0M28.5 18.3h0M22.8 24.4h0M10.6 39.4h0M18.8 45.6h0M17.6 43.3h0M12.9 29.9h0M23.4 31.4h0M12.9 43.0h0M18.7 25.8h0M21.5 22.2h0M21.2 21.4h0M16.9 41.9h0M28.7 19.9h0M14.3 36.2h0M3.9 36.2h0M21.7 38.0h0M13.4 39.2h0M21.4 24.6h0M22.6 18.1h0M22.6 23.6h0M21.7 32.3h0M19.4 41.4h0M8.2 41.7h0M14.7 38.3h0M15.1 43.0h0M23.1 25.4h0M17.9 38.8h0M16.9 28.9h0M18.5 37.6h0M13.4 39.2h0M3.4 29.1h0M7.5 32.6h0M8.9 38.6h0M25.3 25.4h0M24.3 39.4h0M15.3 46.5h0M15.1 34.9h0M21.9 28.1h0M8.3 42.1h0M8.7 32.7h0M16.2 38.9h0M18.4 28.1h0M20.7 27.9h0M26.6 36.8h0M19.3 33.5h0M16.1 46.1h0M5.9 29.0h0M19.1 40.4h0M11.0 38.1h0M23.9 27.9h0M26.0 37.4h0M27.8 19.3h0M15.7 34.6h0M24.2 18.2h0M19.8 40.6h0M24.8 18.1h0M10.6 39.4h0M24.1 39.0h0M15.2 28.8h0M14.3 44.5h0M4.6 35.9h0M18.3 32.6h0M12.5 29.6h0M10.5 41.1h0M19.4 32.9h0M20.5 18.7h0M11.3 38.5h0M20.7 41.4h0M20.4 37.7h0M22.6 24.9h0M24.4 24.5h0M4.7 35.3h0M15.6 29.0h0M23.0 22.2h0M21.0 18.5h0M5.2 29.1h0M25.8 38.6h0M22.3 31.6h0M6.3 37.0h0M21.9 25.2h0M21.2 23.0h0M19.2 28.6h0M12.3 28.7h0M24.3 26.7h0M18.6 45.7h0M21.7 38.3h0M6.2 29.2h0M5.6 35.6h0M28.0 20.3h0M11.7 40.5h0"/>
<path id="bL1" d="M10.0 44.1h0M11.6 41.7h0M8.2 40.7h0M20.2 44.4h0M14.9 43.9h0M14.5 44.7h0M17.8 42.6h0M26.5 20.7h0M9.9 40.7h0M7.3 31.8h0M14.0 41.7h0M6.6 35.3h0M11.5 29.7h0M22.2 39.3h0M8.8 36.6h0M19.9 25.1h0M28.5 18.1h0M21.4 37.4h0M9.6 45.4h0M20.2 18.8h0M14.1 42.4h0M12.5 29.1h0M4.5 38.1h0M18.5 24.2h0M22.2 40.1h0M14.9 32.8h0M3.3 30.5h0M22.9 21.1h0M20.6 31.6h0M21.5 33.3h0M12.7 38.5h0M4.4 29.7h0M7.1 32.5h0M9.2 44.2h0M15.4 41.3h0M15.9 38.9h0M7.1 41.1h0M23.2 23.5h0M22.8 18.7h0M17.1 31.8h0M7.0 36.7h0M4.9 34.6h0M18.8 38.4h0M23.6 32.0h0M16.9 42.7h0M14.3 35.5h0M19.9 22.7h0M15.2 46.6h0M21.1 37.3h0M19.1 44.1h0M7.4 33.5h0M11.2 39.2h0M14.0 38.3h0M17.6 45.2h0M3.3 28.1h0M7.4 35.0h0M19.8 30.7h0M6.3 31.9h0M10.9 38.5h0M24.5 20.4h0M24.7 33.6h0M5.9 28.2h0M3.6 28.2h0M5.1 35.7h0M13.2 42.1h0M18.7 45.4h0M18.5 21.4h0M17.1 37.3h0M3.9 29.0h0M7.2 28.5h0M19.9 39.8h0M14.6 34.4h0M21.1 20.0h0M16.1 46.4h0M25.4 37.2h0M16.0 41.6h0M23.4 38.5h0M16.3 43.8h0M9.6 35.8h0M10.0 37.8h0M17.9 42.3h0M21.3 25.5h0M18.7 37.1h0M14.0 45.6h0M18.6 41.9h0M16.8 43.0h0M11.4 38.9h0M22.9 26.1h0M6.2 39.4h0M20.3 34.8h0M18.2 32.3h0M18.5 34.1h0M25.5 20.2h0M11.5 34.2h0M7.6 35.7h0M17.0 28.4h0M9.3 38.4h0M10.3 41.1h0M13.2 42.5h0M2.9 30.2h0M23.6 40.9h0M16.0 44.4h0M14.9 39.8h0M25.5 34.1h0M6.7 40.0h0M26.2 19.5h0M19.4 27.0h0M28.3 19.3h0M15.5 40.1h0M22.9 35.6h0M9.8 33.5h0M14.2 45.6h0M16.2 37.7h0M23.4 23.8h0M7.4 31.6h0M13.5 43.5h0M25.3 34.5h0M19.5 37.2h0M22.5 20.6h0M24.2 27.1h0M18.4 41.2h0M10.2 41.7h0M23.7 19.1h0M13.9 29.0h0M9.8 31.9h0M24.5 27.1h0M17.2 39.1h0M27.0 18.4h0M23.7 35.9h0M29.6 18.5h0M24.6 35.8h0M8.3 40.3h0M18.6 34.6h0M14.0 38.1h0M20.8 40.4h0M24.3 25.7h0M6.9 34.4h0M11.7 34.5h0M10.6 35.9h0M17.0 34.5h0M21.8 32.1h0M15.6 45.9h0M6.9 34.8h0M20.0 35.1h0M10.1 35.3h0M11.5 29.8h0M6.2 33.7h0M21.3 41.7h0M28.5 20.4h0M17.3 34.7h0M18.7 26.3h0M21.4 42.5h0M21.2 39.0h0M14.4 33.7h0M14.5 33.5h0M8.0 32.6h0M18.2 26.4h0M6.3 34.5h0M22.6 36.6h0M20.8 34.1h0M13.8 36.1h0M17.1 38.9h0M7.9 28.5h0M19.8 34.4h0M22.1 21.3h0M14.5 33.7h0M25.5 20.2h0M21.9 33.3h0M12.9 32.6h0M19.7 28.1h0M12.6 35.3h0M26.2 35.4h0M11.9 36.1h0M11.2 29.9h0M7.1 39.0h0M8.0 38.0h0M7.2 34.9h0M20.5 41.2h0M7.4 34.3h0M8.8 33.5h0M24.9 25.3h0M9.4 42.7h0M18.5 26.4h0M24.6 32.8h0M16.9 34.2h0M12.9 46.0h0M15.7 30.0h0M23.9 23.9h0M15.2 33.0h0M23.9 26.1h0M24.0 42.5h0M13.0 34.5h0M4.7 28.1h0M20.2 23.7h0M13.3 39.3h0M18.6 31.2h0M11.6 44.4h0M20.6 34.0h0M5.1 36.9h0M8.9 43.7h0M25.4 18.6h0M9.7 35.8h0M22.7 36.2h0M12.9 42.4h0M18.8 36.0h0M18.9 22.5h0M26.8 19.5h0M13.0 36.4h0M22.5 39.2h0M19.5 18.5h0M26.2 21.8h0M15.1 28.6h0M23.9 23.9h0M25.7 18.1h0M11.5 33.3h0M22.1 32.5h0M9.9 39.7h0M23.0 33.7h0M11.7 39.4h0M19.2 39.9h0M22.9 35.4h0M23.7 36.3h0M21.1 19.3h0M13.0 29.9h0M24.9 24.8h0M15.6 32.6h0M20.6 18.7h0M26.1 22.1h0M19.5 19.0h0M15.6 43.7h0M20.8 33.4h0M17.5 41.3h0M14.5 40.1h0M24.7 34.2h0"/>
<path id="bL2" d="M19.6 22.1h0M21.3 20.3h0M20.2 31.0h0M26.7 20.2h0M16.3 44.4h0M17.2 38.9h0M6.0 28.4h0M24.3 19.8h0M24.6 27.8h0M6.9 29.1h0M3.4 29.4h0M12.9 37.8h0M7.6 38.2h0M14.7 39.7h0M18.0 39.0h0M19.2 41.3h0M23.4 22.0h0M17.6 44.7h0M8.8 44.2h0M26.1 36.1h0M17.7 42.7h0M12.5 36.3h0M17.6 33.6h0M6.4 34.8h0M18.2 40.4h0M6.6 36.2h0M6.6 39.2h0M24.4 40.7h0M21.3 19.8h0M9.0 42.0h0M23.7 41.9h0M13.6 44.2h0M16.7 29.1h0M26.2 20.4h0M16.4 41.4h0M20.2 21.3h0M11.8 29.9h0M19.9 21.7h0M26.4 18.6h0M28.9 18.5h0M15.1 46.2h0M15.1 37.5h0M11.5 35.5h0M25.2 35.6h0M18.6 41.7h0M21.6 23.6h0M6.0 37.8h0M6.9 36.3h0M20.3 23.0h0M18.7 24.1h0M10.4 29.3h0M17.5 42.4h0M9.8 38.8h0M7.5 41.3h0M27.4 20.8h0M23.5 34.9h0M17.0 31.9h0M23.3 40.6h0M6.5 32.8h0M23.2 34.6h0M14.6 37.7h0M20.3 44.4h0M20.3 33.6h0M26.7 18.4h0M16.0 46.5h0M18.5 24.0h0M10.6 45.6h0M11.3 32.4h0M23.8 38.7h0M6.6 36.8h0M20.1 25.7h0M18.6 27.7h0M21.4 21.2h0M22.8 39.3h0M19.5 33.3h0M20.7 40.6h0M22.8 24.5h0M20.5 21.0h0M11.1 28.1h0M26.1 20.0h0M9.3 40.9h0M25.8 39.0h0M7.3 33.1h0M10.7 29.8h0M6.8 41.8h0M9.6 41.7h0M16.1 37.8h0M4.7 38.2h0M12.4 45.7h0M14.5 40.2h0M23.6 35.5h0M9.7 37.9h0M13.7 40.5h0M9.3 41.8h0M6.4 28.2h0M18.0 26.2h0M12.9 46.1h0M12.5 44.5h0M18.3 40.2h0M6.3 40.9h0M13.9 45.8h0M18.4 21.5h0M9.7 39.7h0M21.9 38.7h0M11.9 44.3h0M24.4 40.7h0M13.3 38.4h0M23.9 42.0h0M21.0 32.4h0M18.3 23.8h0M9.6 29.7h0M21.8 42.6h0M23.2 38.7h0M9.6 28.2h0M23.9 19.8h0M23.7 38.3h0M11.5 42.3h0M20.8 20.9h0M7.2 33.4h0M12.2 44.0h0M21.6 18.9h0M20.5 43.9h0M10.3 28.2h0M7.9 42.9h0M24.8 21.7h0M21.0 26.8h0M19.6 44.3h0M27.0 21.9h0M24.5 23.4h0M23.3 25.7h0M20.0 33.4h0M20.4 18.7h0M6.0 28.0h0M4.3 30.2h0M8.7 43.0h0M24.5 22.4h0M22.6 28.3h0M21.4 26.7h0M25.7 18.9h0M3.6 30.3h0M4.9 28.3h0M17.8 42.9h0M17.7 32.0h0M21.1 36.7h0M25.3 25.6h0M14.2 36.3h0M20.5 25.2h0M11.8 33.8h0M2.9 29.7h0M4.3 35.5h0M7.8 43.3h0M5.0 33.1h0M8.2 39.1h0M18.8 27.3h0M15.9 41.4h0M6.7 32.9h0M12.3 32.9h0M13.8 33.0h0M18.9 36.1h0M19.3 20.4h0M25.1 23.9h0M19.2 22.2h0M15.0 29.6h0M19.8 20.3h0M13.2 34.2h0M12.3 28.0h0M16.0 40.4h0M17.5 37.7h0M26.8 20.1h0M18.6 35.2h0M12.3 30.4h0M13.3 36.3h0M24.6 18.4h0M11.9 40.2h0M22.6 35.2h0M12.9 29.9h0M24.9 32.4h0M20.4 26.7h0M24.8 39.9h0M7.5 32.5h0M25.2 36.4h0M14.5 36.5h0M25.4 24.4h0M23.8 27.0h0M25.7 36.0h0M7.4 34.1h0M9.9 41.4h0M21.1 42.9h0M23.1 27.5h0M16.5 40.3h0M8.6 36.2h0M17.0 37.5h0M9.5 32.5h0M23.0 24.7h0M14.0 32.8h0M20.0 43.4h0M25.1 35.8h0M24.4 37.6h0M22.3 32.5h0M25.1 18.7h0M9.0 44.2h0M24.2 27.4h0M21.5 31.6h0M5.5 28.5h0M14.3 35.1h0M5.5 35.8h0M12.0 38.8h0M24.5 38.1h0M7.6 42.7h0M12.1 43.4h0M3.5 28.8h0M7.8 31.9h0M24.4 34.9h0M14.3 29.6h0M22.9 37.4h0M21.2 33.0h0M23.4 40.9h0M21.6 34.1h0M9.2 35.9h0M6.5 39.7h0M24.7 36.3h0M17.2 43.8h0M15.5 38.6h0M18.8 19.5h0M21.9 34.4h0M20.5 34.7h0M3.8 35.8h0M10.2 36.7h0M24.0 25.6h0M22.2 31.4h0M25.2 38.6h0M19.8 22.5h0M22.7 27.7h0M23.5 20.4h0M21.9 33.5h0M25.2 33.9h0M20.0 25.0h0M21.7 39.8h0M20.4 35.0h0M6.5 28.7h0M19.8 27.6h0M17.4 45.9h0M18.7 22.2h0M24.3 18.2h0M6.5 34.9h0M9.9 31.9h0M22.5 28.8h0M7.4 28.6h0M12.0 44.0h0M27.0 18.5h0"/>
<path id="bL3" d="M19.7 19.3h0M18.2 26.6h0M25.5 20.6h0M20.8 33.8h0M14.5 28.7h0M13.1 41.2h0M15.9 39.2h0M24.6 25.9h0M7.5 29.0h0M22.8 28.5h0M22.2 28.3h0M25.8 33.7h0M4.0 28.2h0M19.5 25.9h0M21.5 22.0h0M27.0 21.7h0M12.9 33.9h0M11.8 41.4h0M18.1 33.7h0M9.8 34.2h0M11.1 38.6h0M21.2 42.5h0M15.2 45.7h0M6.5 39.3h0M10.2 32.8h0M15.6 44.8h0M18.3 37.0h0M23.7 34.8h0M13.1 33.8h0M8.7 42.6h0M16.8 43.0h0M14.3 37.2h0M15.3 46.6h0M21.1 24.5h0M17.4 45.9h0M9.4 35.4h0M17.9 42.1h0M26.8 21.5h0M26.0 22.0h0M21.4 32.4h0M11.6 37.0h0M22.4 27.8h0M14.0 42.1h0M5.7 35.0h0M19.2 19.1h0M10.4 34.0h0M19.6 24.8h0M24.2 20.7h0M19.2 26.9h0M9.7 32.8h0M10.2 28.3h0M14.3 42.0h0M23.2 36.0h0M17.8 41.1h0M21.0 33.9h0M18.9 24.9h0M14.0 41.3h0M22.1 33.8h0M10.8 35.7h0M17.9 44.5h0M22.7 32.7h0M19.7 45.2h0M19.3 31.8h0M4.8 36.5h0M22.4 36.7h0M21.7 44.2h0M10.3 39.3h0M14.7 28.0h0M15.6 45.9h0M20.1 19.2h0M14.2 44.5h0M8.4 36.8h0M2.5 28.7h0M13.3 43.5h0M15.4 37.4h0M19.5 39.9h0M9.2 28.0h0M25.1 40.2h0M14.2 44.3h0M18.3 45.3h0M23.6 35.8h0M12.3 42.8h0M4.7 33.7h0M14.1 43.1h0M18.7 19.5h0M18.1 35.2h0M9.8 45.1h0M24.1 21.9h0M20.3 18.1h0M16.0 34.8h0M5.8 33.5h0M11.9 39.2h0M23.9 28.8h0M21.7 27.6h0M13.0 36.5h0M13.9 45.9h0M17.0 43.5h0M8.9 42.8h0M19.6 41.3h0M11.3 36.7h0M9.7 35.1h0M24.4 36.5h0M25.4 25.8h0M19.8 35.6h0M19.4 21.5h0M9.5 29.7h0M17.4 37.3h0M18.7 31.9h0M20.7 38.4h0M21.3 32.3h0M14.2 36.2h0M11.2 41.7h0M15.2 38.3h0M12.8 34.9h0M19.4 25.1h0M20.3 26.3h0M24.9 34.8h0M21.0 27.4h0M22.7 40.2h0M28.7 18.2h0M22.5 23.4h0M20.7 43.1h0M18.2 43.9h0M22.6 24.1h0M21.5 36.9h0M20.5 24.0h0M18.9 21.2h0M18.4 19.0h0M19.7 21.7h0M12.6 40.6h0M15.6 38.8h0M17.5 36.9h0M5.7 38.8h0M16.1 41.7h0M3.1 28.8h0M16.2 44.7h0M14.3 33.4h0M8.8 41.4h0M23.4 33.2h0M20.3 25.1h0M13.6 33.7h0M11.7 37.7h0M17.4 34.6h0M13.6 37.6h0M23.9 35.4h0M18.4 19.9h0M11.1 34.2h0M4.3 36.2h0M18.0 27.8h0M12.9 29.7h0M9.0 33.3h0M21.0 24.9h0M12.1 29.7h0M18.9 40.7h0M24.7 25.0h0M15.4 38.7h0M12.8 28.0h0M24.1 32.1h0M10.4 34.9h0M18.0 28.8h0M17.9 39.6h0M22.7 26.2h0M5.3 30.0h0M15.0 41.2h0M22.9 42.9h0M21.7 31.0h0M22.5 20.6h0M7.4 34.7h0M24.3 38.7h0M16.4 43.2h0M12.4 36.2h0M13.8 38.1h0M19.8 28.5h0M11.8 38.5h0M11.1 45.5h0M19.5 27.1h0M10.0 36.7h0M8.0 31.5h0M11.4 28.0h0M20.0 26.8h0M6.6 40.7h0M16.0 40.6h0M22.5 28.4h0M6.4 32.7h0M11.2 38.4h0M22.7 26.4h0M4.1 35.6h0M18.2 37.9h0M13.0 43.8h0M17.7 37.5h0M20.6 34.6h0M11.9 39.9h0M8.8 39.7h0M28.7 18.5h0M4.6 29.6h0M22.3 26.0h0M7.1 28.9h0M20.4 27.0h0M22.6 25.1h0M7.3 37.7h0M7.2 41.3h0M3.9 29.9h0M24.0 19.6h0M21.0 32.3h0M20.3 19.4h0M10.2 32.2h0M11.7 38.9h0M9.2 45.1h0M19.8 21.9h0M25.0 36.6h0M9.7 32.5h0M24.3 38.7h0M12.7 35.1h0M21.3 41.8h0M17.0 29.3h0M20.8 21.8h0M11.2 36.4h0M20.6 22.3h0M24.5 39.9h0M23.9 38.1h0"/>
<path id="bW0" d="M10.3 12.5h0M4.7 13.6h0M4.8 14.8h0M33.6 9.3h0M17.8 30.6h0M18.4 10.2h0M11.6 13.1h0M17.7 11.7h0M16.9 10.8h0M16.6 30.4h0M29.0 9.4h0M30.5 8.5h0M17.9 10.3h0M12.2 13.1h0M3.3 32.0h0M9.7 30.7h0M20.6 11.3h0M7.2 31.4h0M19.2 11.0h0M16.2 12.7h0M29.1 8.2h0M16.7 30.5h0M6.6 30.6h0M8.2 13.8h0M11.2 31.9h0M22.0 29.9h0M13.5 31.2h0M20.6 10.9h0M22.9 30.0h0M12.4 13.8h0M9.8 13.6h0M7.2 29.8h0M21.6 12.0h0M2.9 15.1h0M2.9 14.9h0M11.7 30.7h0M30.0 8.4h0M33.1 8.3h0M31.5 8.0h0M31.8 9.7h0M29.9 8.2h0M21.2 11.8h0M12.5 30.9h0M33.9 9.9h0M19.4 10.1h0M14.0 31.7h0M11.7 14.4h0M20.9 28.6h0M10.3 31.9h0M10.9 13.0h0M8.6 31.4h0M17.1 30.9h0M23.9 11.0h0M10.0 12.3h0M18.4 29.1h0M34.3 8.2h0M26.8 8.7h0M10.5 12.3h0M15.8 30.2h0M28.2 8.2h0M13.1 13.4h0M17.6 29.2h0M24.7 10.6h0M32.0 9.0h0M4.6 14.5h0M6.0 29.9h0M13.5 14.0h0M12.3 14.2h0M3.8 15.3h0M31.7 8.5h0M19.6 11.9h0M8.3 13.1h0M6.1 30.7h0"/>
<path id="bW1" d="M5.7 13.5h0M19.7 11.0h0M9.8 12.7h0M25.8 9.6h0M6.3 31.2h0M10.2 31.2h0M17.0 29.7h0M31.3 7.9h0M9.4 13.0h0M4.8 30.3h0M14.5 12.4h0M14.2 12.0h0M11.6 14.2h0M13.7 31.9h0M23.6 12.2h0M3.2 15.7h0M18.4 30.1h0M33.1 8.8h0M8.4 12.4h0M9.8 30.1h0M34.8 8.3h0M8.6 30.4h0M5.9 30.5h0M18.0 30.6h0M3.1 14.8h0M10.3 13.6h0M26.0 10.7h0M22.4 12.1h0M31.6 9.5h0M7.3 29.8h0M15.8 11.9h0M16.9 10.5h0M27.4 9.8h0M32.0 8.8h0M4.0 16.1h0M16.8 30.4h0M14.4 31.9h0M23.2 10.5h0M14.6 31.6h0M30.2 9.5h0M4.7 15.1h0M23.8 10.7h0M25.9 10.4h0M24.9 31.4h0M7.0 12.2h0M26.8 10.0h0M10.5 30.9h0M8.3 30.7h0M4.3 32.5h0M9.5 31.6h0M14.9 31.9h0M11.0 13.1h0M25.9 11.1h0M11.9 30.6h0M7.5 30.0h0M10.9 14.1h0M21.9 30.3h0M10.8 31.5h0M12.6 12.9h0M26.3 9.5h0"/>
<path id="bW2" d="M32.6 8.8h0M15.6 31.7h0M22.3 11.2h0M21.3 12.2h0M4.4 32.2h0M25.7 9.6h0M18.4 30.2h0M27.6 8.6h0M3.1 32.6h0M12.9 14.2h0M11.4 14.3h0M4.8 14.4h0M5.2 13.7h0M33.8 8.4h0M19.7 28.7h0M11.3 30.9h0M11.2 30.7h0M13.8 31.5h0M8.3 31.2h0M9.8 31.0h0M3.1 32.4h0M5.1 30.3h0M19.2 29.5h0M8.5 13.3h0M8.8 29.8h0M14.5 13.7h0M23.8 30.1h0M18.0 10.9h0M3.4 31.0h0M22.4 11.0h0M13.3 32.1h0M30.2 8.6h0M32.8 10.2h0M9.8 14.1h0M13.7 12.8h0M4.7 14.5h0M14.4 13.8h0M22.2 10.6h0M8.4 12.0h0M12.3 32.3h0M10.8 31.7h0M8.6 31.1h0M13.8 31.4h0M3.2 31.9h0M23.9 11.5h0M14.1 14.1h0M9.6 30.8h0M20.1 10.4h0M26.3 9.9h0M8.6 13.9h0M3.3 32.8h0M18.0 11.7h0M20.9 10.9h0M23.6 30.9h0M11.9 13.1h0M28.6 9.4h0M5.2 30.5h0M31.9 9.3h0M11.3 32.2h0M14.8 31.2h0M33.2 8.6h0M10.0 12.8h0M16.8 30.5h0M13.1 13.9h0M24.8 11.2h0M25.1 31.2h0M19.9 28.9h0M29.0 9.5h0M18.5 10.3h0M17.0 30.2h0M23.2 29.4h0M24.0 10.3h0M16.9 11.2h0M9.8 12.6h0M15.1 30.6h0M3.4 31.1h0M24.0 29.3h0M26.7 10.5h0M14.0 32.5h0M3.2 15.2h0"/>
<path id="bW3" d="M20.8 10.5h0M6.9 30.3h0M26.0 10.9h0M6.7 12.2h0M23.8 30.0h0M20.5 30.2h0M31.8 9.3h0M18.9 10.7h0M22.5 29.2h0M10.0 31.8h0M10.8 30.4h0M20.7 29.2h0M17.9 11.0h0M15.5 11.9h0M21.9 10.4h0M25.3 9.7h0M18.4 10.9h0M22.7 29.8h0M7.7 30.6h0M9.9 31.6h0M4.9 32.0h0M21.7 11.5h0M7.7 30.2h0M3.1 15.3h0M24.9 29.9h0M21.7 29.3h0M9.4 13.6h0M9.5 30.9h0M10.8 13.3h0M21.9 11.5h0M21.9 10.7h0M23.6 30.2h0M25.2 9.6h0M29.3 7.7h0M5.6 14.9h0M27.9 9.1h0M6.1 30.9h0M18.6 29.8h0M14.9 32.1h0M15.8 12.5h0M6.4 13.5h0M16.8 11.8h0M12.6 30.8h0M18.3 11.1h0M31.3 9.1h0M34.9 9.4h0M14.5 13.4h0M31.2 9.1h0M15.9 11.5h0M25.8 9.5h0M16.8 11.8h0M13.4 30.8h0M25.9 10.7h0M6.1 14.0h0M11.7 13.8h0M11.9 12.8h0M8.0 31.3h0M34.5 9.5h0M17.8 10.6h0M13.2 31.3h0M32.1 9.3h0"/>
<path id="bS0" d="M45.0 30.7h0M47.6 21.9h0M47.0 17.6h0M46.5 19.1h0M45.8 21.2h0M43.7 24.3h0M43.2 29.1h0M45.9 25.3h0M44.8 20.1h0M45.3 17.1h0M44.1 26.9h0M45.0 26.4h0M41.4 16.2h0M45.5 21.2h0M46.0 26.4h0M45.2 27.6h0M45.1 21.8h0M42.5 17.0h0M44.2 28.4h0M43.9 21.8h0M45.8 21.8h0M40.8 19.6h0M46.6 27.0h0M42.8 28.4h0M44.5 20.0h0M46.7 24.7h0M47.3 18.7h0M41.0 16.7h0M46.3 19.9h0M44.0 23.3h0M45.2 25.4h0M47.9 14.3h0M45.7 25.3h0M44.8 13.8h0M47.4 15.6h0M44.2 17.2h0M41.3 22.3h0M46.8 16.1h0M46.3 27.4h0M46.9 16.8h0M45.1 23.1h0M45.6 27.0h0M43.6 19.4h0M41.7 16.4h0M42.7 16.2h0M43.3 24.4h0M47.1 19.1h0M48.0 19.6h0M45.3 25.8h0M41.5 17.4h0M39.9 17.4h0M43.2 24.0h0M48.3 20.6h0M44.9 15.7h0M47.9 20.0h0M47.9 21.6h0M45.7 19.3h0M42.7 21.0h0M47.1 16.3h0M43.6 17.7h0M44.9 21.4h0M41.1 16.8h0M46.5 14.1h0M47.2 21.4h0M47.2 17.5h0M46.3 16.8h0"/>
<path id="bS1" d="M43.0 23.2h0M40.9 20.9h0M44.8 29.3h0M44.9 21.2h0M45.5 15.9h0M45.7 18.1h0M41.3 18.6h0M47.6 21.4h0M46.2 28.3h0M43.7 26.1h0M43.1 20.6h0M45.3 28.9h0M44.9 13.9h0M47.7 21.7h0M45.2 18.8h0M46.2 21.6h0M45.0 24.1h0M47.7 23.3h0M43.1 14.7h0M43.8 18.9h0M45.0 22.4h0M40.4 18.6h0M40.6 19.8h0M44.8 16.5h0M40.2 18.7h0M47.6 22.3h0M45.6 15.0h0M44.5 20.7h0M46.9 24.1h0M44.3 26.1h0M44.9 21.4h0M45.5 21.3h0M45.2 17.6h0M44.2 27.0h0M43.5 25.3h0M44.5 24.9h0M41.2 15.3h0M40.3 19.7h0M43.0 21.6h0M40.5 17.0h0M42.9 16.7h0M44.8 30.6h0M44.7 18.6h0M45.6 15.7h0M44.9 23.5h0M45.7 29.6h0M45.7 24.0h0M43.4 29.1h0M46.9 25.7h0M46.7 19.0h0M48.2 16.9h0M45.6 22.0h0M40.3 19.4h0M42.5 25.2h0M43.5 25.8h0M41.7 19.5h0M42.0 22.1h0M45.1 13.8h0M44.1 15.4h0M45.6 29.4h0M42.7 14.6h0M45.4 15.5h0"/>
<path id="bS2" d="M46.2 23.9h0M41.9 22.2h0M46.3 17.2h0M40.8 21.6h0M46.1 25.1h0M43.6 23.1h0M45.6 27.2h0M44.2 20.6h0M44.7 29.7h0M46.9 27.3h0M42.1 16.8h0M42.0 22.0h0M46.8 25.6h0M47.5 22.5h0M45.7 13.9h0M42.0 22.2h0M44.7 30.8h0M41.9 21.7h0M45.5 20.1h0M46.4 28.6h0M41.5 22.1h0M44.7 21.3h0M47.2 21.7h0M47.0 19.4h0M45.5 16.5h0M41.5 16.6h0M46.0 19.9h0M44.1 27.4h0M43.3 17.5h0M43.9 20.0h0M42.4 16.5h0M44.0 26.1h0M42.7 15.9h0M45.2 30.1h0M43.6 18.6h0M47.2 25.1h0M46.4 25.9h0M42.5 20.7h0M45.6 15.2h0M42.0 18.8h0M40.3 15.4h0M44.2 13.8h0M47.8 17.7h0M41.1 20.8h0M43.9 22.2h0M46.5 20.2h0M45.4 28.5h0M46.7 19.4h0M47.4 22.3h0M43.3 24.8h0M42.3 18.8h0M47.2 24.0h0M47.3 15.7h0M48.3 16.9h0M44.1 18.8h0M46.0 16.3h0M43.9 18.4h0M47.0 21.8h0M47.3 19.7h0"/>
<path id="bS3" d="M45.1 16.6h0M44.0 23.8h0M44.9 18.9h0M42.0 14.9h0M44.6 25.0h0M46.8 24.1h0M44.2 28.9h0M44.9 14.1h0M41.2 15.2h0M46.4 26.7h0M43.6 24.1h0M48.1 17.3h0M47.1 20.3h0M44.1 28.4h0M42.9 25.5h0M45.5 23.1h0M45.2 20.7h0M41.4 19.1h0M42.3 14.7h0M45.3 24.4h0M46.1 19.5h0M44.5 18.7h0M43.1 16.0h0M46.1 27.8h0M47.3 18.3h0M40.9 19.4h0M45.3 14.1h0M43.5 17.6h0M44.2 28.6h0M44.3 14.1h0M43.3 25.3h0M45.3 17.4h0M44.3 17.3h0M44.4 25.6h0M45.0 15.6h0M41.3 19.6h0M43.7 26.4h0M42.4 24.2h0M40.3 17.2h0M42.4 15.5h0M44.1 18.1h0M42.6 15.0h0M44.9 20.7h0M45.8 16.3h0M42.7 18.0h0M47.3 16.9h0M42.0 16.2h0M43.2 14.6h0M41.6 23.0h0M48.6 20.2h0M44.3 25.3h0M40.5 16.9h0M42.2 23.0h0M47.0 16.6h0M45.9 23.6h0M41.8 23.7h0M45.6 21.6h0M45.0 16.6h0M46.8 20.4h0M43.5 15.6h0M40.6 18.8h0M48.1 18.1h0M45.6 26.7h0"/>
<path id="bB0" d="M37.7 14.5h0M33.5 19.7h0M35.8 21.1h0M39.5 18.7h0M36.3 19.9h0M35.5 21.3h0M37.4 18.3h0M39.8 18.6h0M39.1 20.8h0M33.1 16.9h0M34.2 15.1h0M40.1 21.3h0M34.9 17.0h0M31.7 17.6h0M38.8 21.0h0M36.2 14.2h0M34.5 14.5h0"/>
<path id="bB1" d="M33.1 18.7h0M37.1 14.7h0M34.1 18.9h0M36.0 15.8h0M33.8 20.3h0M36.8 15.2h0M37.8 20.0h0M33.5 15.7h0M38.8 17.2h0M36.8 17.9h0M36.5 18.6h0M37.0 16.0h0M32.9 18.6h0"/>
<path id="bB2" d="M35.3 15.2h0M32.1 16.2h0M40.4 21.1h0M34.2 18.3h0M38.7 20.7h0M36.4 21.8h0M38.4 20.7h0M38.5 16.0h0M34.5 19.4h0M38.3 20.2h0M39.7 20.7h0M37.0 17.1h0M37.5 15.4h0M32.4 17.4h0M39.3 16.3h0M37.9 14.6h0M36.7 20.9h0M37.3 14.8h0M39.5 20.9h0M32.9 17.3h0"/>
<path id="bB3" d="M37.9 17.5h0M34.0 18.1h0M37.9 18.5h0M32.6 16.2h0M37.4 20.2h0M36.2 19.8h0M36.0 21.7h0M33.4 17.9h0M35.1 19.7h0M34.7 20.9h0M33.9 17.8h0M33.1 17.0h0M31.7 17.3h0M38.5 17.5h0M37.5 21.2h0M34.6 15.3h0M34.4 17.8h0M36.4 21.0h0M38.4 20.5h0M38.6 20.4h0M36.5 18.5h0M35.5 20.4h0"/>
<path id="bshM" d="M4.60,9.40 C6.15,7.25 9.40,4.35 11.80,2.90 C14.20,1.45 16.12,1.07 19.00,0.70 C21.88,0.33 26.58,0.45 29.10,0.70 C31.62,0.95 33.02,1.12 34.10,2.20 C35.18,3.28 35.60,5.40 35.60,7.20 C35.60,9.00 34.82,11.32 34.10,13.00 C33.38,14.68 32.50,15.75 31.30,17.30 C30.10,18.85 27.98,20.38 26.90,22.30 C25.82,24.22 24.80,26.28 24.80,28.80 C24.80,31.32 27.15,34.88 26.90,37.40 C26.65,39.92 25.10,42.33 23.30,43.90 C21.50,45.47 18.48,46.57 16.10,46.80 C13.72,47.03 11.03,46.87 9.00,45.30 C6.97,43.73 5.10,40.63 3.90,37.40 C2.70,34.17 2.03,29.50 1.80,25.90 C1.57,22.30 2.03,18.55 2.50,15.80 C2.97,13.05 3.05,11.55 4.60,9.40 Z"/>
<path id="bshS" d="M39.80,15.50 C40.42,14.42 42.13,13.72 43.50,13.50 C44.87,13.28 47.08,13.28 48.00,14.20 C48.92,15.12 49.08,17.37 49.00,19.00 C48.92,20.63 47.90,22.33 47.50,24.00 C47.10,25.67 47.02,27.75 46.60,29.00 C46.18,30.25 45.63,31.50 45.00,31.50 C44.37,31.50 43.27,30.17 42.80,29.00 C42.33,27.83 42.70,26.00 42.20,24.50 C41.70,23.00 40.20,21.50 39.80,20.00 C39.40,18.50 39.18,16.58 39.80,15.50 Z"/>
<linearGradient id="cbP" x1="0" y1="0" x2="0" y2="1"><stop offset="0" stop-color="#3a3080"/><stop offset="1" stop-color="#e8e6f0"/></linearGradient>
<linearGradient id="cbRB" x1="0" y1="0" x2="0" y2="1"><stop offset="0" stop-color="#b02a2a"/><stop offset="0.5" stop-color="#f6f0ee"/><stop offset="1" stop-color="#2a68a8"/></linearGradient>
</defs>
<g transform="translate(230.90,21.60)" fill="none" stroke-width="1.2" stroke-linecap="round">
<use href="#ashM" fill="#aca4d6" opacity="0.6"/>
<use href="#ashS" fill="#cfcde0" opacity="0.6"/>
<use href="#aM0" stroke="#8076c0"/>
<use href="#aM1" stroke="#a098d0"/>
<use href="#aM2" stroke="#9088c8"/>
<use href="#aM3" stroke="#c0bae0"/>
<use href="#aU0" stroke="#aaa2d4"/>
<use href="#aU1" stroke="#ccc6e4"/>
<use href="#aU2" stroke="#9a92cc"/>
<use href="#aU3" stroke="#e6e2f2"/>
<use href="#aL0" stroke="#7c72be"/>
<use href="#aL1" stroke="#9c94ce"/>
<use href="#aL2" stroke="#8c82c6"/>
<use href="#aL3" stroke="#bab4de"/>
<use href="#aW0" stroke="#ffffff"/>
<use href="#aW1" stroke="#eae8f4"/>
<use href="#aW2" stroke="#f8f7fb"/>
<use href="#aW3" stroke="#d0cae6"/>
<use href="#aS0" stroke="#b4b0cc"/>
<use href="#aS1" stroke="#c8c4da"/>
<use href="#aS2" stroke="#a6a0c8"/>
<use href="#aS3" stroke="#dcdae6"/>
<use href="#aB0" stroke="#a8a2d0"/>
<use href="#aB1" stroke="#c8c4e0"/>
<use href="#aB2" stroke="#b8b6d0"/>
<use href="#aB3" stroke="#ffffff"/>
</g>
<path d="M230.40,20.80 V69.60 H282.70" fill="none" stroke="#333" stroke-width="0.7"/>
<line x1="229.20" y1="26.80" x2="230.40" y2="26.80" stroke="#555" stroke-width="0.4"/>
<line x1="229.20" y1="39.30" x2="230.40" y2="39.30" stroke="#555" stroke-width="0.4"/>
<line x1="229.20" y1="51.80" x2="230.40" y2="51.80" stroke="#555" stroke-width="0.4"/>
<line x1="229.20" y1="64.30" x2="230.40" y2="64.30" stroke="#555" stroke-width="0.4"/>
<line x1="236.40" y1="69.60" x2="236.40" y2="70.80" stroke="#555" stroke-width="0.4"/>
<line x1="249.40" y1="69.60" x2="249.40" y2="70.80" stroke="#555" stroke-width="0.4"/>
<line x1="262.40" y1="69.60" x2="262.40" y2="70.80" stroke="#555" stroke-width="0.4"/>
<line x1="275.40" y1="69.60" x2="275.40" y2="70.80" stroke="#555" stroke-width="0.4"/>
<text transform="translate(243.90,18.20) rotate(0.3)" font-size="5.6" fill="#1a1a1a" stroke="#1a1a1a" stroke-width="0.14"><tspan font-style="italic">TCF7</tspan> (RNA)</text>
<rect x="286.60" y="37.40" width="3.7" height="18.1" fill="url(#cbP)"/>
<text transform="translate(291.60,39.70) rotate(90)" font-size="4.3" fill="#444" text-anchor="middle">3</text>
<text transform="translate(291.60,44.50) rotate(90)" font-size="4.3" fill="#444" text-anchor="middle">2</text>
<text transform="translate(291.60,49.30) rotate(90)" font-size="4.3" fill="#444" text-anchor="middle">1</text>
<text transform="translate(291.60,54.10) rotate(90)" font-size="4.3" fill="#444" text-anchor="middle">0</text>
<g transform="translate(305.50,21.60)" fill="none" stroke-width="1.2" stroke-linecap="round">
<use href="#ashM" fill="#aca4d6" opacity="0.6"/>
<use href="#ashS" fill="#cfcde0" opacity="0.6"/>
<use href="#aM0" stroke="#887ec4"/>
<use href="#aM1" stroke="#a8a0d4"/>
<use href="#aM2" stroke="#988fcc"/>
<use href="#aM3" stroke="#c6c0e2"/>
<use href="#aU0" stroke="#b0a8d8"/>
<use href="#aU1" stroke="#d0cae6"/>
<use href="#aU2" stroke="#a098d0"/>
<use href="#aU3" stroke="#e8e4f2"/>
<use href="#aL0" stroke="#847ac2"/>
<use href="#aL1" stroke="#a49cd2"/>
<use href="#aL2" stroke="#948bca"/>
<use href="#aL3" stroke="#c2bce0"/>
<use href="#aW0" stroke="#ffffff"/>
<use href="#aW1" stroke="#eae8f4"/>
<use href="#aW2" stroke="#f8f7fb"/>
<use href="#aW3" stroke="#d0cae6"/>
<use href="#aS0" stroke="#b4b0cc"/>
<use href="#aS1" stroke="#c8c4da"/>
<use href="#aS2" stroke="#a6a0c8"/>
<use href="#aS3" stroke="#dcdae6"/>
<use href="#aB0" stroke="#a8a2d0"/>
<use href="#aB1" stroke="#c8c4e0"/>
<use href="#aB2" stroke="#b8b6d0"/>
<use href="#aB3" stroke="#ffffff"/>
</g>
<path d="M305.00,20.80 V69.60 H357.30" fill="none" stroke="#333" stroke-width="0.7"/>
<line x1="303.80" y1="26.80" x2="305.00" y2="26.80" stroke="#555" stroke-width="0.4"/>
<line x1="303.80" y1="39.30" x2="305.00" y2="39.30" stroke="#555" stroke-width="0.4"/>
<line x1="303.80" y1="51.80" x2="305.00" y2="51.80" stroke="#555" stroke-width="0.4"/>
<line x1="303.80" y1="64.30" x2="305.00" y2="64.30" stroke="#555" stroke-width="0.4"/>
<line x1="311.00" y1="69.60" x2="311.00" y2="70.80" stroke="#555" stroke-width="0.4"/>
<line x1="324.00" y1="69.60" x2="324.00" y2="70.80" stroke="#555" stroke-width="0.4"/>
<line x1="337.00" y1="69.60" x2="337.00" y2="70.80" stroke="#555" stroke-width="0.4"/>
<line x1="350.00" y1="69.60" x2="350.00" y2="70.80" stroke="#555" stroke-width="0.4"/>
<text transform="translate(320.90,18.20) rotate(0.3)" font-size="5.6" fill="#1a1a1a" stroke="#1a1a1a" stroke-width="0.14"><tspan font-style="italic">LEF1</tspan> (RNA)</text>
<rect x="361.20" y="37.40" width="3.7" height="18.1" fill="url(#cbP)"/>
<text transform="translate(366.20,39.70) rotate(90)" font-size="4.3" fill="#444" text-anchor="middle">3</text>
<text transform="translate(366.20,44.50) rotate(90)" font-size="4.3" fill="#444" text-anchor="middle">2</text>
<text transform="translate(366.20,49.30) rotate(90)" font-size="4.3" fill="#444" text-anchor="middle">1</text>
<text transform="translate(366.20,54.10) rotate(90)" font-size="4.3" fill="#444" text-anchor="middle">0</text>
<g transform="translate(380.10,21.60)" fill="none" stroke-width="1.2" stroke-linecap="round">
<use href="#ashM" fill="#d0d0d4" opacity="0.95"/>
<use href="#ashS" fill="#c6c2da" opacity="0.95"/>
<use href="#aM0" stroke="#c8c8cd"/>
<use href="#aM1" stroke="#d2d2d6"/>
<use href="#aM2" stroke="#c2c2c8"/>
<use href="#aM3" stroke="#dadade"/>
<use href="#aU0" stroke="#c4c2d4"/>
<use href="#aU1" stroke="#cecce0"/>
<use href="#aU2" stroke="#bcb8d4"/>
<use href="#aU3" stroke="#d8d6e4"/>
<use href="#aL0" stroke="#c8c8cd"/>
<use href="#aL1" stroke="#d2d2d6"/>
<use href="#aL2" stroke="#c2c2c8"/>
<use href="#aL3" stroke="#dadade"/>
<use href="#aW0" stroke="#dedee2"/>
<use href="#aW1" stroke="#e8e8ec"/>
<use href="#aW2" stroke="#d6d6da"/>
<use href="#aW3" stroke="#e4e4e8"/>
<use href="#aS0" stroke="#aaa4d0"/>
<use href="#aS1" stroke="#bcb8d8"/>
<use href="#aS2" stroke="#9890c8"/>
<use href="#aS3" stroke="#d0cee2"/>
<use href="#aB0" stroke="#c0bcd6"/>
<use href="#aB1" stroke="#d4d2e0"/>
<use href="#aB2" stroke="#c6c6ce"/>
<use href="#aB3" stroke="#e2e2e6"/>
</g>
<path d="M379.60,20.80 V69.60 H431.90" fill="none" stroke="#333" stroke-width="0.7"/>
<line x1="378.40" y1="26.80" x2="379.60" y2="26.80" stroke="#555" stroke-width="0.4"/>
<line x1="378.40" y1="39.30" x2="379.60" y2="39.30" stroke="#555" stroke-width="0.4"/>
<line x1="378.40" y1="51.80" x2="379.60" y2="51.80" stroke="#555" stroke-width="0.4"/>
<line x1="378.40" y1="64.30" x2="379.60" y2="64.30" stroke="#555" stroke-width="0.4"/>
<line x1="385.60" y1="69.60" x2="385.60" y2="70.80" stroke="#555" stroke-width="0.4"/>
<line x1="398.60" y1="69.60" x2="398.60" y2="70.80" stroke="#555" stroke-width="0.4"/>
<line x1="411.60" y1="69.60" x2="411.60" y2="70.80" stroke="#555" stroke-width="0.4"/>
<line x1="424.60" y1="69.60" x2="424.60" y2="70.80" stroke="#555" stroke-width="0.4"/>
<text transform="translate(393.70,18.20) rotate(0.3)" font-size="5.6" fill="#1a1a1a" stroke="#1a1a1a" stroke-width="0.14"><tspan font-style="italic">PRDM1</tspan> (RNA)</text>
<rect x="435.80" y="37.40" width="3.7" height="18.1" fill="url(#cbP)"/>
<text transform="translate(440.80,39.70) rotate(90)" font-size="4.3" fill="#444" text-anchor="middle">3</text>
<text transform="translate(440.80,44.50) rotate(90)" font-size="4.3" fill="#444" text-anchor="middle">2</text>
<text transform="translate(440.80,49.30) rotate(90)" font-size="4.3" fill="#444" text-anchor="middle">1</text>
<text transform="translate(440.80,54.10) rotate(90)" font-size="4.3" fill="#444" text-anchor="middle">0</text>
<g transform="translate(455.10,21.60)" fill="none" stroke-width="1.2" stroke-linecap="round">
<use href="#ashM" fill="#d2d2d4" opacity="0.95"/>
<use href="#ashS" fill="#bcb6dc" opacity="0.95"/>
<use href="#aM0" stroke="#cacace"/>
<use href="#aM1" stroke="#d4d4d6"/>
<use href="#aM2" stroke="#c4c4c8"/>
<use href="#aM3" stroke="#dcdcde"/>
<use href="#aU0" stroke="#cacace"/>
<use href="#aU1" stroke="#d4d4d6"/>
<use href="#aU2" stroke="#c4c4c8"/>
<use href="#aU3" stroke="#dcdcde"/>
<use href="#aL0" stroke="#cacace"/>
<use href="#aL1" stroke="#d4d4d6"/>
<use href="#aL2" stroke="#c4c4c8"/>
<use href="#aL3" stroke="#dcdcde"/>
<use href="#aW0" stroke="#e0e0e2"/>
<use href="#aW1" stroke="#eaeaec"/>
<use href="#aW2" stroke="#d8d8da"/>
<use href="#aW3" stroke="#e6e6e8"/>
<use href="#aS0" stroke="#8a82c4"/>
<use href="#aS1" stroke="#a49cd0"/>
<use href="#aS2" stroke="#aca8d0"/>
<use href="#aS3" stroke="#ccc8e2"/>
<use href="#aB0" stroke="#c6c6ce"/>
<use href="#aB1" stroke="#d8d8de"/>
<use href="#aB2" stroke="#bcb8d6"/>
<use href="#aB3" stroke="#e4e4e8"/>
</g>
<path d="M454.60,20.80 V69.60 H506.90" fill="none" stroke="#333" stroke-width="0.7"/>
<line x1="453.40" y1="26.80" x2="454.60" y2="26.80" stroke="#555" stroke-width="0.4"/>
<line x1="453.40" y1="39.30" x2="454.60" y2="39.30" stroke="#555" stroke-width="0.4"/>
<line x1="453.40" y1="51.80" x2="454.60" y2="51.80" stroke="#555" stroke-width="0.4"/>
<line x1="453.40" y1="64.30" x2="454.60" y2="64.30" stroke="#555" stroke-width="0.4"/>
<line x1="460.60" y1="69.60" x2="460.60" y2="70.80" stroke="#555" stroke-width="0.4"/>
<line x1="473.60" y1="69.60" x2="473.60" y2="70.80" stroke="#555" stroke-width="0.4"/>
<line x1="486.60" y1="69.60" x2="486.60" y2="70.80" stroke="#555" stroke-width="0.4"/>
<line x1="499.60" y1="69.60" x2="499.60" y2="70.80" stroke="#555" stroke-width="0.4"/>
<text transform="translate(467.80,18.20) rotate(0.3)" font-size="5.6" fill="#1a1a1a" stroke="#1a1a1a" stroke-width="0.14"><tspan font-style="italic">TBX21</tspan> (RNA)</text>
<rect x="510.80" y="37.40" width="3.7" height="18.1" fill="url(#cbP)"/>
<text transform="translate(515.40,39.00) rotate(0.3)" font-size="3.3" fill="#444">2.5</text>
<text transform="translate(515.40,41.40) rotate(0.3)" font-size="3.3" fill="#444">2.0</text>
<text transform="translate(515.40,43.80) rotate(0.3)" font-size="3.3" fill="#444">1.5</text>
<text transform="translate(515.40,46.20) rotate(0.3)" font-size="3.3" fill="#444">1.0</text>
<text transform="translate(515.40,48.60) rotate(0.3)" font-size="3.3" fill="#444">0.5</text>
<text transform="translate(515.40,51.00) rotate(0.3)" font-size="3.3" fill="#444">0.0</text>
<text transform="translate(515.40,53.40) rotate(0.3)" font-size="3.3" fill="#444">-0.5</text>
<g transform="translate(230.00,88.30)" fill="none" stroke-width="1.2" stroke-linecap="round">
<use href="#bshM" fill="#f4eaea" opacity="0.5"/>
<use href="#bshS" fill="#d4def0" opacity="0.5"/>
<use href="#bM0" stroke="#d08080"/>
<use href="#bM1" stroke="#e8c0c0"/>
<use href="#bM2" stroke="#ffffff"/>
<use href="#bM3" stroke="#c4b2ba"/>
<use href="#bU0" stroke="#c86464"/>
<use href="#bU1" stroke="#e0a4a4"/>
<use href="#bU2" stroke="#f0dcdc"/>
<use href="#bU3" stroke="#c0a0a8"/>
<use href="#bL0" stroke="#dca8a8"/>
<use href="#bL1" stroke="#ecd4d4"/>
<use href="#bL2" stroke="#ffffff"/>
<use href="#bL3" stroke="#ccc4cc"/>
<use href="#bW0" stroke="#ffffff"/>
<use href="#bW1" stroke="#e8caca"/>
<use href="#bW2" stroke="#f4e4e4"/>
<use href="#bW3" stroke="#d8b4b8"/>
<use href="#bS0" stroke="#5c88cc"/>
<use href="#bS1" stroke="#90b0de"/>
<use href="#bS2" stroke="#b8cce8"/>
<use href="#bS3" stroke="#a8c0e4"/>
<use href="#bB0" stroke="#9ab6de"/>
<use href="#bB1" stroke="#c4d2ea"/>
<use href="#bB2" stroke="#e0b8b8"/>
<use href="#bB3" stroke="#ffffff"/>
</g>
<path d="M230.00,88.30 V137.10 H282.30" fill="none" stroke="#333" stroke-width="0.7"/>
<line x1="228.80" y1="94.30" x2="230.00" y2="94.30" stroke="#555" stroke-width="0.4"/>
<line x1="228.80" y1="106.80" x2="230.00" y2="106.80" stroke="#555" stroke-width="0.4"/>
<line x1="228.80" y1="119.30" x2="230.00" y2="119.30" stroke="#555" stroke-width="0.4"/>
<line x1="228.80" y1="131.80" x2="230.00" y2="131.80" stroke="#555" stroke-width="0.4"/>
<line x1="236.00" y1="137.10" x2="236.00" y2="138.30" stroke="#555" stroke-width="0.4"/>
<line x1="249.00" y1="137.10" x2="249.00" y2="138.30" stroke="#555" stroke-width="0.4"/>
<line x1="262.00" y1="137.10" x2="262.00" y2="138.30" stroke="#555" stroke-width="0.4"/>
<line x1="275.00" y1="137.10" x2="275.00" y2="138.30" stroke="#555" stroke-width="0.4"/>
<text transform="translate(229.80,86.60) rotate(0.3)" font-size="5.15" fill="#1a1a1a" stroke="#1a1a1a" stroke-width="0.14">TCF7 (motif accessibility)</text>
<rect x="284.50" y="103.80" width="4.1" height="18" fill="url(#cbRB)"/>
<text transform="translate(290.10,104.40) rotate(90)" font-size="4.0" fill="#444" text-anchor="middle">2</text>
<text transform="translate(290.10,108.40) rotate(90)" font-size="4.0" fill="#444" text-anchor="middle">1</text>
<text transform="translate(290.10,112.40) rotate(90)" font-size="4.0" fill="#444" text-anchor="middle">0</text>
<text transform="translate(290.10,116.40) rotate(90)" font-size="4.0" fill="#444" text-anchor="middle">−1</text>
<text transform="translate(290.10,120.40) rotate(90)" font-size="4.0" fill="#444" text-anchor="middle">−2</text>
<g transform="translate(305.00,88.30)" fill="none" stroke-width="1.2" stroke-linecap="round">
<use href="#bshM" fill="#f4eaea" opacity="0.5"/>
<use href="#bshS" fill="#d4def0" opacity="0.5"/>
<use href="#bM0" stroke="#cc7a7a"/>
<use href="#bM1" stroke="#e4b8b8"/>
<use href="#bM2" stroke="#ffffff"/>
<use href="#bM3" stroke="#b0bcd8"/>
<use href="#bU0" stroke="#c46060"/>
<use href="#bU1" stroke="#dc9c9c"/>
<use href="#bU2" stroke="#ecd4d4"/>
<use href="#bU3" stroke="#a8b4d4"/>
<use href="#bL0" stroke="#dca8a8"/>
<use href="#bL1" stroke="#ecd4d4"/>
<use href="#bL2" stroke="#ffffff"/>
<use href="#bL3" stroke="#ccc4cc"/>
<use href="#bW0" stroke="#ffffff"/>
<use href="#bW1" stroke="#e8caca"/>
<use href="#bW2" stroke="#f4e4e4"/>
<use href="#bW3" stroke="#d8b4b8"/>
<use href="#bS0" stroke="#6e98d4"/>
<use href="#bS1" stroke="#9ab8e0"/>
<use href="#bS2" stroke="#c0d0ea"/>
<use href="#bS3" stroke="#b4c8e6"/>
<use href="#bB0" stroke="#a0b8dc"/>
<use href="#bB1" stroke="#c4d2ea"/>
<use href="#bB2" stroke="#c4c4d0"/>
<use href="#bB3" stroke="#ffffff"/>
</g>
<path d="M305.00,88.30 V137.10 H357.30" fill="none" stroke="#333" stroke-width="0.7"/>
<line x1="303.80" y1="94.30" x2="305.00" y2="94.30" stroke="#555" stroke-width="0.4"/>
<line x1="303.80" y1="106.80" x2="305.00" y2="106.80" stroke="#555" stroke-width="0.4"/>
<line x1="303.80" y1="119.30" x2="305.00" y2="119.30" stroke="#555" stroke-width="0.4"/>
<line x1="303.80" y1="131.80" x2="305.00" y2="131.80" stroke="#555" stroke-width="0.4"/>
<line x1="311.00" y1="137.10" x2="311.00" y2="138.30" stroke="#555" stroke-width="0.4"/>
<line x1="324.00" y1="137.10" x2="324.00" y2="138.30" stroke="#555" stroke-width="0.4"/>
<line x1="337.00" y1="137.10" x2="337.00" y2="138.30" stroke="#555" stroke-width="0.4"/>
<line x1="350.00" y1="137.10" x2="350.00" y2="138.30" stroke="#555" stroke-width="0.4"/>
<text transform="translate(307.30,86.60) rotate(0.3)" font-size="5.15" fill="#1a1a1a" stroke="#1a1a1a" stroke-width="0.14">LEF1 (motif accessibility)</text>
<rect x="359.50" y="103.80" width="4.1" height="18" fill="url(#cbRB)"/>
<text transform="translate(365.10,104.40) rotate(90)" font-size="4.0" fill="#444" text-anchor="middle">2</text>
<text transform="translate(365.10,108.40) rotate(90)" font-size="4.0" fill="#444" text-anchor="middle">1</text>
<text transform="translate(365.10,112.40) rotate(90)" font-size="4.0" fill="#444" text-anchor="middle">0</text>
<text transform="translate(365.10,116.40) rotate(90)" font-size="4.0" fill="#444" text-anchor="middle">−1</text>
<text transform="translate(365.10,120.40) rotate(90)" font-size="4.0" fill="#444" text-anchor="middle">−2</text>
<g transform="translate(380.00,88.30)" fill="none" stroke-width="1.2" stroke-linecap="round">
<use href="#bshM" fill="#eee8ee" opacity="0.5"/>
<use href="#bshS" fill="#f0ccc4" opacity="0.5"/>
<use href="#bM0" stroke="#a48ca0"/>
<use href="#bM1" stroke="#d0bece"/>
<use href="#bM2" stroke="#ffffff"/>
<use href="#bM3" stroke="#bca8b8"/>
<use href="#bU0" stroke="#a07484"/>
<use href="#bU1" stroke="#c8aab8"/>
<use href="#bU2" stroke="#e4d4dc"/>
<use href="#bU3" stroke="#b89aa8"/>
<use href="#bL0" stroke="#b4a4b6"/>
<use href="#bL1" stroke="#d8ccd8"/>
<use href="#bL2" stroke="#ffffff"/>
<use href="#bL3" stroke="#c8bccc"/>
<use href="#bW0" stroke="#ffffff"/>
<use href="#bW1" stroke="#d8c4d0"/>
<use href="#bW2" stroke="#ece2e8"/>
<use href="#bW3" stroke="#c8b4c2"/>
<use href="#bS0" stroke="#d87468"/>
<use href="#bS1" stroke="#e6a298"/>
<use href="#bS2" stroke="#f0c4bc"/>
<use href="#bS3" stroke="#dc8c80"/>
<use href="#bB0" stroke="#e0a496"/>
<use href="#bB1" stroke="#eccac2"/>
<use href="#bB2" stroke="#ffffff"/>
<use href="#bB3" stroke="#c4b2c4"/>
</g>
<path d="M380.00,88.30 V137.10 H432.30" fill="none" stroke="#333" stroke-width="0.7"/>
<line x1="378.80" y1="94.30" x2="380.00" y2="94.30" stroke="#555" stroke-width="0.4"/>
<line x1="378.80" y1="106.80" x2="380.00" y2="106.80" stroke="#555" stroke-width="0.4"/>
<line x1="378.80" y1="119.30" x2="380.00" y2="119.30" stroke="#555" stroke-width="0.4"/>
<line x1="378.80" y1="131.80" x2="380.00" y2="131.80" stroke="#555" stroke-width="0.4"/>
<line x1="386.00" y1="137.10" x2="386.00" y2="138.30" stroke="#555" stroke-width="0.4"/>
<line x1="399.00" y1="137.10" x2="399.00" y2="138.30" stroke="#555" stroke-width="0.4"/>
<line x1="412.00" y1="137.10" x2="412.00" y2="138.30" stroke="#555" stroke-width="0.4"/>
<line x1="425.00" y1="137.10" x2="425.00" y2="138.30" stroke="#555" stroke-width="0.4"/>
<text transform="translate(379.90,86.60) rotate(0.3)" font-size="5.15" fill="#1a1a1a" stroke="#1a1a1a" stroke-width="0.14">PRDM1 (motif accessibility)</text>
<rect x="434.50" y="103.80" width="4.1" height="18" fill="url(#cbRB)"/>
<text transform="translate(440.10,104.40) rotate(90)" font-size="4.0" fill="#444" text-anchor="middle">2</text>
<text transform="translate(440.10,108.40) rotate(90)" font-size="4.0" fill="#444" text-anchor="middle">1</text>
<text transform="translate(440.10,112.40) rotate(90)" font-size="4.0" fill="#444" text-anchor="middle">0</text>
<text transform="translate(440.10,116.40) rotate(90)" font-size="4.0" fill="#444" text-anchor="middle">−1</text>
<text transform="translate(440.10,120.40) rotate(90)" font-size="4.0" fill="#444" text-anchor="middle">−2</text>
<g transform="translate(455.00,88.30)" fill="none" stroke-width="1.2" stroke-linecap="round">
<use href="#bshM" fill="#eef2f8" opacity="0.5"/>
<use href="#bshS" fill="#f0b8ac" opacity="0.5"/>
<use href="#bM0" stroke="#94b0d8"/>
<use href="#bM1" stroke="#c0d2ea"/>
<use href="#bM2" stroke="#ffffff"/>
<use href="#bM3" stroke="#c8b8c4"/>
<use href="#bU0" stroke="#c8a0a8"/>
<use href="#bU1" stroke="#e0ccd4"/>
<use href="#bU2" stroke="#eeeaf0"/>
<use href="#bU3" stroke="#b0c2de"/>
<use href="#bL0" stroke="#88a8d6"/>
<use href="#bL1" stroke="#b8cce8"/>
<use href="#bL2" stroke="#ffffff"/>
<use href="#bL3" stroke="#a4bce0"/>
<use href="#bW0" stroke="#ffffff"/>
<use href="#bW1" stroke="#c8d6ea"/>
<use href="#bW2" stroke="#e8eef6"/>
<use href="#bW3" stroke="#b8c8e2"/>
<use href="#bS0" stroke="#d84434"/>
<use href="#bS1" stroke="#e87464"/>
<use href="#bS2" stroke="#f0a494"/>
<use href="#bS3" stroke="#dc5444"/>
<use href="#bB0" stroke="#e07464"/>
<use href="#bB1" stroke="#eeb0a2"/>
<use href="#bB2" stroke="#ffffff"/>
<use href="#bB3" stroke="#c4cee4"/>
</g>
<path d="M455.00,88.30 V137.10 H507.30" fill="none" stroke="#333" stroke-width="0.7"/>
<line x1="453.80" y1="94.30" x2="455.00" y2="94.30" stroke="#555" stroke-width="0.4"/>
<line x1="453.80" y1="106.80" x2="455.00" y2="106.80" stroke="#555" stroke-width="0.4"/>
<line x1="453.80" y1="119.30" x2="455.00" y2="119.30" stroke="#555" stroke-width="0.4"/>
<line x1="453.80" y1="131.80" x2="455.00" y2="131.80" stroke="#555" stroke-width="0.4"/>
<line x1="461.00" y1="137.10" x2="461.00" y2="138.30" stroke="#555" stroke-width="0.4"/>
<line x1="474.00" y1="137.10" x2="474.00" y2="138.30" stroke="#555" stroke-width="0.4"/>
<line x1="487.00" y1="137.10" x2="487.00" y2="138.30" stroke="#555" stroke-width="0.4"/>
<line x1="500.00" y1="137.10" x2="500.00" y2="138.30" stroke="#555" stroke-width="0.4"/>
<text transform="translate(454.40,86.60) rotate(0.3)" font-size="5.15" fill="#1a1a1a" stroke="#1a1a1a" stroke-width="0.14">TBX21 (motif accessibility)</text>
<rect x="509.50" y="103.80" width="4.1" height="18" fill="url(#cbRB)"/>
<text transform="translate(515.10,104.40) rotate(90)" font-size="4.0" fill="#444" text-anchor="middle">2</text>
<text transform="translate(515.10,108.40) rotate(90)" font-size="4.0" fill="#444" text-anchor="middle">1</text>
<text transform="translate(515.10,112.40) rotate(90)" font-size="4.0" fill="#444" text-anchor="middle">0</text>
<text transform="translate(515.10,116.40) rotate(90)" font-size="4.0" fill="#444" text-anchor="middle">−1</text>
<text transform="translate(515.10,120.40) rotate(90)" font-size="4.0" fill="#444" text-anchor="middle">−2</text>
<path d="M227.30,68.30 V75.60 H234.30" fill="none" stroke="#111" stroke-width="1"/>
<path d="M233.80,73.90 L236.30,75.60 L233.80,77.30 Z" fill="#111"/>
<path d="M225.70,69.10 L227.30,66.50 L228.90,69.10 Z" fill="#111"/>
<text transform="translate(238.80,77.50) rotate(0.3)" font-size="5.4" fill="#333">UMAP 1</text>
<text transform="translate(226.00,57.30) rotate(-90)" font-size="4.6" fill="#333" text-anchor="middle">UMAP 2</text>
<path d="M226.90,135.80 V143.10 H233.90" fill="none" stroke="#111" stroke-width="1"/>
<path d="M233.40,141.40 L235.90,143.10 L233.40,144.80 Z" fill="#111"/>
<path d="M225.30,136.60 L226.90,134.00 L228.50,136.60 Z" fill="#111"/>
<text transform="translate(238.40,145.00) rotate(0.3)" font-size="5.4" fill="#333">UMAP 1</text>
<text transform="translate(225.60,124.80) rotate(-90)" font-size="4.6" fill="#333" text-anchor="middle">UMAP 2</text>
<rect x="285.7" y="163" width="3.90" height="192" fill="#dcdcdc" opacity="0.85"/>
<rect x="296.1" y="163" width="3.20" height="192" fill="#dcdcdc" opacity="0.85"/>
<rect x="334.0" y="163" width="2.30" height="192" fill="#dcdcdc" opacity="0.85"/>
<rect x="363.5" y="163" width="2.80" height="192" fill="#dcdcdc" opacity="0.85"/>
<line x1="270.6" y1="163.5" x2="270.6" y2="354.5" stroke="#e6b4b4" stroke-width="0.6"/>
<line x1="270.6" y1="195.1" x2="470.0" y2="195.1" stroke="#5b3f8e" stroke-width="1.0"/>
<path d="M394.4,195.1 L395.2,194.1 L396.0,195.1 Z" fill="#5b3f8e"/>
<path d="M427.7,195.1 L428.5,193.9 L429.3,195.1 Z" fill="#5b3f8e"/>
<path d="M417.0,195.1 L417.8,194.0 L418.6,195.1 Z" fill="#5b3f8e"/>
<path d="M279.8,195.1 L280.6,194.3 L281.4,195.1 Z" fill="#5b3f8e"/>
<path d="M456.3,195.1 L457.1,194.2 L457.9,195.1 Z" fill="#5b3f8e"/>
<path d="M448.1,195.1 L448.9,194.6 L449.7,195.1 Z" fill="#5b3f8e"/>
<path d="M364.7,195.1 L365.5,194.5 L366.3,195.1 Z" fill="#5b3f8e"/>
<path d="M379.1,195.1 L379.9,194.2 L380.7,195.1 Z" fill="#5b3f8e"/>
<path d="M276.7,195.1 L277.5,194.5 L278.3,195.1 Z" fill="#5b3f8e"/>
<path d="M328.1,195.1 L328.9,194.0 L329.7,195.1 Z" fill="#5b3f8e"/>
<path d="M422.0,195.1 L422.8,194.6 L423.6,195.1 Z" fill="#5b3f8e"/>
<path d="M428.0,195.1 L428.8,194.6 L429.6,195.1 Z" fill="#5b3f8e"/>
<path d="M393.4,195.1 L394.2,194.6 L395.0,195.1 Z" fill="#5b3f8e"/>
<path d="M274.5,195.1 L275.3,194.0 L276.1,195.1 Z" fill="#5b3f8e"/>
<path d="M314.6,195.1 L315.4,194.5 L316.2,195.1 Z" fill="#5b3f8e"/>
<path d="M463.8,195.1 L464.6,194.0 L465.4,195.1 Z" fill="#5b3f8e"/>
<path d="M330.0,195.1 L330.8,193.9 L331.6,195.1 Z" fill="#5b3f8e"/>
<path d="M378.3,195.1 L379.1,194.2 L379.9,195.1 Z" fill="#5b3f8e"/>
<path d="M313.7,195.1 L314.5,193.9 L315.3,195.1 Z" fill="#5b3f8e"/>
<path d="M407.5,195.1 L408.3,193.9 L409.1,195.1 Z" fill="#5b3f8e"/>
<path d="M446.7,195.1 L447.5,194.5 L448.3,195.1 Z" fill="#5b3f8e"/>
<path d="M343.9,195.1 L344.7,194.6 L345.5,195.1 Z" fill="#5b3f8e"/>
<path d="M302.3,195.1 L303.1,194.6 L303.9,195.1 Z" fill="#5b3f8e"/>
<path d="M332.4,195.1 L333.2,194.2 L334.0,195.1 Z" fill="#5b3f8e"/>
<path d="M274.9,195.1 L275.7,194.2 L276.5,195.1 Z" fill="#5b3f8e"/>
<path d="M285.60,195.1 L286.65,191.25 L287.00,188.10 L287.35,191.25 L288.40,195.1 Z" fill="#5b3f8e"/>
<path d="M296.60,195.1 L297.65,191.80 L298.00,189.10 L298.35,191.80 L299.40,195.1 Z" fill="#5b3f8e"/>
<path d="M323.90,195.1 L324.65,193.45 L325.00,192.10 L325.35,193.45 L326.10,195.1 Z" fill="#5b3f8e"/>
<path d="M327.90,195.1 L328.65,193.72 L329.00,192.60 L329.35,193.72 L330.10,195.1 Z" fill="#5b3f8e"/>
<path d="M332.90,195.1 L333.65,193.72 L334.00,192.60 L334.35,193.72 L335.10,195.1 Z" fill="#5b3f8e"/>
<path d="M355.90,195.1 L356.65,194.00 L357.00,193.10 L357.35,194.00 L358.10,195.1 Z" fill="#5b3f8e"/>
<path d="M363.20,195.1 L364.25,189.05 L364.60,184.10 L364.95,189.05 L366.00,195.1 Z" fill="#5b3f8e"/>
<path d="M365.90,195.1 L366.65,192.90 L367.00,191.10 L367.35,192.90 L368.10,195.1 Z" fill="#5b3f8e"/>
<path d="M386.60,195.1 L387.35,192.35 L387.70,190.10 L388.05,192.35 L388.80,195.1 Z" fill="#5b3f8e"/>
<path d="M391.90,195.1 L392.65,194.55 L393.00,194.10 L393.35,194.55 L394.10,195.1 Z" fill="#5b3f8e"/>
<path d="M405.90,195.1 L406.65,194.00 L407.00,193.10 L407.35,194.00 L408.10,195.1 Z" fill="#5b3f8e"/>
<path d="M414.00,195.1 L415.05,187.40 L415.40,181.10 L415.75,187.40 L416.80,195.1 Z" fill="#5b3f8e"/>
<path d="M427.90,195.1 L428.65,194.55 L429.00,194.10 L429.35,194.55 L430.10,195.1 Z" fill="#5b3f8e"/>
<path d="M436.90,195.1 L437.65,194.55 L438.00,194.10 L438.35,194.55 L439.10,195.1 Z" fill="#5b3f8e"/>
<path d="M451.90,195.1 L452.65,193.45 L453.00,192.10 L453.35,193.45 L454.10,195.1 Z" fill="#5b3f8e"/>
<text transform="translate(264.4,195.3) rotate(0.3)" font-size="5" fill="#5b3f8e">0</text>
<text transform="translate(262.8,174.9) rotate(0.3)" font-size="5" fill="#5b3f8e">25</text>
<line x1="269.1" y1="173.3" x2="270.6" y2="173.3" stroke="#5b3f8e" stroke-width="0.4"/>
<text transform="translate(233.4,184.9) rotate(0.3)" font-size="6.3" fill="#5e4c98" stroke="#5e4c98" stroke-width="0.12">CD8<tspan baseline-shift="super" font-size="3.8">+</tspan> T<tspan baseline-shift="sub" font-size="3.8">N</tspan></text>
<line x1="272.6" y1="220.0" x2="275.0" y2="220.0" stroke="#2d6f9f" stroke-width="0.9"/>
<line x1="276.9" y1="220.0" x2="281.2" y2="220.0" stroke="#2d6f9f" stroke-width="0.9"/>
<line x1="283.6" y1="220.0" x2="285.9" y2="220.0" stroke="#2d6f9f" stroke-width="0.9"/>
<line x1="288.3" y1="220.0" x2="292.1" y2="220.0" stroke="#2d6f9f" stroke-width="0.9"/>
<line x1="293.3" y1="220.0" x2="298.2" y2="220.0" stroke="#2d6f9f" stroke-width="0.9"/>
<line x1="299.3" y1="220.0" x2="303.3" y2="220.0" stroke="#2d6f9f" stroke-width="0.9"/>
<line x1="306.8" y1="220.0" x2="307.9" y2="220.0" stroke="#2d6f9f" stroke-width="0.9"/>
<line x1="311.2" y1="220.0" x2="313.7" y2="220.0" stroke="#2d6f9f" stroke-width="0.9"/>
<line x1="316.4" y1="220.0" x2="317.5" y2="220.0" stroke="#2d6f9f" stroke-width="0.9"/>
<line x1="318.6" y1="220.0" x2="320.3" y2="220.0" stroke="#2d6f9f" stroke-width="0.9"/>
<line x1="324.2" y1="220.0" x2="326.0" y2="220.0" stroke="#2d6f9f" stroke-width="0.9"/>
<line x1="329.3" y1="220.0" x2="334.0" y2="220.0" stroke="#2d6f9f" stroke-width="0.9"/>
<line x1="337.8" y1="220.0" x2="340.2" y2="220.0" stroke="#2d6f9f" stroke-width="0.9"/>
<line x1="342.2" y1="220.0" x2="345.3" y2="220.0" stroke="#2d6f9f" stroke-width="0.9"/>
<line x1="348.7" y1="220.0" x2="350.1" y2="220.0" stroke="#2d6f9f" stroke-width="0.9"/>
<line x1="353.3" y1="220.0" x2="357.5" y2="220.0" stroke="#2d6f9f" stroke-width="0.9"/>
<line x1="361.1" y1="220.0" x2="362.0" y2="220.0" stroke="#2d6f9f" stroke-width="0.9"/>
<line x1="362" y1="220.0" x2="470.0" y2="220.0" stroke="#2d6f9f" stroke-width="0.9"/>
<path d="M291.8,220.0 L292.6,219.3 L293.4,220.0 Z" fill="#2d6f9f"/>
<path d="M392.1,220.0 L392.9,218.9 L393.7,220.0 Z" fill="#2d6f9f"/>
<path d="M339.8,220.0 L340.6,218.9 L341.4,220.0 Z" fill="#2d6f9f"/>
<path d="M379.4,220.0 L380.2,219.4 L381.0,220.0 Z" fill="#2d6f9f"/>
<path d="M335.3,220.0 L336.1,219.5 L336.9,220.0 Z" fill="#2d6f9f"/>
<path d="M289.3,220.0 L290.1,219.5 L290.9,220.0 Z" fill="#2d6f9f"/>
<path d="M407.2,220.0 L408.0,218.8 L408.8,220.0 Z" fill="#2d6f9f"/>
<path d="M305.4,220.0 L306.2,219.6 L307.0,220.0 Z" fill="#2d6f9f"/>
<path d="M464.6,220.0 L465.4,219.2 L466.2,220.0 Z" fill="#2d6f9f"/>
<path d="M352.5,220.0 L353.3,219.4 L354.1,220.0 Z" fill="#2d6f9f"/>
<path d="M388.8,220.0 L389.6,218.9 L390.4,220.0 Z" fill="#2d6f9f"/>
<path d="M362.1,220.0 L362.9,219.3 L363.7,220.0 Z" fill="#2d6f9f"/>
<path d="M285.0,220.0 L285.8,218.9 L286.6,220.0 Z" fill="#2d6f9f"/>
<path d="M280.5,220.0 L281.3,219.2 L282.1,220.0 Z" fill="#2d6f9f"/>
<path d="M436.0,220.0 L436.8,219.5 L437.6,220.0 Z" fill="#2d6f9f"/>
<path d="M415.4,220.0 L416.2,218.8 L417.0,220.0 Z" fill="#2d6f9f"/>
<path d="M395.9,220.0 L396.7,219.0 L397.5,220.0 Z" fill="#2d6f9f"/>
<path d="M294.8,220.0 L295.6,219.3 L296.4,220.0 Z" fill="#2d6f9f"/>
<path d="M303.0,220.0 L303.8,218.9 L304.6,220.0 Z" fill="#2d6f9f"/>
<path d="M331.1,220.0 L331.9,219.2 L332.7,220.0 Z" fill="#2d6f9f"/>
<path d="M467.1,220.0 L467.9,218.9 L468.7,220.0 Z" fill="#2d6f9f"/>
<path d="M462.6,220.0 L463.4,219.2 L464.2,220.0 Z" fill="#2d6f9f"/>
<path d="M368.4,220.0 L369.2,219.0 L370.0,220.0 Z" fill="#2d6f9f"/>
<path d="M366.7,220.0 L367.5,219.4 L368.3,220.0 Z" fill="#2d6f9f"/>
<path d="M352.1,220.0 L352.9,219.5 L353.7,220.0 Z" fill="#2d6f9f"/>
<path d="M285.60,220.0 L286.65,215.60 L287.00,212.00 L287.35,215.60 L288.40,220.0 Z" fill="#2d6f9f"/>
<path d="M296.90,220.0 L297.65,217.25 L298.00,215.00 L298.35,217.25 L299.10,220.0 Z" fill="#2d6f9f"/>
<path d="M323.90,220.0 L324.65,217.80 L325.00,216.00 L325.35,217.80 L326.10,220.0 Z" fill="#2d6f9f"/>
<path d="M327.90,220.0 L328.65,218.35 L329.00,217.00 L329.35,218.35 L330.10,220.0 Z" fill="#2d6f9f"/>
<path d="M332.90,220.0 L333.65,218.35 L334.00,217.00 L334.35,218.35 L335.10,220.0 Z" fill="#2d6f9f"/>
<path d="M353.90,220.0 L354.65,218.90 L355.00,218.00 L355.35,218.90 L356.10,220.0 Z" fill="#2d6f9f"/>
<path d="M358.90,220.0 L359.65,218.35 L360.00,217.00 L360.35,218.35 L361.10,220.0 Z" fill="#2d6f9f"/>
<path d="M363.20,220.0 L364.25,215.05 L364.60,211.00 L364.95,215.05 L366.00,220.0 Z" fill="#2d6f9f"/>
<path d="M365.90,220.0 L366.65,218.35 L367.00,217.00 L367.35,218.35 L368.10,220.0 Z" fill="#2d6f9f"/>
<path d="M386.30,220.0 L387.35,216.70 L387.70,214.00 L388.05,216.70 L389.10,220.0 Z" fill="#2d6f9f"/>
<path d="M398.90,220.0 L399.65,219.45 L400.00,219.00 L400.35,219.45 L401.10,220.0 Z" fill="#2d6f9f"/>
<path d="M405.90,220.0 L406.65,219.18 L407.00,218.50 L407.35,219.18 L408.10,220.0 Z" fill="#2d6f9f"/>
<path d="M414.00,220.0 L415.05,211.75 L415.40,205.00 L415.75,211.75 L416.80,220.0 Z" fill="#2d6f9f"/>
<path d="M438.90,220.0 L439.65,218.90 L440.00,218.00 L440.35,218.90 L441.10,220.0 Z" fill="#2d6f9f"/>
<path d="M451.90,220.0 L452.65,217.80 L453.00,216.00 L453.35,217.80 L454.10,220.0 Z" fill="#2d6f9f"/>
<text transform="translate(264.4,220.2) rotate(0.3)" font-size="5" fill="#2d6f9f">0</text>
<text transform="translate(262.8,199.8) rotate(0.3)" font-size="5" fill="#2d6f9f">25</text>
<line x1="269.1" y1="198.2" x2="270.6" y2="198.2" stroke="#2d6f9f" stroke-width="0.4"/>
<text transform="translate(233.4,209.8) rotate(0.3)" font-size="6.3" fill="#3a86b0" stroke="#3a86b0" stroke-width="0.12">CD8<tspan baseline-shift="super" font-size="3.8">+</tspan> T<tspan baseline-shift="sub" font-size="3.8">SCM</tspan></text>
<line x1="272.6" y1="245.0" x2="275.1" y2="245.0" stroke="#2e9e82" stroke-width="0.9"/>
<line x1="279.1" y1="245.0" x2="283.9" y2="245.0" stroke="#2e9e82" stroke-width="0.9"/>
<line x1="286.8" y1="245.0" x2="289.8" y2="245.0" stroke="#2e9e82" stroke-width="0.9"/>
<line x1="291.8" y1="245.0" x2="293.2" y2="245.0" stroke="#2e9e82" stroke-width="0.9"/>
<line x1="295.0" y1="245.0" x2="299.1" y2="245.0" stroke="#2e9e82" stroke-width="0.9"/>
<line x1="302.7" y1="245.0" x2="305.2" y2="245.0" stroke="#2e9e82" stroke-width="0.9"/>
<line x1="308.5" y1="245.0" x2="312.6" y2="245.0" stroke="#2e9e82" stroke-width="0.9"/>
<line x1="315.7" y1="245.0" x2="319.4" y2="245.0" stroke="#2e9e82" stroke-width="0.9"/>
<line x1="322.6" y1="245.0" x2="325.1" y2="245.0" stroke="#2e9e82" stroke-width="0.9"/>
<line x1="328.2" y1="245.0" x2="330.3" y2="245.0" stroke="#2e9e82" stroke-width="0.9"/>
<line x1="332.8" y1="245.0" x2="336.9" y2="245.0" stroke="#2e9e82" stroke-width="0.9"/>
<line x1="339.9" y1="245.0" x2="342.1" y2="245.0" stroke="#2e9e82" stroke-width="0.9"/>
<line x1="345.9" y1="245.0" x2="349.5" y2="245.0" stroke="#2e9e82" stroke-width="0.9"/>
<line x1="352.3" y1="245.0" x2="353.3" y2="245.0" stroke="#2e9e82" stroke-width="0.9"/>
<line x1="356.0" y1="245.0" x2="358.0" y2="245.0" stroke="#2e9e82" stroke-width="0.9"/>
<line x1="361.0" y1="245.0" x2="362.0" y2="245.0" stroke="#2e9e82" stroke-width="0.9"/>
<line x1="362" y1="245.0" x2="470.0" y2="245.0" stroke="#2e9e82" stroke-width="0.9"/>
<path d="M399.2,245.0 L400.0,244.0 L400.8,245.0 Z" fill="#2e9e82"/>
<path d="M341.3,245.0 L342.1,244.1 L342.9,245.0 Z" fill="#2e9e82"/>
<path d="M416.6,245.0 L417.4,243.9 L418.2,245.0 Z" fill="#2e9e82"/>
<path d="M341.8,245.0 L342.6,243.9 L343.4,245.0 Z" fill="#2e9e82"/>
<path d="M442.1,245.0 L442.9,244.0 L443.7,245.0 Z" fill="#2e9e82"/>
<path d="M462.6,245.0 L463.4,243.8 L464.2,245.0 Z" fill="#2e9e82"/>
<path d="M374.2,245.0 L375.0,244.2 L375.8,245.0 Z" fill="#2e9e82"/>
<path d="M306.3,245.0 L307.1,243.9 L307.9,245.0 Z" fill="#2e9e82"/>
<path d="M455.1,245.0 L455.9,244.2 L456.7,245.0 Z" fill="#2e9e82"/>
<path d="M407.6,245.0 L408.4,244.0 L409.2,245.0 Z" fill="#2e9e82"/>
<path d="M415.2,245.0 L416.0,244.5 L416.8,245.0 Z" fill="#2e9e82"/>
<path d="M424.8,245.0 L425.6,244.1 L426.4,245.0 Z" fill="#2e9e82"/>
<path d="M402.7,245.0 L403.5,244.3 L404.3,245.0 Z" fill="#2e9e82"/>
<path d="M394.6,245.0 L395.4,244.0 L396.2,245.0 Z" fill="#2e9e82"/>
<path d="M397.1,245.0 L397.9,244.0 L398.7,245.0 Z" fill="#2e9e82"/>
<path d="M279.5,245.0 L280.3,244.5 L281.1,245.0 Z" fill="#2e9e82"/>
<path d="M359.3,245.0 L360.1,244.1 L360.9,245.0 Z" fill="#2e9e82"/>
<path d="M316.5,245.0 L317.3,244.1 L318.1,245.0 Z" fill="#2e9e82"/>
<path d="M396.0,245.0 L396.8,244.6 L397.6,245.0 Z" fill="#2e9e82"/>
<path d="M365.2,245.0 L366.0,244.4 L366.8,245.0 Z" fill="#2e9e82"/>
<path d="M284.6,245.0 L285.4,244.5 L286.2,245.0 Z" fill="#2e9e82"/>
<path d="M335.4,245.0 L336.2,244.5 L337.0,245.0 Z" fill="#2e9e82"/>
<path d="M311.5,245.0 L312.3,244.6 L313.1,245.0 Z" fill="#2e9e82"/>
<path d="M364.0,245.0 L364.8,244.3 L365.6,245.0 Z" fill="#2e9e82"/>
<path d="M392.3,245.0 L393.1,244.1 L393.9,245.0 Z" fill="#2e9e82"/>
<path d="M285.90,245.0 L286.65,243.35 L287.00,242.00 L287.35,243.35 L288.10,245.0 Z" fill="#2e9e82"/>
<path d="M296.90,245.0 L297.65,243.90 L298.00,243.00 L298.35,243.90 L299.10,245.0 Z" fill="#2e9e82"/>
<path d="M323.90,245.0 L324.65,243.07 L325.00,241.50 L325.35,243.07 L326.10,245.0 Z" fill="#2e9e82"/>
<path d="M327.90,245.0 L328.65,243.35 L329.00,242.00 L329.35,243.35 L330.10,245.0 Z" fill="#2e9e82"/>
<path d="M355.90,245.0 L356.65,243.90 L357.00,243.00 L357.35,243.90 L358.10,245.0 Z" fill="#2e9e82"/>
<path d="M358.90,245.0 L359.65,242.80 L360.00,241.00 L360.35,242.80 L361.10,245.0 Z" fill="#2e9e82"/>
<path d="M363.20,245.0 L364.25,240.82 L364.60,237.40 L364.95,240.82 L366.00,245.0 Z" fill="#2e9e82"/>
<path d="M365.90,245.0 L366.65,243.90 L367.00,243.00 L367.35,243.90 L368.10,245.0 Z" fill="#2e9e82"/>
<path d="M386.60,245.0 L387.35,242.80 L387.70,241.00 L388.05,242.80 L388.80,245.0 Z" fill="#2e9e82"/>
<path d="M405.90,245.0 L406.65,244.18 L407.00,243.50 L407.35,244.18 L408.10,245.0 Z" fill="#2e9e82"/>
<path d="M414.00,245.0 L415.05,239.78 L415.40,235.50 L415.75,239.78 L416.80,245.0 Z" fill="#2e9e82"/>
<path d="M451.90,245.0 L452.65,243.62 L453.00,242.50 L453.35,243.62 L454.10,245.0 Z" fill="#2e9e82"/>
<text transform="translate(264.4,245.2) rotate(0.3)" font-size="5" fill="#2e9e82">0</text>
<text transform="translate(262.8,224.8) rotate(0.3)" font-size="5" fill="#2e9e82">25</text>
<line x1="269.1" y1="223.2" x2="270.6" y2="223.2" stroke="#2e9e82" stroke-width="0.4"/>
<text transform="translate(233.4,234.8) rotate(0.3)" font-size="6.3" fill="#2f9e84" stroke="#2f9e84" stroke-width="0.12">CD8<tspan baseline-shift="super" font-size="3.8">+</tspan> T<tspan baseline-shift="sub" font-size="3.8">CM</tspan></text>
<line x1="272.6" y1="269.5" x2="274.6" y2="269.5" stroke="#ee9a3e" stroke-width="0.9"/>
<line x1="278.3" y1="269.5" x2="279.3" y2="269.5" stroke="#ee9a3e" stroke-width="0.9"/>
<line x1="281.5" y1="269.5" x2="283.6" y2="269.5" stroke="#ee9a3e" stroke-width="0.9"/>
<line x1="285.8" y1="269.5" x2="287.3" y2="269.5" stroke="#ee9a3e" stroke-width="0.9"/>
<line x1="290.8" y1="269.5" x2="293.3" y2="269.5" stroke="#ee9a3e" stroke-width="0.9"/>
<line x1="294.4" y1="269.5" x2="297.8" y2="269.5" stroke="#ee9a3e" stroke-width="0.9"/>
<line x1="299.1" y1="269.5" x2="302.3" y2="269.5" stroke="#ee9a3e" stroke-width="0.9"/>
<line x1="304.3" y1="269.5" x2="307.6" y2="269.5" stroke="#ee9a3e" stroke-width="0.9"/>
<line x1="311.5" y1="269.5" x2="315.8" y2="269.5" stroke="#ee9a3e" stroke-width="0.9"/>
<line x1="318.0" y1="269.5" x2="322.3" y2="269.5" stroke="#ee9a3e" stroke-width="0.9"/>
<line x1="325.2" y1="269.5" x2="327.7" y2="269.5" stroke="#ee9a3e" stroke-width="0.9"/>
<line x1="329.1" y1="269.5" x2="332.5" y2="269.5" stroke="#ee9a3e" stroke-width="0.9"/>
<line x1="335.2" y1="269.5" x2="340.0" y2="269.5" stroke="#ee9a3e" stroke-width="0.9"/>
<line x1="343.9" y1="269.5" x2="347.4" y2="269.5" stroke="#ee9a3e" stroke-width="0.9"/>
<line x1="349.4" y1="269.5" x2="354.0" y2="269.5" stroke="#ee9a3e" stroke-width="0.9"/>
<line x1="355.0" y1="269.5" x2="356.4" y2="269.5" stroke="#ee9a3e" stroke-width="0.9"/>
<line x1="359.1" y1="269.5" x2="362.0" y2="269.5" stroke="#ee9a3e" stroke-width="0.9"/>
<line x1="362" y1="269.5" x2="470.0" y2="269.5" stroke="#ee9a3e" stroke-width="0.9"/>
<path d="M395.7,269.5 L396.5,268.4 L397.3,269.5 Z" fill="#ee9a3e"/>
<path d="M346.7,269.5 L347.5,268.8 L348.3,269.5 Z" fill="#ee9a3e"/>
<path d="M317.9,269.5 L318.7,268.9 L319.5,269.5 Z" fill="#ee9a3e"/>
<path d="M461.9,269.5 L462.7,268.8 L463.5,269.5 Z" fill="#ee9a3e"/>
<path d="M459.7,269.5 L460.5,268.4 L461.3,269.5 Z" fill="#ee9a3e"/>
<path d="M389.2,269.5 L390.0,268.9 L390.8,269.5 Z" fill="#ee9a3e"/>
<path d="M463.5,269.5 L464.3,268.7 L465.1,269.5 Z" fill="#ee9a3e"/>
<path d="M354.4,269.5 L355.2,268.8 L356.0,269.5 Z" fill="#ee9a3e"/>
<path d="M464.2,269.5 L465.0,268.7 L465.8,269.5 Z" fill="#ee9a3e"/>
<path d="M329.5,269.5 L330.3,268.7 L331.1,269.5 Z" fill="#ee9a3e"/>
<path d="M297.7,269.5 L298.5,268.6 L299.3,269.5 Z" fill="#ee9a3e"/>
<path d="M359.8,269.5 L360.6,268.9 L361.4,269.5 Z" fill="#ee9a3e"/>
<path d="M425.1,269.5 L425.9,268.4 L426.7,269.5 Z" fill="#ee9a3e"/>
<path d="M276.7,269.5 L277.5,268.7 L278.3,269.5 Z" fill="#ee9a3e"/>
<path d="M327.0,269.5 L327.8,268.4 L328.6,269.5 Z" fill="#ee9a3e"/>
<path d="M425.1,269.5 L425.9,268.9 L426.7,269.5 Z" fill="#ee9a3e"/>
<path d="M325.9,269.5 L326.7,269.0 L327.5,269.5 Z" fill="#ee9a3e"/>
<path d="M465.0,269.5 L465.8,268.9 L466.6,269.5 Z" fill="#ee9a3e"/>
<path d="M391.6,269.5 L392.4,268.7 L393.2,269.5 Z" fill="#ee9a3e"/>
<path d="M398.7,269.5 L399.5,268.6 L400.3,269.5 Z" fill="#ee9a3e"/>
<path d="M417.7,269.5 L418.5,269.0 L419.3,269.5 Z" fill="#ee9a3e"/>
<path d="M421.0,269.5 L421.8,268.9 L422.6,269.5 Z" fill="#ee9a3e"/>
<path d="M377.2,269.5 L378.0,268.8 L378.8,269.5 Z" fill="#ee9a3e"/>
<path d="M331.5,269.5 L332.3,268.7 L333.1,269.5 Z" fill="#ee9a3e"/>
<path d="M363.8,269.5 L364.6,268.8 L365.4,269.5 Z" fill="#ee9a3e"/>
<path d="M285.90,269.5 L286.65,267.30 L287.00,265.50 L287.35,267.30 L288.10,269.5 Z" fill="#ee9a3e"/>
<path d="M296.90,269.5 L297.65,268.40 L298.00,267.50 L298.35,268.40 L299.10,269.5 Z" fill="#ee9a3e"/>
<path d="M323.90,269.5 L324.65,267.85 L325.00,266.50 L325.35,267.85 L326.10,269.5 Z" fill="#ee9a3e"/>
<path d="M327.90,269.5 L328.65,268.40 L329.00,267.50 L329.35,268.40 L330.10,269.5 Z" fill="#ee9a3e"/>
<path d="M355.90,269.5 L356.65,268.40 L357.00,267.50 L357.35,268.40 L358.10,269.5 Z" fill="#ee9a3e"/>
<path d="M358.90,269.5 L359.65,267.30 L360.00,265.50 L360.35,267.30 L361.10,269.5 Z" fill="#ee9a3e"/>
<path d="M363.20,269.5 L364.25,266.20 L364.60,263.50 L364.95,266.20 L366.00,269.5 Z" fill="#ee9a3e"/>
<path d="M365.90,269.5 L366.65,267.85 L367.00,266.50 L367.35,267.85 L368.10,269.5 Z" fill="#ee9a3e"/>
<path d="M386.60,269.5 L387.35,267.30 L387.70,265.50 L388.05,267.30 L388.80,269.5 Z" fill="#ee9a3e"/>
<path d="M405.90,269.5 L406.65,268.40 L407.00,267.50 L407.35,268.40 L408.10,269.5 Z" fill="#ee9a3e"/>
<path d="M414.00,269.5 L415.05,264.00 L415.40,259.50 L415.75,264.00 L416.80,269.5 Z" fill="#ee9a3e"/>
<path d="M451.90,269.5 L452.65,267.85 L453.00,266.50 L453.35,267.85 L454.10,269.5 Z" fill="#ee9a3e"/>
<text transform="translate(264.4,269.7) rotate(0.3)" font-size="5" fill="#ee9a3e">0</text>
<text transform="translate(262.8,249.3) rotate(0.3)" font-size="5" fill="#ee9a3e">25</text>
<line x1="269.1" y1="247.7" x2="270.6" y2="247.7" stroke="#ee9a3e" stroke-width="0.4"/>
<text transform="translate(233.4,259.3) rotate(0.3)" font-size="6.3" fill="#ee9448" stroke="#ee9448" stroke-width="0.12">CD8<tspan baseline-shift="super" font-size="3.8">+</tspan> T<tspan baseline-shift="sub" font-size="3.8">EM</tspan></text>
<line x1="270.6" y1="294.4" x2="470.0" y2="294.4" stroke="#d22f48" stroke-width="1.0"/>
<path d="M418.0,294.4 L418.8,293.5 L419.6,294.4 Z" fill="#d22f48"/>
<path d="M281.2,294.4 L282.0,293.8 L282.8,294.4 Z" fill="#d22f48"/>
<path d="M362.1,294.4 L362.9,293.3 L363.7,294.4 Z" fill="#d22f48"/>
<path d="M445.6,294.4 L446.4,293.6 L447.2,294.4 Z" fill="#d22f48"/>
<path d="M277.0,294.4 L277.8,293.4 L278.6,294.4 Z" fill="#d22f48"/>
<path d="M356.8,294.4 L357.6,293.5 L358.4,294.4 Z" fill="#d22f48"/>
<path d="M410.9,294.4 L411.7,293.5 L412.5,294.4 Z" fill="#d22f48"/>
<path d="M367.2,294.4 L368.0,293.3 L368.8,294.4 Z" fill="#d22f48"/>
<path d="M348.6,294.4 L349.4,293.7 L350.2,294.4 Z" fill="#d22f48"/>
<path d="M438.6,294.4 L439.4,293.8 L440.2,294.4 Z" fill="#d22f48"/>
<path d="M331.4,294.4 L332.2,293.3 L333.0,294.4 Z" fill="#d22f48"/>
<path d="M286.9,294.4 L287.7,293.3 L288.5,294.4 Z" fill="#d22f48"/>
<path d="M408.3,294.4 L409.1,293.7 L409.9,294.4 Z" fill="#d22f48"/>
<path d="M329.5,294.4 L330.3,293.4 L331.1,294.4 Z" fill="#d22f48"/>
<path d="M450.0,294.4 L450.8,293.9 L451.6,294.4 Z" fill="#d22f48"/>
<path d="M366.5,294.4 L367.3,293.6 L368.1,294.4 Z" fill="#d22f48"/>
<path d="M370.3,294.4 L371.1,293.7 L371.9,294.4 Z" fill="#d22f48"/>
<path d="M303.8,294.4 L304.6,293.5 L305.4,294.4 Z" fill="#d22f48"/>
<path d="M430.9,294.4 L431.7,293.9 L432.5,294.4 Z" fill="#d22f48"/>
<path d="M318.6,294.4 L319.4,293.3 L320.2,294.4 Z" fill="#d22f48"/>
<path d="M427.0,294.4 L427.8,293.5 L428.6,294.4 Z" fill="#d22f48"/>
<path d="M279.1,294.4 L279.9,293.4 L280.7,294.4 Z" fill="#d22f48"/>
<path d="M463.1,294.4 L463.9,293.2 L464.7,294.4 Z" fill="#d22f48"/>
<path d="M409.5,294.4 L410.3,294.0 L411.1,294.4 Z" fill="#d22f48"/>
<path d="M436.7,294.4 L437.5,293.8 L438.3,294.4 Z" fill="#d22f48"/>
<path d="M285.90,294.4 L286.65,293.57 L287.00,292.90 L287.35,293.57 L288.10,294.4 Z" fill="#d22f48"/>
<path d="M296.90,294.4 L297.65,293.85 L298.00,293.40 L298.35,293.85 L299.10,294.4 Z" fill="#d22f48"/>
<path d="M323.90,294.4 L324.65,293.30 L325.00,292.40 L325.35,293.30 L326.10,294.4 Z" fill="#d22f48"/>
<path d="M327.90,294.4 L328.65,293.02 L329.00,291.90 L329.35,293.02 L330.10,294.4 Z" fill="#d22f48"/>
<path d="M335.90,294.4 L336.65,293.57 L337.00,292.90 L337.35,293.57 L338.10,294.4 Z" fill="#d22f48"/>
<path d="M355.90,294.4 L356.65,293.30 L357.00,292.40 L357.35,293.30 L358.10,294.4 Z" fill="#d22f48"/>
<path d="M358.90,294.4 L359.65,292.20 L360.00,290.40 L360.35,292.20 L361.10,294.4 Z" fill="#d22f48"/>
<path d="M363.20,294.4 L364.25,291.10 L364.60,288.40 L364.95,291.10 L366.00,294.4 Z" fill="#d22f48"/>
<path d="M386.60,294.4 L387.35,292.75 L387.70,291.40 L388.05,292.75 L388.80,294.4 Z" fill="#d22f48"/>
<path d="M405.90,294.4 L406.65,293.85 L407.00,293.40 L407.35,293.85 L408.10,294.4 Z" fill="#d22f48"/>
<path d="M414.00,294.4 L415.05,290.55 L415.40,287.40 L415.75,290.55 L416.80,294.4 Z" fill="#d22f48"/>
<path d="M436.90,294.4 L437.65,293.57 L438.00,292.90 L438.35,293.57 L439.10,294.4 Z" fill="#d22f48"/>
<path d="M451.90,294.4 L452.65,293.02 L453.00,291.90 L453.35,293.02 L454.10,294.4 Z" fill="#d22f48"/>
<text transform="translate(264.4,294.6) rotate(0.3)" font-size="5" fill="#d22f48">0</text>
<text transform="translate(262.8,274.2) rotate(0.3)" font-size="5" fill="#d22f48">25</text>
<line x1="269.1" y1="272.6" x2="270.6" y2="272.6" stroke="#d22f48" stroke-width="0.4"/>
<text transform="translate(233.4,284.2) rotate(0.3)" font-size="6.3" fill="#cc2c48" stroke="#cc2c48" stroke-width="0.12">CD8<tspan baseline-shift="super" font-size="3.8">+</tspan> T<tspan baseline-shift="sub" font-size="3.8">EFF</tspan></text>
<text transform="translate(258.4,169.8) rotate(0.3)" font-size="5.5" fill="#333">chr5</text>
<text transform="translate(296.6,171.4) rotate(0.3)" font-size="4.6" fill="#333">134,100,000</text>
<line x1="324.6" y1="166.8" x2="324.6" y2="171.6" stroke="#333" stroke-width="0.5"/>
<text transform="translate(433.4,171.4) rotate(0.3)" font-size="4.6" fill="#333">134, 150, 000</text>
<line x1="465.4" y1="166.8" x2="465.4" y2="171.6" stroke="#333" stroke-width="0.5"/>
<rect x="270.6" y="298.8" width="199.4" height="3.5" fill="#d8dada"/>
<line x1="287.5" y1="299" x2="287.5" y2="302" stroke="#444" stroke-width="0.6"/>
<line x1="325.8" y1="299" x2="325.8" y2="302" stroke="#444" stroke-width="0.6"/>
<line x1="364.6" y1="299" x2="364.6" y2="302" stroke="#444" stroke-width="0.6"/>
<line x1="387.7" y1="299" x2="387.7" y2="302" stroke="#444" stroke-width="0.6"/>
<line x1="415.4" y1="299" x2="415.4" y2="302" stroke="#444" stroke-width="0.6"/>
<text transform="translate(220.8,310.6) rotate(0.3)" font-size="6.3" fill="#111" stroke="#111" stroke-width="0.12">EP interactions</text>
<text transform="translate(220.8,318.4) rotate(0.3)" font-size="6.3" fill="#111" stroke="#111" stroke-width="0.12">across all T-cells</text>
<text transform="translate(220.8,334.0) rotate(0.3)" font-size="6.3" fill="#111" stroke="#111" stroke-width="0.12">EP interactions</text>
<text transform="translate(220.8,342.2) rotate(0.3)" font-size="6.3" fill="#111" stroke="#111" stroke-width="0.12">within T<tspan baseline-shift="sub" font-size="4.5">EFF</tspan></text>
<path d="M288,306.8 Q326.3,336.8 364.6,306.8" fill="none" stroke="#2e2a78" stroke-width="1.15"/>
<path d="M298,306.8 Q331.3,334.8 364.6,306.8" fill="none" stroke="#2e2a78" stroke-width="1.15"/>
<path d="M335,306.8 Q349.8,326.8 364.6,306.8" fill="none" stroke="#2e2a78" stroke-width="1.15"/>
<path d="M364.6,306.8 Q379.6,326.8 394.5,306.8" fill="none" stroke="#8fb0b4" stroke-width="1.15"/>
<path d="M364.6,306.8 Q386.6,331.8 408.5,306.8" fill="none" stroke="#4a94b8" stroke-width="1.15"/>
<path d="M364.6,306.8 Q390.8,331.8 417,306.8" fill="none" stroke="#f0a898" stroke-width="1.15"/>
<path d="M364.6,306.8 Q397.1,333.8 429.7,306.8" fill="none" stroke="#4a8cc4" stroke-width="1.15"/>
<path d="M357.5,306.5 L361.5,315 L364.6,306.8" fill="none" stroke="#5b8ed0" stroke-width="0.8"/>
<path d="M288,330.8 Q326.3,360.8 364.6,330.8" fill="none" stroke="#2e2a78" stroke-width="1.15"/>
<path d="M364.6,330.8 Q379.6,351.8 394.5,330.8" fill="none" stroke="#4a8cc4" stroke-width="1.15"/>
<path d="M355,331 L360,340 L364.6,330.8" fill="none" stroke="#5b8ed0" stroke-width="0.8"/>
<text transform="translate(348.6,354.6) rotate(0.3)" font-size="6" font-style="italic" fill="#222">TCF7</text>
<line x1="365.5" y1="352.7" x2="458.8" y2="352.7" stroke="#3a3a90" stroke-width="0.8"/>
<path d="M371.2,351.6 L372.4,352.7 L371.2,353.8" fill="none" stroke="#3a3a90" stroke-width="0.4"/>
<path d="M376.2,351.6 L377.4,352.7 L376.2,353.8" fill="none" stroke="#3a3a90" stroke-width="0.4"/>
<path d="M381.2,351.6 L382.4,352.7 L381.2,353.8" fill="none" stroke="#3a3a90" stroke-width="0.4"/>
<path d="M386.2,351.6 L387.4,352.7 L386.2,353.8" fill="none" stroke="#3a3a90" stroke-width="0.4"/>
<path d="M391.2,351.6 L392.4,352.7 L391.2,353.8" fill="none" stroke="#3a3a90" stroke-width="0.4"/>
<path d="M396.2,351.6 L397.4,352.7 L396.2,353.8" fill="none" stroke="#3a3a90" stroke-width="0.4"/>
<path d="M401.2,351.6 L402.4,352.7 L401.2,353.8" fill="none" stroke="#3a3a90" stroke-width="0.4"/>
<path d="M406.2,351.6 L407.4,352.7 L406.2,353.8" fill="none" stroke="#3a3a90" stroke-width="0.4"/>
<path d="M411.2,351.6 L412.4,352.7 L411.2,353.8" fill="none" stroke="#3a3a90" stroke-width="0.4"/>
<path d="M416.2,351.6 L417.4,352.7 L416.2,353.8" fill="none" stroke="#3a3a90" stroke-width="0.4"/>
<path d="M421.2,351.6 L422.4,352.7 L421.2,353.8" fill="none" stroke="#3a3a90" stroke-width="0.4"/>
<path d="M426.2,351.6 L427.4,352.7 L426.2,353.8" fill="none" stroke="#3a3a90" stroke-width="0.4"/>
<path d="M431.2,351.6 L432.4,352.7 L431.2,353.8" fill="none" stroke="#3a3a90" stroke-width="0.4"/>
<path d="M436.2,351.6 L437.4,352.7 L436.2,353.8" fill="none" stroke="#3a3a90" stroke-width="0.4"/>
<path d="M441.2,351.6 L442.4,352.7 L441.2,353.8" fill="none" stroke="#3a3a90" stroke-width="0.4"/>
<path d="M446.2,351.6 L447.4,352.7 L446.2,353.8" fill="none" stroke="#3a3a90" stroke-width="0.4"/>
<path d="M451.2,351.6 L452.4,352.7 L451.2,353.8" fill="none" stroke="#3a3a90" stroke-width="0.4"/>
<rect x="365.5" y="351.40" width="3.00" height="2.6" fill="#2a2a80"/>
<rect x="430.6" y="351.40" width="1.20" height="2.6" fill="#2a2a80"/>
<rect x="442.5" y="351.50" width="3.80" height="2.4" fill="#2a2a80"/>
<rect x="453.6" y="351.30" width="5.30" height="2.8" fill="#2a2a80"/>
<text transform="translate(445.8,360.6) rotate(0.3)" font-size="5.4" font-style="italic" fill="#222">SKP1</text>
<rect x="461.2" y="357.6" width="8.8" height="1.6" fill="#111"/>
</svg></body></html>
